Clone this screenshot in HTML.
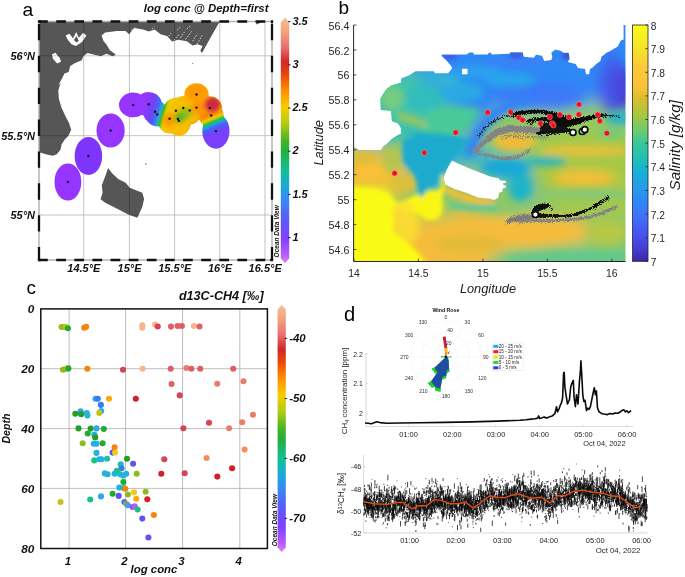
<!DOCTYPE html>
<html lang="en">
<head>
<meta charset="utf-8">
<title>Figure: methane survey panels a-d</title>
<style>
html,body{margin:0;padding:0;background:#fff;}
body{width:685px;height:577px;overflow:hidden;font-family:'Liberation Sans', sans-serif;}
svg{display:block;}
svg text{font-family:'Liberation Sans', sans-serif;}
.bi{font-weight:bold;font-style:italic;}
.it{font-style:italic;}
.pl{fill:#000;}
</style>
</head>
<body>
<svg width="685" height="577" viewBox="0 0 685 577">
<g id="panel-a">
<defs>
<linearGradient id="odv" x1="0" y1="0" x2="0" y2="1">
<stop offset="0" stop-color="#f9be90"/>
<stop offset="0.06" stop-color="#f3a07c"/>
<stop offset="0.12" stop-color="#e87070"/>
<stop offset="0.18" stop-color="#d02828"/>
<stop offset="0.235" stop-color="#ec4a08"/>
<stop offset="0.3" stop-color="#ff9200"/>
<stop offset="0.365" stop-color="#f6cc00"/>
<stop offset="0.43" stop-color="#b4cc14"/>
<stop offset="0.5" stop-color="#48b424"/>
<stop offset="0.545" stop-color="#22b040"/>
<stop offset="0.62" stop-color="#12c090"/>
<stop offset="0.69" stop-color="#1ca8dc"/>
<stop offset="0.75" stop-color="#3c84f4"/>
<stop offset="0.82" stop-color="#5a5cf6"/>
<stop offset="0.9" stop-color="#8040ff"/>
<stop offset="0.96" stop-color="#b458fa"/>
<stop offset="1" stop-color="#dc80f2"/>
</linearGradient>
<linearGradient id="gA1" gradientUnits="userSpaceOnUse" x1="142.5" y1="110" x2="180.9" y2="121.1">
<stop offset="0" stop-color="#9636ff"/>
<stop offset="0.1" stop-color="#8a38fd"/>
<stop offset="0.22" stop-color="#6e44f8"/>
<stop offset="0.34" stop-color="#4e62f4"/>
<stop offset="0.405" stop-color="#3a84ee"/>
<stop offset="0.45" stop-color="#20b4d0"/>
<stop offset="0.485" stop-color="#22b860"/>
<stop offset="0.52" stop-color="#4cb820"/>
<stop offset="0.56" stop-color="#b4cc10"/>
<stop offset="0.61" stop-color="#f0cc00"/>
<stop offset="0.72" stop-color="#f6c200"/>
<stop offset="1" stop-color="#f8bc00"/>
</linearGradient>
<linearGradient id="gA2" gradientUnits="userSpaceOnUse" x1="205.5" y1="106" x2="217" y2="133.7">
<stop offset="0" stop-color="#f88a00" stop-opacity="0"/>
<stop offset="0.3" stop-color="#f88a00" stop-opacity="0"/>
<stop offset="0.4" stop-color="#f6a000" stop-opacity="1"/>
<stop offset="0.47" stop-color="#f0cc00" stop-opacity="1"/>
<stop offset="0.53" stop-color="#9cc814" stop-opacity="1"/>
<stop offset="0.585" stop-color="#2cb83c" stop-opacity="1"/>
<stop offset="0.64" stop-color="#16b8b0" stop-opacity="1"/>
<stop offset="0.7" stop-color="#2c8cec" stop-opacity="1"/>
<stop offset="0.78" stop-color="#4a60f4" stop-opacity="1"/>
<stop offset="0.92" stop-color="#6a46f8" stop-opacity="1"/>
<stop offset="1" stop-color="#7a40fb" stop-opacity="1"/>
</linearGradient>
<filter id="blA" x="-50%" y="-50%" width="200%" height="200%"><feGaussianBlur stdDeviation="2.6"/></filter>
<filter id="blA2" x="-50%" y="-50%" width="200%" height="200%"><feGaussianBlur stdDeviation="1.6"/></filter>
<filter id="blE" x="-5%" y="-5%" width="110%" height="110%"><feGaussianBlur stdDeviation="0.45"/></filter>
<clipPath id="clipA">
<ellipse cx="67.9" cy="182" rx="13.4" ry="18.6"/>
<ellipse cx="88.4" cy="156" rx="13.8" ry="19"/>
<ellipse cx="110.6" cy="130.6" rx="14.1" ry="17"/>
<ellipse cx="133.2" cy="104.9" rx="14.2" ry="12.4"/>
<ellipse cx="148.7" cy="104.2" rx="13.2" ry="12.2"/>
<ellipse cx="155" cy="111.8" rx="12" ry="12"/>
<ellipse cx="157.3" cy="114.4" rx="12" ry="12"/>
<ellipse cx="169.6" cy="118.8" rx="12.5" ry="14.6"/>
<ellipse cx="175.9" cy="110.8" rx="12.5" ry="13"/>
<ellipse cx="177.9" cy="119" rx="12.5" ry="15.5"/>
<ellipse cx="178.9" cy="120.9" rx="12.5" ry="15.2"/>
<ellipse cx="183.3" cy="108" rx="12" ry="12"/>
<ellipse cx="189.7" cy="110.4" rx="12" ry="14"/>
<ellipse cx="196.5" cy="107.6" rx="12" ry="12.5"/>
<ellipse cx="196.5" cy="94.5" rx="12.2" ry="11.2"/>
<ellipse cx="209.8" cy="108" rx="12.4" ry="11.8"/>
<ellipse cx="211.2" cy="115.5" rx="12.6" ry="12"/>
<ellipse cx="215.9" cy="131.1" rx="13.6" ry="17.6"/>
</clipPath>
<clipPath id="frameA"><rect x="39.0" y="21.5" width="233.0" height="238.5"/></clipPath>
</defs>
<g clip-path="url(#frameA)">
<polygon points="37,19 220.7,19.1 219.5,22 213.1,33.1 207.3,43.6 202,53 200.3,50.6 202.6,45.9 197.3,44.2 192.7,45.4 186.8,41.3 178.1,39.8 172.2,41.6 167,36 160.5,34.3 154.7,29.6 148.9,31.4 143,29.6 134.3,28.1 129,34.3 125.5,31.1 116.8,31.1 105.1,32.5 101.6,35.4 103.6,41.3 106.5,44.5 109.7,50 115.9,54.7 112.4,56.2 106.5,53.8 100.7,56.2 93.4,54.4 87.6,53 83.5,55.9 81.7,60.3 74.7,63.2 70.3,66.1 68.6,71.9 64.5,73.4 61.6,79.2 58.4,85.1 60.6,83 58.3,90.5 58.8,98.6 61.6,108.1 65.9,116.9 69.1,123.2 71.2,129.7 68.4,135.8 64.6,139.8 61.1,145.1 61.6,145 60.3,150 56.8,154.3 52.8,155.8 46.8,154.6 41.7,153 37.7,152" fill="#575757" filter="url(#blE)"/>
<polygon points="255,20.1 265.5,20.1 260,23.1 256.5,24.6" fill="#575757"/>
<polygon points="65.7,35.4 69.5,33.7 73,38.4 76.2,31.9 78.8,37.8 83.2,32.8 86.4,35.4 82,41.9 75.9,45.9 71.5,44.2 67.7,39.8" fill="#fff" filter="url(#blE)"/>
<polygon points="73.8,40.1 76.5,36 78.8,40.7 76.5,42.4" fill="#575757"/>
<polygon points="51.9,54.4 55.4,52.7 59.8,57.9 61,61.7 57.2,63.5 53.1,59.1" fill="#fff" filter="url(#blE)"/>
<line x1="167" y1="38.4" x2="171.1" y2="33.1" stroke="#fff" stroke-width="0.9" stroke-dasharray="1.6 1.3" opacity="0.8"/>
<line x1="174" y1="40.1" x2="179.2" y2="34.3" stroke="#fff" stroke-width="0.9" stroke-dasharray="1.6 1.3" opacity="0.8"/>
<line x1="180.4" y1="37.8" x2="184.5" y2="31.9" stroke="#fff" stroke-width="0.9" stroke-dasharray="1.6 1.3" opacity="0.8"/>
<line x1="185.7" y1="39.5" x2="191.5" y2="31.4" stroke="#fff" stroke-width="0.9" stroke-dasharray="1.6 1.3" opacity="0.8"/>
<line x1="192.7" y1="41.3" x2="197.3" y2="33.7" stroke="#fff" stroke-width="0.9" stroke-dasharray="1.6 1.3" opacity="0.8"/>
<line x1="197.3" y1="44.2" x2="202" y2="35.4" stroke="#fff" stroke-width="0.9" stroke-dasharray="1.6 1.3" opacity="0.8"/>
<line x1="176.9" y1="30.2" x2="181" y2="26.7" stroke="#fff" stroke-width="0.9" stroke-dasharray="1.6 1.3" opacity="0.8"/>
<line x1="186.8" y1="29" x2="190.9" y2="25.5" stroke="#fff" stroke-width="0.9" stroke-dasharray="1.6 1.3" opacity="0.8"/>
<line x1="131.4" y1="30.2" x2="135.4" y2="27.8" stroke="#fff" stroke-width="0.9" stroke-dasharray="1.6 1.3" opacity="0.8"/>
<line x1="151.8" y1="29" x2="154.7" y2="26.7" stroke="#fff" stroke-width="0.9" stroke-dasharray="1.6 1.3" opacity="0.8"/>
<polygon points="108.1,168.1 112.1,173.2 118.2,178.9 125.7,182.7 129.7,187.7 142.3,192.8 144.1,199.1 142.3,206.9 137.3,217.7 128.2,214.4 115.7,208.1 105.6,203.1 100.6,199.3 102.6,192.8 101.8,185.2 105.6,175.2" fill="#575757" filter="url(#blE)"/>
<circle cx="192.6" cy="63.4" r="0.7" fill="#999"/><circle cx="145.8" cy="164" r="0.8" fill="#666"/>
</g>
<g style="mix-blend-mode:multiply">
<line x1="83.7" y1="21.5" x2="83.7" y2="260.0" stroke="#b4b4b4" stroke-width="0.8"/>
<line x1="129.4" y1="21.5" x2="129.4" y2="260.0" stroke="#b4b4b4" stroke-width="0.8"/>
<line x1="174.6" y1="21.5" x2="174.6" y2="260.0" stroke="#b4b4b4" stroke-width="0.8"/>
<line x1="219.8" y1="21.5" x2="219.8" y2="260.0" stroke="#b4b4b4" stroke-width="0.8"/>
<line x1="265.0" y1="21.5" x2="265.0" y2="260.0" stroke="#b4b4b4" stroke-width="0.8"/>
<line x1="39.0" y1="55.8" x2="272.0" y2="55.8" stroke="#b4b4b4" stroke-width="0.8"/>
<line x1="39.0" y1="135.7" x2="272.0" y2="135.7" stroke="#b4b4b4" stroke-width="0.8"/>
<line x1="39.0" y1="215.0" x2="272.0" y2="215.0" stroke="#b4b4b4" stroke-width="0.8"/>
</g>
<g clip-path="url(#clipA)" filter="url(#blE)">
<rect x="50" y="80" width="190" height="125" fill="#9636ff"/>
<ellipse cx="88.4" cy="156" rx="16" ry="21" fill="#7e34fb" filter="url(#blA)"/>
<rect x="140" y="78" width="95" height="75" fill="url(#gA1)"/>
<g filter="url(#blA)">
<ellipse cx="169" cy="120" rx="6" ry="7" fill="#ff9800"/>
<ellipse cx="196.5" cy="92" rx="12" ry="10" fill="#ff9a00"/>
<ellipse cx="198" cy="108" rx="7" ry="6" fill="#ff9000"/>
<ellipse cx="211" cy="118" rx="12" ry="6" fill="#fa7c00"/>
<ellipse cx="183" cy="115" rx="10.5" ry="5.2" transform="rotate(-30 183 115)" fill="#84c018"/>
<ellipse cx="179.8" cy="117.6" rx="4.4" ry="3.6" fill="#3cac20"/>
<ellipse cx="212.4" cy="104.6" rx="8.5" ry="8" fill="#d8283a"/>
</g>
<ellipse cx="212.8" cy="104.2" rx="5" ry="4.5" fill="#cb2c44" filter="url(#blA2)"/>
<rect x="190" y="100" width="50" height="60" fill="url(#gA2)"/>
</g>
<circle cx="67.9" cy="182" r="1.2" fill="#111"/>
<circle cx="88.4" cy="156" r="1.2" fill="#111"/>
<circle cx="110.6" cy="130.6" r="1.2" fill="#111"/>
<circle cx="133.2" cy="104.9" r="1.2" fill="#111"/>
<circle cx="148.7" cy="104.2" r="1.2" fill="#111"/>
<circle cx="155" cy="111.8" r="1.2" fill="#111"/>
<circle cx="157.3" cy="114.4" r="1.2" fill="#111"/>
<circle cx="169.6" cy="118.8" r="1.2" fill="#111"/>
<circle cx="175.9" cy="110.8" r="1.2" fill="#111"/>
<circle cx="177.9" cy="119" r="1.2" fill="#111"/>
<circle cx="178.9" cy="120.9" r="1.2" fill="#111"/>
<circle cx="183.3" cy="108" r="1.2" fill="#111"/>
<circle cx="189.7" cy="110.4" r="1.2" fill="#111"/>
<circle cx="196.5" cy="107.6" r="1.2" fill="#111"/>
<circle cx="196.5" cy="94.5" r="1.2" fill="#111"/>
<circle cx="209.8" cy="108" r="1.2" fill="#111"/>
<circle cx="211.2" cy="115.5" r="1.2" fill="#111"/>
<circle cx="215.9" cy="131.1" r="1.2" fill="#111"/>
<rect x="39.0" y="21.5" width="233.0" height="238.5" fill="none" stroke="#b0b0b0" stroke-width="1.4"/>
<line x1="39.0" y1="21.5" x2="272.0" y2="21.5" stroke="#111" stroke-width="2.3" stroke-dasharray="9.7 8.42" stroke-dashoffset="0.9"/>
<line x1="39.0" y1="260.0" x2="272.0" y2="260.0" stroke="#111" stroke-width="2.3" stroke-dasharray="9.7 8.42" stroke-dashoffset="0.9"/>
<line x1="39.0" y1="21.5" x2="39.0" y2="260.0" stroke="#111" stroke-width="2.3" stroke-dasharray="16.4 15.48" stroke-dashoffset="-2.4"/>
<line x1="272.0" y1="21.5" x2="272.0" y2="260.0" stroke="#111" stroke-width="2.3" stroke-dasharray="16.4 15.48" stroke-dashoffset="-2.4"/>
<path d="M37.85 21.5 h3 M39.0 261.15 v-3 M272.0 20.35 v3 M273.15 260.0 h-3" stroke="#111" stroke-width="2.3" fill="none"/>
<text class="pl" x="22.6" y="16.1" font-size="19.2">a</text>
<text class="bi" x="268.5" y="11.6" font-size="11.4" text-anchor="end" fill="#111">log conc @ Depth=first</text>
<text class="bi" x="35" y="59.7" font-size="11" text-anchor="end" fill="#111">56°N</text>
<text class="bi" x="35" y="139.6" font-size="11" text-anchor="end" fill="#111">55.5°N</text>
<text class="bi" x="35" y="218.9" font-size="11" text-anchor="end" fill="#111">55°N</text>
<text class="bi" x="83.9" y="271.9" font-size="11" text-anchor="middle" fill="#111">14.5°E</text>
<text class="bi" x="129.6" y="271.9" font-size="11" text-anchor="middle" fill="#111">15°E</text>
<text class="bi" x="174.8" y="271.9" font-size="11" text-anchor="middle" fill="#111">15.5°E</text>
<text class="bi" x="220" y="271.9" font-size="11" text-anchor="middle" fill="#111">16°E</text>
<text class="bi" x="265.2" y="271.9" font-size="11" text-anchor="middle" fill="#111">16.5°E</text>
<polygon points="280.8,22.5 285,17.6 289.2,22.5 289.2,258.2 285,263.2 280.8,258.2" fill="url(#odv)"/>
<line x1="288.0" y1="21.6" x2="290.59999999999997" y2="21.6" stroke="#111" stroke-width="0.9"/>
<text class="bi" x="292.4" y="24.8" font-size="11" fill="#111">3.5</text>
<line x1="288.0" y1="64.8" x2="290.59999999999997" y2="64.8" stroke="#111" stroke-width="0.9"/>
<text class="bi" x="292.4" y="68" font-size="11" fill="#111">3</text>
<line x1="288.0" y1="108" x2="290.59999999999997" y2="108" stroke="#111" stroke-width="0.9"/>
<text class="bi" x="292.4" y="111.2" font-size="11" fill="#111">2.5</text>
<line x1="288.0" y1="151.2" x2="290.59999999999997" y2="151.2" stroke="#111" stroke-width="0.9"/>
<text class="bi" x="292.4" y="154.4" font-size="11" fill="#111">2</text>
<line x1="288.0" y1="194.4" x2="290.59999999999997" y2="194.4" stroke="#111" stroke-width="0.9"/>
<text class="bi" x="292.4" y="197.6" font-size="11" fill="#111">1.5</text>
<line x1="288.0" y1="237.6" x2="290.59999999999997" y2="237.6" stroke="#111" stroke-width="0.9"/>
<text class="bi" x="292.4" y="240.8" font-size="11" fill="#111">1</text>
<text class="bi" transform="translate(279.4 257.4) rotate(-90)" font-size="6.5" fill="#111">Ocean Data View</text>
</g>
<g id="panel-b">
<defs>
<clipPath id="clipB"><rect x="354.0" y="25.0" width="271.4" height="236.5"/></clipPath>
<filter id="b9" filterUnits="userSpaceOnUse" x="300" y="-20" width="380" height="330"><feGaussianBlur stdDeviation="8"/></filter>
<filter id="b6" filterUnits="userSpaceOnUse" x="300" y="-20" width="380" height="330"><feGaussianBlur stdDeviation="5.5"/></filter>
<filter id="b4" filterUnits="userSpaceOnUse" x="300" y="-20" width="380" height="330"><feGaussianBlur stdDeviation="3.6"/></filter>
<filter id="b2" filterUnits="userSpaceOnUse" x="300" y="-20" width="380" height="330"><feGaussianBlur stdDeviation="2.2"/></filter>
<filter id="b1" filterUnits="userSpaceOnUse" x="300" y="-20" width="380" height="330"><feGaussianBlur stdDeviation="1.2"/></filter>
<filter id="b05" filterUnits="userSpaceOnUse" x="300" y="-20" width="380" height="330"><feGaussianBlur stdDeviation="0.6"/></filter>
<filter id="spkK" filterUnits="userSpaceOnUse" x="300" y="-20" width="380" height="330" color-interpolation-filters="sRGB"><feGaussianBlur in="SourceAlpha" stdDeviation="1.4" result="B"/><feTurbulence type="fractalNoise" baseFrequency="0.9" numOctaves="2" seed="3" result="N"/><feColorMatrix in="N" type="matrix" values="0 0 0 0 0  0 0 0 0 0  0 0 0 0 0  2.2 0 0 0 -0.6" result="N2"/><feComposite in="B" in2="N2" operator="arithmetic" k1="0" k2="2.1" k3="1" k4="-1.05" result="C"/><feComponentTransfer in="C" result="D"><feFuncA type="linear" slope="5" intercept="-0.6"/></feComponentTransfer><feFlood flood-color="#0c0c0c" result="F"/><feComposite in="F" in2="D" operator="in"/></filter>
<filter id="spkK2" filterUnits="userSpaceOnUse" x="300" y="-20" width="380" height="330" color-interpolation-filters="sRGB"><feGaussianBlur in="SourceAlpha" stdDeviation="0.8" result="B"/><feTurbulence type="fractalNoise" baseFrequency="0.9" numOctaves="2" seed="11" result="N"/><feColorMatrix in="N" type="matrix" values="0 0 0 0 0  0 0 0 0 0  0 0 0 0 0  2.2 0 0 0 -0.6" result="N2"/><feComposite in="B" in2="N2" operator="arithmetic" k1="0" k2="2.3" k3="1" k4="-1.05" result="C"/><feComponentTransfer in="C" result="D"><feFuncA type="linear" slope="5" intercept="-0.6"/></feComponentTransfer><feFlood flood-color="#101010" result="F"/><feComposite in="F" in2="D" operator="in"/></filter>
<filter id="spkG" filterUnits="userSpaceOnUse" x="300" y="-20" width="380" height="330" color-interpolation-filters="sRGB"><feGaussianBlur in="SourceAlpha" stdDeviation="1.5" result="B"/><feTurbulence type="fractalNoise" baseFrequency="0.9" numOctaves="2" seed="5" result="N"/><feColorMatrix in="N" type="matrix" values="0 0 0 0 0  0 0 0 0 0  0 0 0 0 0  2.2 0 0 0 -0.6" result="N2"/><feComposite in="B" in2="N2" operator="arithmetic" k1="0" k2="2.1" k3="1" k4="-1.05" result="C"/><feComponentTransfer in="C" result="D"><feFuncA type="linear" slope="5" intercept="-0.6"/></feComponentTransfer><feFlood flood-color="#848484" result="F"/><feComposite in="F" in2="D" operator="in"/></filter>
<filter id="spkG2" filterUnits="userSpaceOnUse" x="300" y="-20" width="380" height="330" color-interpolation-filters="sRGB"><feGaussianBlur in="SourceAlpha" stdDeviation="2.4" result="B"/><feTurbulence type="fractalNoise" baseFrequency="0.9" numOctaves="2" seed="8" result="N"/><feColorMatrix in="N" type="matrix" values="0 0 0 0 0  0 0 0 0 0  0 0 0 0 0  2.2 0 0 0 -0.6" result="N2"/><feComposite in="B" in2="N2" operator="arithmetic" k1="0" k2="1.9" k3="1" k4="-1.05" result="C"/><feComponentTransfer in="C" result="D"><feFuncA type="linear" slope="5" intercept="-0.6"/></feComponentTransfer><feFlood flood-color="#808080" result="F"/><feComposite in="F" in2="D" operator="in"/></filter>
<filter id="spkK3" filterUnits="userSpaceOnUse" x="300" y="-20" width="380" height="330" color-interpolation-filters="sRGB"><feGaussianBlur in="SourceAlpha" stdDeviation="1.6" result="B"/><feTurbulence type="fractalNoise" baseFrequency="0.9" numOctaves="2" seed="21" result="N"/><feColorMatrix in="N" type="matrix" values="0 0 0 0 0  0 0 0 0 0  0 0 0 0 0  2.2 0 0 0 -0.6" result="N2"/><feComposite in="B" in2="N2" operator="arithmetic" k1="0" k2="1.25" k3="1" k4="-1.05" result="C"/><feComponentTransfer in="C" result="D"><feFuncA type="linear" slope="5" intercept="-0.6"/></feComponentTransfer><feFlood flood-color="#141414" result="F"/><feComposite in="F" in2="D" operator="in"/></filter>
<filter id="spkG3" filterUnits="userSpaceOnUse" x="300" y="-20" width="380" height="330" color-interpolation-filters="sRGB"><feGaussianBlur in="SourceAlpha" stdDeviation="1.8" result="B"/><feTurbulence type="fractalNoise" baseFrequency="0.9" numOctaves="2" seed="17" result="N"/><feColorMatrix in="N" type="matrix" values="0 0 0 0 0  0 0 0 0 0  0 0 0 0 0  2.2 0 0 0 -0.6" result="N2"/><feComposite in="B" in2="N2" operator="arithmetic" k1="0" k2="1.25" k3="1" k4="-1.05" result="C"/><feComponentTransfer in="C" result="D"><feFuncA type="linear" slope="5" intercept="-0.6"/></feComponentTransfer><feFlood flood-color="#7c7c7c" result="F"/><feComposite in="F" in2="D" operator="in"/></filter>
<linearGradient id="parula" x1="0" y1="1" x2="0" y2="0">
<stop offset="0" stop-color="#3e26a8"/>
<stop offset="0.06" stop-color="#4540d6"/>
<stop offset="0.125" stop-color="#4756f3"/>
<stop offset="0.19" stop-color="#4070fb"/>
<stop offset="0.25" stop-color="#2e87f7"/>
<stop offset="0.32" stop-color="#249ee8"/>
<stop offset="0.375" stop-color="#12b1d6"/>
<stop offset="0.44" stop-color="#24c0b4"/>
<stop offset="0.5" stop-color="#37c897"/>
<stop offset="0.56" stop-color="#74cc68"/>
<stop offset="0.625" stop-color="#abc739"/>
<stop offset="0.69" stop-color="#dcbd2c"/>
<stop offset="0.75" stop-color="#fec338"/>
<stop offset="0.82" stop-color="#fcc838"/>
<stop offset="0.875" stop-color="#f5dc2c"/>
<stop offset="0.94" stop-color="#f5ee22"/>
<stop offset="1" stop-color="#f9fb15"/>
</linearGradient>
</defs>
<g clip-path="url(#clipB)">
<g filter="url(#b9)">
<rect x="300" y="-20" width="380" height="330" fill="#90c864"/>
<polygon points="380,-10 660,-10 660,104 605,100 560,108 524,104 500,108 486,118 474,134 464,128 454,106 440,86 420,70 380,70" fill="#2e88f6" />
<polygon points="330,70 425,72 448,96 458,118 452,140 420,146 395,150 330,150" fill="#3cc2ac" />
<polygon points="404,140 425,130 452,130 470,140 494,156 528,160 534,204 510,182 474,164 452,166 444,186 428,200 416,178 404,158" fill="#18aed4" />
<polygon points="330,148 388,150 404,162 410,182 400,196 330,196" fill="#ecbe38" />
<polygon points="380,205 420,220 446,216 470,208 520,216 586,222 592,240 548,246 520,290 380,290" fill="#f4bc3a" />
<polygon points="540,134 660,128 660,216 560,210 535,176" fill="#a6c846" />
<polygon points="492,251 545,247 660,238 660,290 484,290" fill="#74c880" />
</g>
<g filter="url(#b6)">
<ellipse cx="621" cy="88" rx="13" ry="22" fill="#4634c4" />
<ellipse cx="612" cy="84" rx="14" ry="30" fill="#4754ea" opacity="0.75"/>
<polygon points="320,187 386,189 393,200 394,232 410,248 434,290 320,290" fill="#f9fb15" />
<ellipse cx="584" cy="178.5" rx="32" ry="10.5" fill="#f0c038" />
<ellipse cx="608" cy="233" rx="20" ry="13" fill="#b8c844" />
<ellipse cx="530" cy="231" rx="52" ry="9.5" fill="#f6bc3a" />
<ellipse cx="500" cy="208" rx="30" ry="5" fill="#78c878" />
<ellipse cx="540" cy="95" rx="44" ry="12" fill="#3c78f8" />
</g>
<g filter="url(#b4)">
<ellipse cx="431" cy="205" rx="10" ry="12" fill="#f9fb15" />
<ellipse cx="414" cy="208" rx="14" ry="7" fill="#fae02a" />
<ellipse cx="371" cy="172" rx="18" ry="8" fill="#fbc038" />
<ellipse cx="364" cy="158" rx="12" ry="5" fill="#dcbc36" />
<ellipse cx="392" cy="98" rx="12" ry="13" fill="#74cc80" />
<ellipse cx="425" cy="98" rx="20" ry="13" fill="#30bcbc" />
<ellipse cx="440" cy="145" rx="16" ry="10" fill="#16a8d8" />
<ellipse cx="430" cy="165" rx="14" ry="14" fill="#16a8d8" />
<ellipse cx="510" cy="80" rx="26" ry="7" fill="#28a6ea" />
<ellipse cx="462" cy="92" rx="22" ry="10" fill="#2ca8e4" />
<ellipse cx="440" cy="80" rx="20" ry="9" fill="#30b0d8" />
<ellipse cx="478" cy="72" rx="26" ry="7" fill="#2ca0ee" />
<path d="M400 116.5 L416 121 L433 130" fill="none" stroke="#b0c848" stroke-width="6.5" stroke-linecap="round" stroke-linejoin="round" />
<path d="M392 152 L405 142 L420 150" fill="none" stroke="#9cc858" stroke-width="7" stroke-linecap="round" stroke-linejoin="round" />
<polygon points="426,110 455,106 477,107.5 481,113 470,127 456,137 440,141 426,140" fill="#48c89a" />
<path d="M526 100 C505 104 488 116 477 135 C474 141 472 146 470 151" fill="none" stroke="#3084f2" stroke-width="11" stroke-linecap="round" stroke-linejoin="round" />
<ellipse cx="515" cy="141" rx="22" ry="10" fill="#e6c03a" />
<ellipse cx="512" cy="143.5" rx="13" ry="5" fill="#f6b83a" />
<ellipse cx="585" cy="150.5" rx="46" ry="5" fill="#e8c03a" />
<ellipse cx="546" cy="161.5" rx="22" ry="4.2" fill="#28b4c4" />
<ellipse cx="588" cy="194" rx="50" ry="5.5" fill="#84c874" />
<ellipse cx="595" cy="161" rx="30" ry="4" fill="#a6c846" />
<ellipse cx="505" cy="168" rx="24" ry="8" fill="#16a8d8" />
<ellipse cx="520" cy="188" rx="11" ry="13" fill="#1eb4c4" />
<ellipse cx="620" cy="118" rx="14" ry="7" fill="#28b4c8" />
<ellipse cx="612" cy="133" rx="14" ry="6" fill="#74c878" />
<ellipse cx="470" cy="244" rx="34" ry="8" fill="#e2ba38" />
<ellipse cx="575" cy="258" rx="70" ry="6.5" fill="#62c88c" />
</g>
<g filter="url(#b4)">
<ellipse cx="404" cy="183" rx="14" ry="9" fill="#dcc03a" />
<ellipse cx="407" cy="226" rx="13" ry="18" fill="#f9da32" />
<ellipse cx="392" cy="160" rx="10" ry="12" fill="#b4c450" />
</g>
<g filter="url(#b2)">
<polygon points="402,140 403.1,161.7 415,174.7 419.4,194.2 422.6,197.4 425.9,188.8 436.7,183.3 443.2,172.5 451.9,160.6 454,153 462.7,146.5 471.4,140 440,134 420,134" fill="#1eaacd" />
<polygon points="340,186.6 371.7,188.8 387.9,193.1 396.6,202.9 394.4,222.4 391.2,231 406.4,241.9 421.5,257 432,275 340,275" fill="#f9fb15" />
<polygon points="406.8,200.1 415.6,194.8 422.6,197.4 427.8,191.3 436.6,190.4 441,187.8 441.5,174.7 445,174.7 445,187.8 442.2,196.6 441.5,214.1 436.6,219.3 426.1,220.2 419.1,214.1 410.3,212.3 403.3,207.1" fill="#f9f618" />
<ellipse cx="404" cy="207.5" rx="11" ry="6.5" fill="#f9e62a" />
<ellipse cx="400" cy="214" rx="8" ry="8" fill="#f9dc30" />
<path d="M446 190 L468 198.5 L492 203" fill="none" stroke="#f8bc3a" stroke-width="6" stroke-linecap="round" stroke-linejoin="round" />
<path d="M452 206 L470 207.5 L494 207" fill="none" stroke="#62c890" stroke-width="6" stroke-linecap="round" stroke-linejoin="round" />
</g>
<g filter="url(#b2)">
<ellipse cx="516.5" cy="55.5" rx="8" ry="2.4" fill="#4448d4" />
<ellipse cx="566.5" cy="55.5" rx="4" ry="4.5" fill="#4448d4" />
<ellipse cx="449" cy="57" rx="8" ry="2.4" fill="#4450de" />
<ellipse cx="520" cy="62" rx="40" ry="4" fill="#3a82f6" />
</g>
<polygon points="340,10 340,146.9 354,146.9 359.2,149.9 380.7,149.9 383.7,145.8 386.8,143.8 391.9,138.7 397,135.6 401.1,133.6 401.1,128.5 398,123.4 391.9,121.3 390.9,111.1 380.7,110.1 380.2,98.8 383.7,92.7 386.8,88.6 390.9,85.5 401.1,82.5 401.1,78.4 409.3,75.3 415.4,71.2 433.8,71.2 434.8,73.3 448.1,73.3 452.2,68.2 451.2,66.1 446,60 441.7,56 441.7,54.5 466.6,54.5 469.3,52.5 473.2,52.5 474,54.5 487.6,54.5 489,52.7 491,52.7 491.6,54.5 509.4,53.7 510.4,52.3 522.7,52.3 523.7,56.8 533.9,57.8 536,54.7 542.1,55.8 544.2,60.9 551.3,59.9 552.3,56.8 551.3,52.7 555.4,49.6 560.5,50.7 563.6,52.7 568.7,52.7 569.7,58.8 567.7,61.9 571.7,62.9 575.8,63.9 577.9,68 585,69 586.1,74.2 589.1,74.2 590.1,69 593.2,67 596.3,63.9 600.4,60.9 601.4,56.8 606.5,52.7 610.6,50.7 617.7,46.6 620.8,40.4 623.6,39.4 623.6,10" fill="#fff" />
<polygon points="462,68.8 467.5,68.8 467.5,74.3 462,74.3" fill="#fff" />
<polygon points="451.9,160.6 458.4,163.8 471.4,169.3 490,176.6 499.2,178.4 499.8,180.4 505.9,180.8 505.9,183 503.2,183 503.2,185 505.9,185.6 505.9,187.6 502.7,188.6 502.3,191.7 499.2,192.7 498.2,197.8 494.1,199.9 490,198.8 477.9,197.4 467,193.1 454,188.8 445.4,184.4 443.6,177.9 446.4,170.3" fill="#fff" />
<g filter="url(#spkG)">
<path d="M474 151 C480 146 484 142 488 139.4 C491 136 493 134 495 132.4" fill="none" stroke="#848484" stroke-width="3.0" stroke-linecap="round" stroke-linejoin="round" />
<path d="M489 138.6 C494 132 502 129.6 510 129 C520 128.8 532 129.4 546 131.4" fill="none" stroke="#848484" stroke-width="5.4" stroke-linecap="round" stroke-linejoin="round" />
<path d="M474 151 C480 153.4 492 157.4 505.3 158.6 C512 158.4 518 157 521 155.3 C525 153 528 151 530 149.2" fill="none" stroke="#848484" stroke-width="2.2" stroke-linecap="round" stroke-linejoin="round" />
<path d="M520 220 C545 221.4 572 220.6 592 216.4 C602 213.2 610 210 617 206.8" fill="none" stroke="#848484" stroke-width="2.4" stroke-linecap="round" stroke-linejoin="round" />
</g>
<g filter="url(#spkG2)" opacity="0.85">
<ellipse cx="521" cy="219" rx="10" ry="3.2" fill="#848484" />
<path d="M500 136 C512 136 530 137 548 138" fill="none" stroke="#848484" stroke-width="3.0" stroke-linecap="round" stroke-linejoin="round" />
</g>
<g filter="url(#spkK)">
<polygon points="548.8,114 553,112.6 557.6,112.4 561,114.2 564.6,116.4 570,118.2 575.1,119.1 582.1,117.4 592.6,115.6 603.1,114.2 612.7,115.8 612.7,116.6 603.1,116.8 592.6,118.6 583.8,121.2 578.6,123.9 571.6,125.6 562.8,126.5 555.8,126.5 551.4,123.9 547.9,120.1" fill="#0c0c0c" />
<path d="M512 115.2 C516 113.8 519 113.2 522.5 112.7 C527 111.8 531 111.5 534.8 111.4 C539 111.5 542 111.8 545.3 112.3 C548 112.8 551 113.4 554 114.2" fill="none" stroke="#0c0c0c" stroke-width="2.8" stroke-linecap="round" stroke-linejoin="round" />
<path d="M527.8 120.9 C532 119.6 536 119.2 540 119 C543 119 546 119.4 549.5 120" fill="none" stroke="#0c0c0c" stroke-width="2.6" stroke-linecap="round" stroke-linejoin="round" />
<path d="M538.3 133.4 C542 132.2 546 131.4 550.5 130.8 C555 130.2 559 130 562.8 129.9 C565 130 568 130.4 570 130.8" fill="none" stroke="#0c0c0c" stroke-width="3.2" stroke-linecap="round" stroke-linejoin="round" />
</g>
<g filter="url(#spkK3)">
<polygon points="538,124 548,121 556,126 568,126.5 570,131 560,134 546,135.5 540,131" fill="#0c0c0c" />
<path d="M479 138 C480 133 482.6 129 491.3 122.2 C496 119.2 503.6 117 513 114.8" fill="none" stroke="#0c0c0c" stroke-width="2.6" stroke-linecap="round" stroke-linejoin="round" />
<path d="M604 115.6 C609 115.4 614 116 620 117.6" fill="none" stroke="#0c0c0c" stroke-width="2.6" stroke-linecap="round" stroke-linejoin="round" />
<path d="M516 117.5 C522 118.6 528 121 533 125" fill="none" stroke="#0c0c0c" stroke-width="2.6" stroke-linecap="round" stroke-linejoin="round" />
<path d="M594 207.4 C599 203.6 604 200.4 609 197.6" fill="none" stroke="#0c0c0c" stroke-width="4" stroke-linecap="round" stroke-linejoin="round" />
<path d="M548 205 C551 206 552 208 552 210" fill="none" stroke="#0c0c0c" stroke-width="2.4" stroke-linecap="round" stroke-linejoin="round" />
</g>
<g filter="url(#spkK2)">
<path d="M533 215 L546 215.8" fill="none" stroke="#0c0c0c" stroke-width="3.0" stroke-linecap="round" stroke-linejoin="round" />
<path d="M541 215.6 C552 216.2 562 216.2 571.8 215.4 C576 214.6 580 213.2 584 211.4" fill="none" stroke="#0c0c0c" stroke-width="1.9" stroke-linecap="round" stroke-linejoin="round" />
<path d="M584 211.4 C590 208.6 596 205.2 601 202" fill="none" stroke="#161616" stroke-width="1.5" stroke-linecap="round" stroke-linejoin="round" />
<path d="M533.4 213 C534 207 540 204.4 549 205.4" fill="none" stroke="#0c0c0c" stroke-width="2.9" stroke-linecap="round" stroke-linejoin="round" />
<path d="M535.5 212 C538 209.4 541 208 545 208" fill="none" stroke="#0c0c0c" stroke-width="1.8" stroke-linecap="round" stroke-linejoin="round" />
</g>
<g filter="url(#spkG3)">
<path d="M508 221.5 C516 218 524 216.6 532 216.8" fill="none" stroke="#848484" stroke-width="6" stroke-linecap="round" stroke-linejoin="round" />
</g>
</g>
<circle cx="394.6" cy="173.3" r="2.75" fill="#f20c1c" stroke="#f6d8d0" stroke-width="0.5" stroke-opacity="0.7"/>
<circle cx="424.3" cy="152.8" r="2.75" fill="#f20c1c" stroke="#f6d8d0" stroke-width="0.5" stroke-opacity="0.7"/>
<circle cx="455.7" cy="132.6" r="2.75" fill="#f20c1c" stroke="#f6d8d0" stroke-width="0.5" stroke-opacity="0.7"/>
<circle cx="487.6" cy="112.4" r="2.75" fill="#f20c1c" stroke="#f6d8d0" stroke-width="0.5" stroke-opacity="0.7"/>
<circle cx="510.6" cy="112.1" r="2.75" fill="#f20c1c" stroke="#f6d8d0" stroke-width="0.5" stroke-opacity="0.7"/>
<circle cx="519" cy="117.7" r="2.75" fill="#f20c1c" stroke="#f6d8d0" stroke-width="0.5" stroke-opacity="0.7"/>
<circle cx="522.5" cy="120" r="2.75" fill="#f20c1c" stroke="#f6d8d0" stroke-width="0.5" stroke-opacity="0.7"/>
<circle cx="540.5" cy="123.5" r="2.75" fill="#f20c1c" stroke="#f6d8d0" stroke-width="0.5" stroke-opacity="0.7"/>
<circle cx="549.7" cy="117" r="2.75" fill="#f20c1c" stroke="#f6d8d0" stroke-width="0.5" stroke-opacity="0.7"/>
<circle cx="552.1" cy="123.4" r="2.75" fill="#f20c1c" stroke="#f6d8d0" stroke-width="0.5" stroke-opacity="0.7"/>
<circle cx="553.5" cy="125.3" r="2.75" fill="#f20c1c" stroke="#f6d8d0" stroke-width="0.5" stroke-opacity="0.7"/>
<circle cx="559.9" cy="114.7" r="2.75" fill="#f20c1c" stroke="#f6d8d0" stroke-width="0.5" stroke-opacity="0.7"/>
<circle cx="569" cy="117" r="2.75" fill="#f20c1c" stroke="#f6d8d0" stroke-width="0.5" stroke-opacity="0.7"/>
<circle cx="578.8" cy="114.6" r="2.75" fill="#f20c1c" stroke="#f6d8d0" stroke-width="0.5" stroke-opacity="0.7"/>
<circle cx="579" cy="104.4" r="2.75" fill="#f20c1c" stroke="#f6d8d0" stroke-width="0.5" stroke-opacity="0.7"/>
<circle cx="597.7" cy="114.7" r="2.75" fill="#f20c1c" stroke="#f6d8d0" stroke-width="0.5" stroke-opacity="0.7"/>
<circle cx="599.8" cy="121" r="2.75" fill="#f20c1c" stroke="#f6d8d0" stroke-width="0.5" stroke-opacity="0.7"/>
<circle cx="606.9" cy="133.2" r="2.75" fill="#f20c1c" stroke="#f6d8d0" stroke-width="0.5" stroke-opacity="0.7"/>
<circle cx="573" cy="132.5" r="3.0" fill="#fff" stroke="#0a0a0a" stroke-width="1.7"/>
<circle cx="582.3" cy="131.5" r="3.0" fill="#fff" stroke="#0a0a0a" stroke-width="1.7"/>
<circle cx="584.8" cy="129.7" r="3.0" fill="#fff" stroke="#0a0a0a" stroke-width="1.7"/>
<circle cx="535.4" cy="214.6" r="3.0" fill="#fff" stroke="#0a0a0a" stroke-width="1.7"/>
<path d="M353.6 25.0 V261.5 H625.4" fill="none" stroke="#262626" stroke-width="1"/>
<line x1="353.6" y1="25" x2="356.4" y2="25" stroke="#262626" stroke-width="0.8"/>
<text x="349.4" y="29.5" font-size="10.7" text-anchor="end" fill="#262626">56.4</text>
<line x1="353.6" y1="50" x2="356.4" y2="50" stroke="#262626" stroke-width="0.8"/>
<text x="349.4" y="54.5" font-size="10.7" text-anchor="end" fill="#262626">56.2</text>
<line x1="353.6" y1="74.9" x2="356.4" y2="74.9" stroke="#262626" stroke-width="0.8"/>
<text x="349.4" y="79.4" font-size="10.7" text-anchor="end" fill="#262626">56</text>
<line x1="353.6" y1="99.8" x2="356.4" y2="99.8" stroke="#262626" stroke-width="0.8"/>
<text x="349.4" y="104.3" font-size="10.7" text-anchor="end" fill="#262626">55.8</text>
<line x1="353.6" y1="124.8" x2="356.4" y2="124.8" stroke="#262626" stroke-width="0.8"/>
<text x="349.4" y="129.3" font-size="10.7" text-anchor="end" fill="#262626">55.6</text>
<line x1="353.6" y1="149.8" x2="356.4" y2="149.8" stroke="#262626" stroke-width="0.8"/>
<text x="349.4" y="154.2" font-size="10.7" text-anchor="end" fill="#262626">55.4</text>
<line x1="353.6" y1="174.7" x2="356.4" y2="174.7" stroke="#262626" stroke-width="0.8"/>
<text x="349.4" y="179.2" font-size="10.7" text-anchor="end" fill="#262626">55.2</text>
<line x1="353.6" y1="199.7" x2="356.4" y2="199.7" stroke="#262626" stroke-width="0.8"/>
<text x="349.4" y="204.2" font-size="10.7" text-anchor="end" fill="#262626">55</text>
<line x1="353.6" y1="224.6" x2="356.4" y2="224.6" stroke="#262626" stroke-width="0.8"/>
<text x="349.4" y="229.1" font-size="10.7" text-anchor="end" fill="#262626">54.8</text>
<line x1="353.6" y1="249.5" x2="356.4" y2="249.5" stroke="#262626" stroke-width="0.8"/>
<text x="349.4" y="254" font-size="10.7" text-anchor="end" fill="#262626">54.6</text>
<line x1="354" y1="261.5" x2="354" y2="258.7" stroke="#262626" stroke-width="0.8"/>
<text x="354" y="277" font-size="10.4" text-anchor="middle" fill="#262626">14</text>
<line x1="418.4" y1="261.5" x2="418.4" y2="258.7" stroke="#262626" stroke-width="0.8"/>
<text x="418.4" y="277" font-size="10.4" text-anchor="middle" fill="#262626">14.5</text>
<line x1="482.9" y1="261.5" x2="482.9" y2="258.7" stroke="#262626" stroke-width="0.8"/>
<text x="482.9" y="277" font-size="10.4" text-anchor="middle" fill="#262626">15</text>
<line x1="547.4" y1="261.5" x2="547.4" y2="258.7" stroke="#262626" stroke-width="0.8"/>
<text x="547.4" y="277" font-size="10.4" text-anchor="middle" fill="#262626">15.5</text>
<line x1="611.8" y1="261.5" x2="611.8" y2="258.7" stroke="#262626" stroke-width="0.8"/>
<text x="611.8" y="277" font-size="10.4" text-anchor="middle" fill="#262626">16</text>
<text class="it" x="488" y="293.3" font-size="12.8" text-anchor="middle" fill="#222">Longitude</text>
<text class="it" transform="translate(322.8 142.8) rotate(-90)" font-size="12.8" text-anchor="middle" fill="#222">Latitude</text>
<text class="pl" x="338.6" y="14.4" font-size="19">b</text>
<rect x="632.6" y="25" width="15.4" height="236.3" fill="url(#parula)" stroke="#262626" stroke-width="0.8"/>
<line x1="645.4" y1="25" x2="648" y2="25" stroke="#262626" stroke-width="0.8"/>
<text x="650.8" y="29.5" font-size="10.2" fill="#262626">8</text>
<line x1="645.4" y1="48.6" x2="648" y2="48.6" stroke="#262626" stroke-width="0.8"/>
<text x="650.8" y="53.1" font-size="10.2" fill="#262626">7.9</text>
<line x1="645.4" y1="72.3" x2="648" y2="72.3" stroke="#262626" stroke-width="0.8"/>
<text x="650.8" y="76.8" font-size="10.2" fill="#262626">7.8</text>
<line x1="645.4" y1="95.9" x2="648" y2="95.9" stroke="#262626" stroke-width="0.8"/>
<text x="650.8" y="100.4" font-size="10.2" fill="#262626">7.7</text>
<line x1="645.4" y1="119.5" x2="648" y2="119.5" stroke="#262626" stroke-width="0.8"/>
<text x="650.8" y="124" font-size="10.2" fill="#262626">7.6</text>
<line x1="645.4" y1="143.1" x2="648" y2="143.1" stroke="#262626" stroke-width="0.8"/>
<text x="650.8" y="147.6" font-size="10.2" fill="#262626">7.5</text>
<line x1="645.4" y1="166.8" x2="648" y2="166.8" stroke="#262626" stroke-width="0.8"/>
<text x="650.8" y="171.3" font-size="10.2" fill="#262626">7.4</text>
<line x1="645.4" y1="190.4" x2="648" y2="190.4" stroke="#262626" stroke-width="0.8"/>
<text x="650.8" y="194.9" font-size="10.2" fill="#262626">7.3</text>
<line x1="645.4" y1="214" x2="648" y2="214" stroke="#262626" stroke-width="0.8"/>
<text x="650.8" y="218.5" font-size="10.2" fill="#262626">7.2</text>
<line x1="645.4" y1="237.7" x2="648" y2="237.7" stroke="#262626" stroke-width="0.8"/>
<text x="650.8" y="242.2" font-size="10.2" fill="#262626">7.1</text>
<line x1="645.4" y1="261.3" x2="648" y2="261.3" stroke="#262626" stroke-width="0.8"/>
<text x="650.8" y="265.8" font-size="10.2" fill="#262626">7</text>
<text class="it" transform="translate(680.4 145.3) rotate(-90)" font-size="15.2" text-anchor="middle" fill="#1a1a1a">Salinity [g/kg]</text>
</g>
<g id="panel-c">
<line x1="69.1" y1="308.9" x2="69.1" y2="548.5" stroke="#aeaeae" stroke-width="0.8"/>
<line x1="125.6" y1="308.9" x2="125.6" y2="548.5" stroke="#aeaeae" stroke-width="0.8"/>
<line x1="182.6" y1="308.9" x2="182.6" y2="548.5" stroke="#aeaeae" stroke-width="0.8"/>
<line x1="239.8" y1="308.9" x2="239.8" y2="548.5" stroke="#aeaeae" stroke-width="0.8"/>
<line x1="40.3" y1="368.7" x2="267.6" y2="368.7" stroke="#aeaeae" stroke-width="0.8"/>
<line x1="40.3" y1="428.6" x2="267.6" y2="428.6" stroke="#aeaeae" stroke-width="0.8"/>
<line x1="40.3" y1="488.4" x2="267.6" y2="488.4" stroke="#aeaeae" stroke-width="0.8"/>
<g opacity="0.96">
<circle cx="61.6" cy="327" r="3.05" fill="#8cb818"/>
<circle cx="64.1" cy="327" r="3.05" fill="#8cb818"/>
<circle cx="65.9" cy="327" r="3.05" fill="#c4c010"/>
<circle cx="67.9" cy="328.2" r="3.05" fill="#18a828"/>
<circle cx="84.2" cy="327.7" r="3.05" fill="#f58006"/>
<circle cx="86.2" cy="326.7" r="3.05" fill="#f58006"/>
<circle cx="142.3" cy="325.2" r="3.05" fill="#f8b488"/>
<circle cx="142.3" cy="327.7" r="3.05" fill="#f8b488"/>
<circle cx="155.1" cy="324.5" r="3.05" fill="#f8b488"/>
<circle cx="157.7" cy="326.5" r="3.05" fill="#d43c50"/>
<circle cx="171" cy="326.6" r="3.05" fill="#de5a5e"/>
<circle cx="177.6" cy="326" r="3.05" fill="#de5a5e"/>
<circle cx="181.9" cy="326" r="3.05" fill="#de5a5e"/>
<circle cx="193.9" cy="326" r="3.05" fill="#f8b488"/>
<circle cx="199.5" cy="326.5" r="3.05" fill="#de5a5e"/>
<circle cx="62.9" cy="369.7" r="3.05" fill="#8cb818"/>
<circle cx="64.9" cy="369.2" r="3.05" fill="#8cb818"/>
<circle cx="67.9" cy="368" r="3.05" fill="#c4c010"/>
<circle cx="68.4" cy="368.6" r="3.05" fill="#18a828"/>
<circle cx="87.3" cy="368.7" r="3.05" fill="#f58006"/>
<circle cx="123" cy="369.7" r="3.05" fill="#d43c50"/>
<circle cx="142.6" cy="368.7" r="3.05" fill="#f8b488"/>
<circle cx="170.7" cy="368.7" r="3.05" fill="#de5a5e"/>
<circle cx="186.4" cy="368" r="3.05" fill="#e87868"/>
<circle cx="191.4" cy="368.7" r="3.05" fill="#de5a5e"/>
<circle cx="200.2" cy="368.7" r="3.05" fill="#de5a5e"/>
<circle cx="233.2" cy="368.7" r="3.05" fill="#de5a5e"/>
<circle cx="171.6" cy="384" r="3.05" fill="#de5a5e"/>
<circle cx="217.3" cy="383.8" r="3.05" fill="#e87868"/>
<circle cx="243.5" cy="381.3" r="3.05" fill="#e87868"/>
<circle cx="179.7" cy="395.4" r="3.05" fill="#d43c50"/>
<circle cx="253" cy="414.7" r="3.05" fill="#e87868"/>
<circle cx="209" cy="422.8" r="3.05" fill="#d43c50"/>
<circle cx="242.2" cy="422.3" r="3.05" fill="#e87868"/>
<circle cx="183.4" cy="428.3" r="3.05" fill="#d43c50"/>
<circle cx="229.1" cy="428.3" r="3.05" fill="#e87868"/>
<circle cx="135.8" cy="398.7" r="3.05" fill="#d01820"/>
<circle cx="109" cy="398.7" r="3.05" fill="#f8a806"/>
<circle cx="164.3" cy="459.3" r="3.05" fill="#d43c50"/>
<circle cx="161.3" cy="473.8" r="3.05" fill="#d01820"/>
<circle cx="184.7" cy="473.3" r="3.05" fill="#d43c50"/>
<circle cx="206.6" cy="458" r="3.05" fill="#f08c58"/>
<circle cx="244.6" cy="449.6" r="3.05" fill="#f08c58"/>
<circle cx="232.1" cy="468.2" r="3.05" fill="#d01820"/>
<circle cx="217.3" cy="476.6" r="3.05" fill="#d01820"/>
<circle cx="95.5" cy="398.8" r="3.05" fill="#2aa2f2"/>
<circle cx="97.8" cy="398.8" r="3.05" fill="#2c78f4"/>
<circle cx="100.9" cy="404.9" r="3.05" fill="#2c78f4"/>
<circle cx="101.2" cy="411" r="3.05" fill="#2aa2f2"/>
<circle cx="99.3" cy="412.9" r="3.05" fill="#c4c010"/>
<circle cx="80.6" cy="411.2" r="3.05" fill="#2aa2f2"/>
<circle cx="75.3" cy="413.8" r="3.05" fill="#1c9a1c"/>
<circle cx="81.2" cy="414.3" r="3.05" fill="#1c9a1c"/>
<circle cx="86.8" cy="413" r="3.05" fill="#18b0dc"/>
<circle cx="87.5" cy="415.6" r="3.05" fill="#18b0dc"/>
<circle cx="78.5" cy="428.4" r="3.05" fill="#1c9a1c"/>
<circle cx="90.7" cy="428.6" r="3.05" fill="#1c9a1c"/>
<circle cx="96.6" cy="428.4" r="3.05" fill="#2aa2f2"/>
<circle cx="103.8" cy="429" r="3.05" fill="#18a828"/>
<circle cx="87.7" cy="433.5" r="3.05" fill="#18a828"/>
<circle cx="94.3" cy="434.6" r="3.05" fill="#18b0dc"/>
<circle cx="95.2" cy="437.4" r="3.05" fill="#1c9a1c"/>
<circle cx="82.7" cy="443.2" r="3.05" fill="#8cb818"/>
<circle cx="93.8" cy="443.8" r="3.05" fill="#18b0dc"/>
<circle cx="96.5" cy="443.8" r="3.05" fill="#18b0dc"/>
<circle cx="102.6" cy="443.2" r="3.05" fill="#18a828"/>
<circle cx="114.6" cy="447.4" r="3.05" fill="#f58006"/>
<circle cx="112.6" cy="452.6" r="3.05" fill="#5a4cf4"/>
<circle cx="115.1" cy="452.6" r="3.05" fill="#f2c80c"/>
<circle cx="96.5" cy="452.9" r="3.05" fill="#18b0dc"/>
<circle cx="127" cy="458.7" r="3.05" fill="#1c9a1c"/>
<circle cx="94.3" cy="460.4" r="3.05" fill="#12c078"/>
<circle cx="99.3" cy="459.3" r="3.05" fill="#18b0dc"/>
<circle cx="101.5" cy="459.3" r="3.05" fill="#18b0dc"/>
<circle cx="107.1" cy="458.7" r="3.05" fill="#14bca8"/>
<circle cx="133.1" cy="463.7" r="3.05" fill="#5a4cf4"/>
<circle cx="120.7" cy="464.3" r="3.05" fill="#14bca8"/>
<circle cx="121.5" cy="468.2" r="3.05" fill="#2c78f4"/>
<circle cx="116.8" cy="470.9" r="3.05" fill="#12c078"/>
<circle cx="104.9" cy="473.4" r="3.05" fill="#18b0dc"/>
<circle cx="107.6" cy="474.3" r="3.05" fill="#18b0dc"/>
<circle cx="114.6" cy="473.7" r="3.05" fill="#18b0dc"/>
<circle cx="120.1" cy="474.3" r="3.05" fill="#14bca8"/>
<circle cx="122.9" cy="475.6" r="3.05" fill="#18b0dc"/>
<circle cx="126.2" cy="473.7" r="3.05" fill="#18b0dc"/>
<circle cx="136.7" cy="473.7" r="3.05" fill="#8cb818"/>
<circle cx="123.4" cy="482" r="3.05" fill="#18a828"/>
<circle cx="119.3" cy="487.6" r="3.05" fill="#18b0dc"/>
<circle cx="123.6" cy="488" r="3.05" fill="#14bca8"/>
<circle cx="125.3" cy="488.7" r="3.05" fill="#f58006"/>
<circle cx="127.9" cy="494.5" r="3.05" fill="#8cb818"/>
<circle cx="134" cy="492.3" r="3.05" fill="#f2c80c"/>
<circle cx="145.6" cy="491.7" r="3.05" fill="#8cb818"/>
<circle cx="112.6" cy="493.7" r="3.05" fill="#18a828"/>
<circle cx="101" cy="496.4" r="3.05" fill="#2aa2f2"/>
<circle cx="118.7" cy="495.9" r="3.05" fill="#5a4cf4"/>
<circle cx="136.2" cy="498.7" r="3.05" fill="#f8a806"/>
<circle cx="147.3" cy="499.2" r="3.05" fill="#d01820"/>
<circle cx="90.2" cy="499.5" r="3.05" fill="#12c078"/>
<circle cx="60.5" cy="502" r="3.05" fill="#c4c010"/>
<circle cx="124.3" cy="502" r="3.05" fill="#2c78f4"/>
<circle cx="126.4" cy="504" r="3.05" fill="#f58006"/>
<circle cx="127.8" cy="505.3" r="3.05" fill="#2aa2f2"/>
<circle cx="132.6" cy="507" r="3.05" fill="#9444f6"/>
<circle cx="134.8" cy="506.2" r="3.05" fill="#b456f4"/>
<circle cx="137.6" cy="509.5" r="3.05" fill="#12c078"/>
<circle cx="153.9" cy="515" r="3.05" fill="#f58006"/>
<circle cx="142.3" cy="518.6" r="3.05" fill="#5a4cf4"/>
<circle cx="148.4" cy="537.5" r="3.05" fill="#5a4cf4"/>
</g>
<rect x="40.8" y="308.9" width="226.60000000000002" height="239.60000000000002" fill="none" stroke="#111" stroke-width="1.5"/>
<text class="pl" x="26.4" y="294.2" font-size="19">c</text>
<text class="bi" x="263.6" y="300.4" font-size="12.6" text-anchor="end" fill="#111">d13C-CH4 [‰]</text>
<text class="bi" x="34.4" y="313" font-size="11.8" text-anchor="end" fill="#111">0</text>
<text class="bi" x="34.4" y="372.8" font-size="11.8" text-anchor="end" fill="#111">20</text>
<text class="bi" x="34.4" y="432.7" font-size="11.8" text-anchor="end" fill="#111">40</text>
<text class="bi" x="34.4" y="492.5" font-size="11.8" text-anchor="end" fill="#111">60</text>
<text class="bi" x="34.4" y="552.6" font-size="11.8" text-anchor="end" fill="#111">80</text>
<text class="bi" x="67.9" y="565.2" font-size="11.4" text-anchor="middle" fill="#111">1</text>
<text class="bi" x="124.4" y="565.2" font-size="11.4" text-anchor="middle" fill="#111">2</text>
<text class="bi" x="181.4" y="565.2" font-size="11.4" text-anchor="middle" fill="#111">3</text>
<text class="bi" x="238.6" y="565.2" font-size="11.4" text-anchor="middle" fill="#111">4</text>
<text class="bi" x="154" y="573.2" font-size="11.4" text-anchor="middle" fill="#111">log conc</text>
<text class="bi" transform="translate(9.6 428.6) rotate(-90)" font-size="10.6" text-anchor="middle" fill="#111">Depth</text>
<polygon points="277.6,309.6 281.7,305 285.8,309.6 285.8,547.4 281.7,552 277.6,547.4" fill="url(#odv)"/>
<line x1="284.6" y1="338.4" x2="287.2" y2="338.4" stroke="#111" stroke-width="0.9"/>
<text class="bi" x="289.2" y="341.9" font-size="11.4" fill="#111">-40</text>
<line x1="284.6" y1="398.6" x2="287.2" y2="398.6" stroke="#111" stroke-width="0.9"/>
<text class="bi" x="289.2" y="402.1" font-size="11.4" fill="#111">-50</text>
<line x1="284.6" y1="458.4" x2="287.2" y2="458.4" stroke="#111" stroke-width="0.9"/>
<text class="bi" x="289.2" y="461.9" font-size="11.4" fill="#111">-60</text>
<line x1="284.6" y1="518.4" x2="287.2" y2="518.4" stroke="#111" stroke-width="0.9"/>
<text class="bi" x="289.2" y="521.9" font-size="11.4" fill="#111">-70</text>
<text class="bi" transform="translate(276.6 546.2) rotate(-90)" font-size="6.5" fill="#111">Ocean Data View</text>
</g>
<g id="panel-d">
<text class="pl" x="343.9" y="320.9" font-size="20.2">d</text>
<path d="M366.0 353.4 V426.6 H633" fill="none" stroke="#cfcfcf" stroke-width="0.8"/>
<line x1="366.0" y1="354.1" x2="368.0" y2="354.1" stroke="#cfcfcf" stroke-width="0.7"/>
<text x="362.8" y="356.6" font-size="6.9" text-anchor="end" fill="#262626">2.2</text>
<line x1="366.0" y1="383.6" x2="368.0" y2="383.6" stroke="#cfcfcf" stroke-width="0.7"/>
<text x="362.8" y="386.1" font-size="6.9" text-anchor="end" fill="#262626">2.1</text>
<line x1="366.0" y1="413.2" x2="368.0" y2="413.2" stroke="#cfcfcf" stroke-width="0.7"/>
<text x="362.8" y="415.7" font-size="6.9" text-anchor="end" fill="#262626">2</text>
<line x1="408.3" y1="426.6" x2="408.3" y2="424.6" stroke="#cfcfcf" stroke-width="0.7"/>
<text x="408.6" y="436.8" font-size="7.4" text-anchor="middle" fill="#262626">01:00</text>
<line x1="452" y1="426.6" x2="452" y2="424.6" stroke="#cfcfcf" stroke-width="0.7"/>
<text x="452.3" y="436.8" font-size="7.4" text-anchor="middle" fill="#262626">02:00</text>
<line x1="495.7" y1="426.6" x2="495.7" y2="424.6" stroke="#cfcfcf" stroke-width="0.7"/>
<text x="496" y="436.8" font-size="7.4" text-anchor="middle" fill="#262626">03:00</text>
<line x1="539.4" y1="426.6" x2="539.4" y2="424.6" stroke="#cfcfcf" stroke-width="0.7"/>
<text x="539.7" y="436.8" font-size="7.4" text-anchor="middle" fill="#262626">04:00</text>
<line x1="583.1" y1="426.6" x2="583.1" y2="424.6" stroke="#cfcfcf" stroke-width="0.7"/>
<text x="583.4" y="436.8" font-size="7.4" text-anchor="middle" fill="#262626">05:00</text>
<line x1="626.8" y1="426.6" x2="626.8" y2="424.6" stroke="#cfcfcf" stroke-width="0.7"/>
<text x="627.1" y="436.8" font-size="7.4" text-anchor="middle" fill="#262626">06:00</text>
<text x="625.6" y="445.6" font-size="7.4" text-anchor="end" fill="#262626">Oct 04, 2022</text>
<text transform="translate(347.3 391) rotate(-90)" font-size="7.95" text-anchor="middle" fill="#262626">CH<tspan dy="1.8" font-size="5.6">4</tspan><tspan dy="-1.8"> concentration [ppm]</tspan></text>
<polyline points="365,423 368,423.2 371.5,423.8 374,422.8 376.8,421.7 380,422.6 387.3,423.2 400,423 418.8,422.7 445,422.4 471.4,421.9 497.6,421.1 520,420.3 526,419.8 531.3,419.1 535,418.7 537.8,418.1 538.6,415.9 539.7,418.5 542,417.8 544.4,417 546,418 548.4,417.4 550.4,416.4 552.3,415.9 554.9,413.6 556.5,406.7 557.5,411.9 559,409 560.2,405.4 561.5,402.7 562.6,398 563.6,373 564.2,372.4 564.9,387 566,394.8 567.5,404 568.4,401.6 569.4,400.1 570.7,387 572,383 573.3,380.4 574.1,397.5 575.4,406.7 576.5,394.8 578,404 579.4,381.7 580.4,371.2 580.9,360.7 581.7,373.8 582.8,394.8 583.8,401.4 585,400.2 586.5,410.6 587.8,408.2 589.1,409.3 590.4,406.6 591.7,400.1 593,393.5 594.3,387.7 595.4,394.8 596.4,390.9 597.5,408 599.1,411.9 602.2,413.8 605,414.2 607.5,414.6 610,413.6 612.7,414 615,413 618,413.2 620,412 621.9,410.6 623.8,409.8 625.3,411.9 626.8,410.8 628.5,412.7 629.8,411.6 631.1,410.6" fill="none" stroke="#0a0a0a" stroke-width="1.6" stroke-linejoin="round"/>
<g fill="none" stroke="#f2f2f2" stroke-width="0.5">
<circle cx="445.9" cy="356.7" r="11.8"/>
<circle cx="445.9" cy="356.7" r="23.6"/>
<circle cx="445.9" cy="356.7" r="35.4"/>
<line x1="445.9" y1="392.1" x2="445.9" y2="321.3"/>
<line x1="428.2" y1="387.4" x2="463.6" y2="326"/>
<line x1="415.2" y1="374.4" x2="476.6" y2="339"/>
<line x1="410.5" y1="356.7" x2="481.3" y2="356.7"/>
<line x1="415.2" y1="339" x2="476.6" y2="374.4"/>
<line x1="428.2" y1="326" x2="463.6" y2="387.4"/>
</g>
<polygon points="445.9,356.7 432.5,369.6 436.7,373.3 429.3,383.8 432,386.9 435.1,386.7 435.7,389.8 440.1,391.1 442.2,379.3 444.3,378.5 446.4,375.4 447,372.7 449.1,371.2 448.8,360.6 447.7,357" fill="#1f4e9e"/>
<polygon points="427.5,383.2 430.9,380.9 435.1,386.7 432,388" fill="#1ed02a"/>
<polygon points="434.9,387.2 440.9,388.8 440.4,391.9 435.1,390.6" fill="#1ed02a"/>
<polygon points="431.4,368.8 434.1,367.2 437.8,372.7 435.7,374" fill="#1ed02a"/>
<polygon points="442.2,376.9 446.4,375.4 446.2,378 442.7,379.6" fill="#1ed02a"/>
<polygon points="446.4,370.6 449.6,369.6 449.6,371.7 446.7,373.3" fill="#1ed02a"/>
<polygon points="445.9,356.7 442.7,337 445.6,336.2 447.2,347.5" fill="#c41e3e"/>
<polygon points="445.9,356.7 444.3,348.6 447.5,347.5 447.7,353.3" fill="#f0c020"/>
<polygon points="445.9,356.7 444.8,352.8 447.2,352.2" fill="#f08020"/>
<polygon points="447.7,353.3 449.8,350.7 448.8,354.3" fill="#d03030"/>
<polygon points="440.9,355.9 445.9,356.7 451.4,356.2 451.4,357.5 445.9,357.5 440.9,357.5" fill="#1ed02a"/>
<circle cx="445.9" cy="356.7" r="1.3" fill="#111"/>
<text x="445.9" y="311.8" font-size="5.2" font-weight="bold" text-anchor="middle" fill="#111">Wind Rose</text>
<text x="445.9" y="318.9" font-size="5" text-anchor="middle" fill="#333">0</text>
<text x="467.4" y="323.6" font-size="5" text-anchor="middle" fill="#333">30</text>
<text x="481.1" y="336.8" font-size="5" text-anchor="middle" fill="#333">60</text>
<text x="485.8" y="358.8" font-size="5" text-anchor="middle" fill="#333">90</text>
<text x="482.4" y="379.8" font-size="5" text-anchor="middle" fill="#333">120</text>
<text x="468.8" y="393.2" font-size="5" text-anchor="middle" fill="#333">150</text>
<text x="445.9" y="398.2" font-size="5" text-anchor="middle" fill="#333">180</text>
<text x="423.3" y="393.2" font-size="5" text-anchor="middle" fill="#333">210</text>
<text x="409.1" y="379.8" font-size="5" text-anchor="middle" fill="#333">240</text>
<text x="404.4" y="358.8" font-size="5" text-anchor="middle" fill="#333">270</text>
<text x="409.1" y="337.3" font-size="5" text-anchor="middle" fill="#333">300</text>
<text x="422.8" y="323.6" font-size="5" text-anchor="middle" fill="#333">330</text>
<text x="450.1" y="331.5" font-size="5" text-anchor="middle" fill="#333">40</text>
<text x="448.8" y="345.2" font-size="5" text-anchor="middle" fill="#333">20</text>
<rect x="492.7" y="343" width="30.4" height="27.4" fill="#fff" stroke="#e0e0e0" stroke-width="0.5"/>
<rect x="493.3" y="344.8" width="5.1" height="3.0" fill="#38a0e4"/>
<text x="498.8" y="347.9" font-size="4.6" fill="#222">20 - 25 m/s</text>
<rect x="493.3" y="350.2" width="5.1" height="3.0" fill="#e8202c"/>
<text x="498.8" y="353.3" font-size="4.6" fill="#222">15 - 20 m/s</text>
<rect x="493.3" y="355.5" width="5.1" height="3.0" fill="#f0e020"/>
<text x="498.8" y="358.6" font-size="4.6" fill="#222">10 - 15 m/s</text>
<rect x="493.3" y="360.9" width="5.1" height="3.0" fill="#20d830"/>
<text x="498.8" y="364" font-size="4.6" fill="#222">5 - 10 m/s</text>
<rect x="493.3" y="366.3" width="5.1" height="3.0" fill="#3838f0"/>
<text x="498.8" y="369.4" font-size="4.6" fill="#222">0 - 5 m/s</text>
<path d="M363.7 455 V533.0 H648" fill="none" stroke="#cfcfcf" stroke-width="0.8"/>
<line x1="363.7" y1="466.6" x2="365.7" y2="466.6" stroke="#cfcfcf" stroke-width="0.7"/>
<text x="361.3" y="469.2" font-size="7.3" text-anchor="end" fill="#262626">-46</text>
<line x1="363.7" y1="489.4" x2="365.7" y2="489.4" stroke="#cfcfcf" stroke-width="0.7"/>
<text x="361.3" y="492" font-size="7.3" text-anchor="end" fill="#262626">-48</text>
<line x1="363.7" y1="511.3" x2="365.7" y2="511.3" stroke="#cfcfcf" stroke-width="0.7"/>
<text x="361.3" y="513.9" font-size="7.3" text-anchor="end" fill="#262626">-50</text>
<line x1="363.7" y1="533.2" x2="365.7" y2="533.2" stroke="#cfcfcf" stroke-width="0.7"/>
<text x="361.3" y="535.8" font-size="7.3" text-anchor="end" fill="#262626">-52</text>
<line x1="409.6" y1="533.0" x2="409.6" y2="531.0" stroke="#cfcfcf" stroke-width="0.7"/>
<text x="409.6" y="543.1" font-size="7.5" text-anchor="middle" fill="#262626">01:00</text>
<line x1="456" y1="533.0" x2="456" y2="531.0" stroke="#cfcfcf" stroke-width="0.7"/>
<text x="456" y="543.1" font-size="7.5" text-anchor="middle" fill="#262626">02:00</text>
<line x1="502.4" y1="533.0" x2="502.4" y2="531.0" stroke="#cfcfcf" stroke-width="0.7"/>
<text x="502.4" y="543.1" font-size="7.5" text-anchor="middle" fill="#262626">03:00</text>
<line x1="548.8" y1="533.0" x2="548.8" y2="531.0" stroke="#cfcfcf" stroke-width="0.7"/>
<text x="548.8" y="543.1" font-size="7.5" text-anchor="middle" fill="#262626">04:00</text>
<line x1="595.2" y1="533.0" x2="595.2" y2="531.0" stroke="#cfcfcf" stroke-width="0.7"/>
<text x="595.2" y="543.1" font-size="7.5" text-anchor="middle" fill="#262626">05:00</text>
<line x1="641.6" y1="533.0" x2="641.6" y2="531.0" stroke="#cfcfcf" stroke-width="0.7"/>
<text x="641.6" y="543.1" font-size="7.5" text-anchor="middle" fill="#262626">06:00</text>
<text x="640.4" y="552.6" font-size="7.8" text-anchor="end" fill="#262626">Oct 04, 2022</text>
<text transform="translate(344.2 493.5) rotate(-90)" font-size="8.3" text-anchor="middle" fill="#262626">δ<tspan dy="-2.6" font-size="5.6">13</tspan><tspan dy="2.6">CH</tspan><tspan dy="1.8" font-size="5.6">4</tspan><tspan dy="-1.8"> [‰]</tspan></text>
<path d="M364 500.4v5.5M363.9 497.6v3M364 503.4v0.8M363.8 504.1v2M363.8 501.6v3M364 503.2v0.8M363.8 513.8v2M364.4 506.1v0.8M364.4 488.2v0.8M364.2 494.3v4.2M364.2 512v3M364.3 509.4v1M364.4 484.9v2M364.3 497.4v2M364.2 498.9v5.5M364.9 497v3M364.7 509v0.8M364.7 505.2v2M364.6 506.4v4.2M364.7 488.2v5.5M364.7 496.2v4.2M364.9 489.6v0.8M364.7 502.4v1.4M365.3 509.5v4.2M365.1 497.3v4.2M365.1 508.4v2M365.2 493v1M365.2 494.3v1M365.6 501.5v1M365.7 501.7v2M365.7 495v4.2M365.4 502.3v1M365.4 497.2v4.2M365.4 492.8v1.4M365.5 500.2v1M365.9 511.6v3M366 501.1v5.5M365.9 494.7v5.5M365.7 497.4v2M365.8 499.9v4.2M365.7 509.9v2M365.9 520.4v1.4M365.7 509.3v3M366.1 502.5v4.2M366.3 507.3v1.4M366.4 500v2M366.2 502.8v2M366.2 500.3v4.2M366.5 514.6v3M366.6 502.9v4.2M366.7 507.5v4.2M366.7 502.1v4.2M366.7 490.7v1.4M366.6 500.2v3M366.7 493.9v3M366.7 500.2v5.5M366.7 504.4v4.2M366.9 500.3v1.4M367 499.3v1M367.1 504.2v4.2M366.7 496.9v1.4M366.8 504.6v1.4M367.1 502.4v3M366.8 497.1v4.2M367.3 495.6v1M367.3 507.1v1M367.3 498.8v4.2M367.4 499.7v2M367.1 504.4v1M367.5 502.4v3M367.3 500.6v5.5M367.4 498.6v2M367.1 498v1M367.9 484.6v2M367.9 500.5v1M367.7 504.9v1.4M367.8 507.3v5.5M367.5 503.1v1M367.7 510.4v4.2M367.7 492.3v3M367.6 505.4v3M367.7 506.9v5.5M368.1 505.4v3M367.9 506.5v3M368.2 498.6v2M368.2 493.9v0.8M368.2 509v0.8M368.5 503.6v1.4M368.5 500.4v3M368.4 502.6v3M368.4 505.5v2M368.6 502.4v1.4M368.6 508.1v1M368.4 503.5v2M368.3 502.7v4.2M368.8 510v4.2M368.9 501v1M368.8 507.7v1M368.9 514.8v1M368.6 509.1v5.5M368.7 498.3v2M368.7 485.2v1M368.8 508.9v1.4M368.8 506.9v2M369 499.2v5.5M368.9 503.8v1.4M369 497.1v5.5M369.3 500v5.5M369.3 484.7v5.5M369.1 492.5v3M369 505.6v4.2M369.1 499.1v1M369.3 504v5.5M369.6 501.8v1.4M369.4 497.2v3M369.5 507v1.4M369.6 517.3v0.8M369.6 499v5.5M369.8 507v2M370 505.4v0.8M369.6 507.8v0.8M369.8 502.3v1M369.9 496v1M370.3 499.3v2M370 497.7v1M370.2 501.6v5.5M370.3 498.7v1.4M369.9 493.4v5.5M370 509.4v1.4M369.9 504.4v0.8M370.3 505.4v4.2M370 486.7v3M370.6 502.8v1.4M370.2 509.3v1M370.3 501.1v1.4M370.4 504.6v0.8M370.5 506.1v3M370.3 502.7v0.8M370.3 512.2v0.8M371 504.4v3M370.9 502.2v4.2M370.8 499.1v3M370.7 496.1v1M370.9 513.1v3M370.9 509.7v3M370.9 503v4.2M371.3 493.5v0.8M371.4 482.6v4.2M371.1 489.2v4.2M371.4 504.3v1.4M371.3 500.4v2M371.2 487.1v4.2M371.2 495.7v1M371.4 513.9v4.2M371.8 514.8v1.4M371.5 505.9v5.5M371.7 500.5v4.2M371.6 496.9v2M371.6 494.4v4.2M372 507.9v1.4M371.9 504.6v4.2M371.9 503v0.8M371.8 501.9v4.2M372 504.3v4.2M371.9 512.7v2M371.8 505.8v3M372.1 478.9v0.8M371.9 510.7v5.5M372.4 516.5v0.8M372.5 495.5v1M372.5 501.7v3M372.3 508.4v3M372.6 507.4v2M372.4 506.7v2M372.4 510.3v4.2M372.6 503.6v1.4M372.7 506.5v5.5M372.8 493.4v1M372.7 514.3v4.2M372.8 499.3v5.5M372.9 511v1.4M373.3 506.6v4.2M373.1 504.3v3M373.1 507.8v5.5M373.3 515.2v5.5M373.3 501.4v2M373.6 512.3v2M373.6 506.4v1.4M373.5 497.4v3M373.5 501.2v1.4M373.8 505.7v4.2M373.6 505.7v1.4M373.6 513v4.2M373.6 508.1v1M374 519.6v2M373.9 492.4v3M374 508.6v0.8M374 506.7v1.4M374.2 491.7v4.2M374 498.5v2M374.2 498.4v1.4M374 502.8v2M374.4 495.6v5.5M374.6 499.2v2M374.7 506.2v2M374.4 510.4v0.8M374.6 486.4v2M374.5 507v3M374.7 509.2v0.8M374.8 501v1M374.9 491.5v4.2M374.9 480v5.5M374.6 491.1v0.8M374.7 505.3v1M375 513.6v1.4M374.7 494.2v4.2M375.1 507.7v3M375 503.5v0.8M375.4 519.6v1.4M375.4 500.8v5.5M375.2 511.4v2M375.3 501.9v2M375 503.6v1.4M375.2 509.1v4.2M375.1 521.2v1.4M375.5 505.4v2M375.7 504.1v1.4M375.4 504.2v3M375.7 498.7v5.5M375.6 504.9v1M375.8 503.7v0.8M375.6 516.3v2M376.2 487.1v1M375.9 501.8v3M376.1 502v0.8M376.2 502.8v4.2M375.9 506.6v4.2M375.9 505v1M376.1 502.4v3M376.2 484.5v2M376.3 512.5v1.4M376.4 506.1v0.8M376.5 504.1v5.5M376.5 495.3v5.5M376.3 517.2v1M376.2 512.3v2M376.4 494.1v0.8M376.5 519.5v1M376.7 503.4v0.8M376.7 500.2v1.4M376.9 486.4v1.4M376.8 495.2v4.2M376.7 497v1.4M377.3 483.9v0.8M377.4 512.2v2M377.3 509.8v2M377.3 515.9v1M377 491.8v1M377.3 506.6v4.2M377.1 496.5v3M377.3 505.5v5.5M377.3 504.1v4.2M377.5 506.8v3M377.7 505.9v0.8M377.5 507.8v1.4M377.7 502.3v4.2M377.4 508.8v1M377.9 513v5.5M377.8 516.5v1.4M377.8 515.9v1.4M377.7 503.2v1M377.7 497.4v1M377.7 512.7v1.4M378.1 495.2v1.4M377.7 494.6v5.5M378.2 491.9v5.5M378 504.7v1.4M378.3 502.7v1M378.3 503.6v5.5M378.1 505.6v5.5M378.6 512.1v3M378.6 511v0.8M378.4 506.8v1.4M378.7 506.3v4.2M378.6 503.1v1.4M378.5 504.1v1.4M378.6 498.1v5.5M378.5 508.4v2M378.5 509.7v3M379.1 502.4v1.4M379.2 498.8v2M379 501.6v1.4M379.2 511v0.8M379 509.6v1M378.9 503.9v2M378.9 515.6v2M379 505v0.8M378.9 508.9v1M379.5 504.3v3M379.3 498.9v4.2M379.2 505.3v3M379.2 507.6v0.8M379.2 485.6v5.5M379.5 503.2v1M379.8 496.3v0.8M379.7 493.3v1M379.5 491.5v5.5M379.6 489.6v5.5M379.5 507.6v3M379.6 495.2v2M379.5 506.2v1M380.1 498.1v0.8M380.1 498.5v2M380.2 503.7v4.2M380 498.7v1M380 496.2v4.2M380.1 498.2v0.8M380.3 491.9v5.5M380.4 494.3v2M380.3 509.3v1.4M380.4 505.7v2M380.3 502.5v1M380.3 500.3v4.2M380.7 499.7v5.5M380.9 510.4v4.2M380.7 489.6v0.8M381 505.3v5.5M380.9 501.4v1M381.2 508.6v1M381.1 493.6v2M381.4 494.1v3M381.3 494.6v3M381.2 502.6v1.4M381.4 502v4.2M381.5 504.8v3M381.6 500.3v5.5M381.7 509v3M381.6 500.3v0.8M381.8 493.2v4.2M381.6 502.6v1.4M381.8 502.9v1.4M381.9 509.7v3M382.2 501v4.2M382.1 516.5v1.4M381.8 489.5v4.2M382 510.3v2M382.2 512.9v1.4M382.3 503.9v3M382.3 510v1M382.4 508.6v1.4M382.2 506.8v2M382.5 514.8v0.8M382.2 504.5v0.8M382.5 499.1v0.8M382.7 506.3v5.5M382.7 496.6v2M382.8 513.8v3M382.5 504.9v0.8M382.6 523.7v0.8M382.5 502.6v5.5M382.7 506.6v3M382.7 509.1v1M382.9 505.1v1.4M382.9 497.2v4.2M383.1 512.6v4.2M383.2 493.9v2M383.1 501.5v4.2M383 494.4v1M382.9 508.1v0.8M383.3 505.4v4.2M383 509.4v0.8M383.5 522.3v1.4M383.3 492.3v1M383.6 498.2v1M383.6 503v1M383.4 502.6v2M383.4 495.9v1M383.6 512.8v4.2M384 494.5v2M383.9 483.8v1M383.9 497.6v3M384 505.7v3M383.9 502.3v0.8M383.8 502.5v1M383.7 502.3v0.8M384.4 502.8v3M384.4 501v1M384.4 511.6v0.8M384.4 485.9v5.5M384.1 507.8v1M384.4 503.1v2M384.7 496.6v0.8M384.5 500.8v1.4M384.5 500.3v0.8M384.5 502.7v5.5M384.7 502.6v1.4M384.6 498.8v1.4M384.7 500.2v0.8M384.5 509.5v0.8M385.1 500v3M385 490.2v1M385.2 495.7v5.5M384.9 503.3v0.8M384.8 511.6v5.5M385 510.3v2M385.2 512v3M385.1 501.5v1.4M385.4 512.2v0.8M385.5 514.9v0.8M385.3 504.9v1.4M385.3 517.7v4.2M385.2 497.3v4.2M385.4 506.1v3M385.9 495.9v5.5M385.8 505.8v3M385.9 502v1M385.9 508.7v2M385.9 504.4v2M385.8 501.3v1.4M385.7 508v4.2M385.7 509.6v1M385.6 504.4v3M386 494.6v1M386 496.1v1M386.3 527.3v1M386 493.3v0.8M386.2 503.5v1.4M386 504.3v2M386.4 500.8v0.8M386.6 506.6v3M386.4 496v1.4M386.2 509.9v2M386.6 511.6v1M386.9 488.5v4.2M386.8 510.1v4.2M386.9 492.9v1M386.7 496.5v1.4M386.6 493.8v4.2M386.9 488.6v4.2M386.7 508.5v1M386.9 493.5v3M387 508.2v5.5M387.2 515.3v5.5M387.1 506.4v3M387.3 502.7v4.2M387.3 515.6v0.8M387.2 500v2M387.3 500.8v4.2M387.2 493.2v1.4M387.4 484.9v1M387.6 523.8v1.4M387.4 523.2v1.4M387.7 504.3v2M387.6 505.2v4.2M387.4 501.8v1M387.7 510.9v2M387.7 497.7v5.5M387.4 504.4v2M387.9 494.1v3M387.9 503v4.2M387.9 495.7v5.5M387.9 474.8v5.5M387.9 518.1v1M388.3 505.5v2M388.1 489.9v5.5M388.3 504.1v1M388.3 498.9v3M388.4 507.5v4.2M388 505.3v2M388.7 513.7v4.2M388.4 516v4.2M388.7 516.8v1.4M388.5 499.9v3M388.8 506.1v1.4M388.8 519.9v1M388.7 504.5v4.2M388.9 489.6v1.4M388.9 497v4.2M389.2 516.9v4.2M388.9 510.2v3M389.1 486.6v2M389.1 511.3v0.8M389.1 514.8v1M389.1 493.4v3M389.1 501.9v1.4M389.3 494.6v4.2M389.4 502.3v4.2M389.5 501.9v0.8M389.6 501.3v1.4M389.6 506.1v5.5M389.3 506.5v0.8M389.6 499.9v0.8M389.4 503.9v1.4M389.4 503.9v1M389.8 502v5.5M389.8 495.6v1.4M389.9 500.2v1M389.7 508v5.5M389.8 505.6v1M389.6 510.9v4.2M390 508v3M390.4 502.6v5.5M390.3 503.6v3M390.2 509.6v3M390.1 505.2v3M390 496.9v4.2M390.6 501.3v1M390.6 497.3v2M390.7 509.7v1.4M390.6 495.8v1M390.4 495.9v1.4M390.4 499.1v0.8M390.5 492.1v0.8M390.3 504.3v3M390.6 509.5v3M391.1 498.9v4.2M391 508.6v2M390.8 502.8v2M390.9 504.6v1M390.7 503v4.2M391.4 507.6v1.4M391.3 507.6v1M391.4 502.5v1.4M391.4 488.7v4.2M391.4 508.9v1.4M391.8 519.2v0.8M391.6 493.7v0.8M391.6 513.4v3M391.7 496.6v1.4M391.7 486.2v5.5M391.7 493.1v0.8M391.8 517.1v2M392 496v2M392.2 492.6v5.5M392 511.8v3M391.9 498v1.4M392.1 509.8v5.5M392.5 508.8v1.4M392.4 490.7v1M392.6 497.1v1M392.6 489.9v1.4M392.5 499v1M392.6 507.2v5.5M392.6 504.1v1M392.7 492.2v5.5M392.6 516.4v5.5M392.9 511v5.5M393 508.1v5.5M392.7 509.5v3M392.9 503.8v2M392.7 505.3v5.5M392.9 510.4v2M392.7 513.9v5.5M393.3 512.3v2M393.1 496.6v1M393.2 504.7v4.2M393.3 508.8v3M393.2 494.9v1M393.2 510.2v2M393.1 512.4v5.5M393.3 512.2v1.4M393.8 504.2v5.5M393.8 493.2v1.4M393.6 504.2v1.4M393.7 513.9v5.5M393.5 499.1v1M393.6 508.6v1M393.4 504.8v0.8M393.6 488.2v2M394.2 486.4v4.2M394 485.1v1.4M394.1 500.2v4.2M394 505.4v1M393.9 512.7v4.2M394.5 517.5v0.8M394.3 510.5v0.8M394.6 487.9v5.5M394.2 504.7v0.8M394.4 505.5v1M394.4 506.7v1.4M394.3 492.3v2M394.6 495.8v5.5M394.9 506.5v4.2M394.5 486.8v5.5M394.6 503.9v5.5M394.6 513.7v4.2M395.1 499.6v0.8M395 502.1v1.4M394.9 501.3v1.4M395.2 505.7v1M395.1 505.5v1M395.3 504.6v5.5M395.3 506v5.5M395.2 497.4v2M395.2 503.1v3M395.4 511.8v1M395.3 495.4v5.5M395.4 503.4v1.4M395.6 509.7v1M395.9 506.2v4.2M395.9 511.2v2M395.7 513.8v1.4M395.7 486.4v3M395.7 509v1.4M396.3 512.9v3M396.3 502.5v0.8M396.3 498.5v3M396.2 503.6v1M396.2 498v4.2M396 505.3v0.8M396.5 512.6v1.4M396.7 495.5v5.5M396.8 506.5v2M396.5 501.5v2M396.7 498.8v3M396.4 497.1v1.4M396.4 497.5v5.5M397.1 508.3v1M397.2 501.8v5.5M397.1 502.6v3M396.9 480.6v0.8M397 511.9v2M397.1 509v3M396.9 505v0.8M397.2 488.4v0.8M397.4 496v4.2M397.4 500.4v4.2M397.2 513.7v3M397.4 497.6v0.8M397.5 492.4v0.8M397.8 495.9v2M397.5 497.6v1M397.6 500.2v3M397.8 488.9v0.8M398.1 502.8v0.8M398 502.9v1.4M398.2 508.6v5.5M398.2 491.6v5.5M397.8 500v3M397.8 510.5v3M398 499v5.5M398.4 502.4v1M398.3 504.9v0.8M398.4 495.6v2M398.6 500.8v5.5M398.4 499.8v5.5M398.6 500.2v1.4M398.6 493.3v5.5M398.7 504.3v0.8M398.7 500.5v1.4M399 500.3v3M398.8 502.1v0.8M398.8 497.7v0.8M399 499.6v1.4M398.6 495.2v4.2M399.2 491.1v1M399.2 496.3v1.4M399.3 490.6v2M399.1 498.3v0.8M399.4 502.6v2M399 510.2v2M399.1 492v1M399.3 507.4v5.5M399.4 503.1v3M399.5 509.2v0.8M399.5 497.6v5.5M399.7 504.3v1M399.6 500v4.2M399.4 507.4v1.4M400 506.4v4.2M400.1 491v5.5M400 500.1v4.2M399.8 516.1v1M399.9 509.7v3M399.8 508.4v2M400 506.2v5.5M399.9 500.7v5.5M400.1 509v1.4M400 493.8v1.4M400.3 497.3v4.2M400.2 492.6v1M400 499.4v5.5M400.3 492v0.8M400.1 496.4v1.4M400.4 512.5v0.8M400.8 501.4v1.4M400.5 521v5.5M400.6 492.6v5.5M400.6 493.7v4.2M400.6 498.1v4.2M401 501.8v3M401.2 506.1v3M401.1 503.4v2M401.2 504.2v2M401.1 505.7v4.2M400.9 496v5.5M401.2 499.2v0.8M400.9 504.6v3M401.2 499.6v1.4M401.5 486.4v1M401.5 498.7v1M401.5 510.5v0.8M401.6 503.1v4.2M401.3 506.6v5.5M401.6 501.4v4.2M401.4 505.4v5.5M402 494.7v1.4M401.8 501.1v3M401.7 503.3v3M401.8 504.9v1M401.7 500.8v0.8M402.3 503.1v0.8M402.1 498.3v3M402 500.4v1M402.1 493.2v4.2M402.1 510.3v1.4M402.2 495.1v3M402.3 516.6v3M402.7 502.1v3M402.3 505.3v1.4M402.6 508.5v2M402.7 496.2v2M402.6 512.4v4.2M402.8 500.4v5.5M402.7 501.6v1M402.8 502.2v1.4M402.7 503.4v1.4M402.9 496v2M402.8 501.7v0.8M402.7 509.8v2M403.1 498.5v5.5M403.1 500.9v4.2M403.1 501.6v5.5M403.2 508.7v2M403.1 502.2v1.4M403.2 494.5v4.2M403.7 502.1v1M403.6 497.9v1.4M403.6 491.6v2M403.6 500.3v3M403.7 507.3v1M403.7 508v3M403.7 507.3v4.2M403.5 497v3M403.8 508.2v1.4M403.7 512.9v0.8M403.8 509.6v5.5M404 499.6v0.8M404 505.3v5.5M403.8 506.1v1.4M404.1 505.6v4.2M404 497.2v5.5M404 506.8v1.4M404.2 516.5v2M404.3 502.5v5.5M404.2 505.8v1.4M404.4 499.1v3M404.4 501.9v0.8M404.2 499.3v2M404.3 499.5v0.8M404.6 504.8v3M404.8 512.9v2M404.8 488.8v0.8M404.8 494.2v5.5M404.8 516.2v3M404.9 495.6v0.8M405.3 521.7v4.2M405.2 490v4.2M405 511.5v1M405.1 521.8v2M405.2 515.5v1.4M405.5 500.6v1M405.5 483.1v1M405.4 499.9v1M405.4 496.9v1.4M405.7 487.5v1M405.7 494.8v1M405.5 493.7v1M405.4 496.5v1.4M405.6 502.5v4.2M406.1 506.9v1M405.8 500.6v4.2M405.8 511.1v3M406 503v2M406 503.3v1M406.1 517.3v5.5M406.2 517.6v0.8M406.3 508.5v1.4M406.2 513.5v0.8M406.4 512v2M406.2 504.7v0.8M406.7 501.4v3M406.7 490v4.2M406.7 501.3v3M406.9 506.3v1.4M406.8 499.3v4.2M406.8 499.5v1.4M406.9 512.6v0.8M407.1 512.2v4.2M407.3 501.9v5.5M407.1 502.2v2M407.1 512.2v5.5M407.3 506.3v1.4M407.1 509.4v1.4M407.4 512.6v4.2M407.7 515.6v2M407.7 501.7v1.4M407.5 502v1M407.7 501.4v2M407.6 481.9v5.5M407.5 520.9v1M407.8 503v3M408 505.7v4.2M407.9 506.3v1.4M408.2 518.9v1M408 506.4v1M408 513.6v4.2M408.1 505.9v1M408.3 499v2M408.6 516.3v5.5M408.6 500.3v4.2M408.5 497.8v3M408.5 499.8v1.4M408.5 500v1.4M408.3 497v4.2M408.8 500.1v3M408.7 496.8v3M408.8 500.8v2M408.9 509.7v1M408.7 509.3v0.8M408.9 512.1v1M408.9 494.8v1.4M408.9 506v3M408.9 515.1v0.8M409.1 506.3v2M409.4 497.6v5.5M409.3 505.7v0.8M409.4 511v2M409.3 503.8v2M409.4 508.4v2M409.2 505.1v1M409.2 502.1v0.8M409.6 500.6v1M409.6 506.7v0.8M409.7 512.5v4.2M409.5 496.3v1M409.7 513.3v4.2M409.5 488.3v5.5M409.8 505.1v3M409.6 515.4v4.2M409.8 501.3v0.8M409.9 507v1.4M409.8 501.5v2M409.8 507.2v5.5M409.9 503.7v0.8M410.2 503.6v1.4M410 505.3v4.2M410.2 492.8v2M410.3 502.5v3M410.5 509.6v0.8M410.4 508.3v5.5M410.3 505.9v3M410.3 499.3v5.5M410.5 506.6v1M410.8 504.9v1M410.8 509.5v1.4M410.8 506.7v1.4M410.7 501.4v0.8M410.7 509.3v2M411.1 495.8v4.2M411.2 503.6v3M411.1 512.9v1.4M410.9 481.1v4.2M411.2 500.6v3M411.1 510.3v2M410.9 507.6v4.2M411.7 504.5v1.4M411.5 502.9v5.5M411.6 517.2v1.4M411.4 506.6v4.2M411.6 501.6v1.4M411.6 512.2v1M411.9 516.3v2M412 506.2v2M411.8 505.3v0.8M411.9 507.6v4.2M411.8 505v1.4M412 499.6v1M412.3 510.4v5.5M412.2 502.4v5.5M412.2 493.5v1M412.3 507.1v1M412.3 508.5v1M412.4 508.4v1M412.6 514.1v1M412.4 522.2v0.8M412.4 512.4v4.2M412.5 500.1v1M412.8 508.7v1.4M412.5 508.6v1M412.6 510.5v2M412.7 506.7v4.2M412.9 514v5.5M413.1 503.8v2M413.1 506v0.8M412.9 485.8v0.8M413 498v4.2M412.8 508v1M413 512.3v3M413.1 502.6v3M413.3 514.7v1M413.4 504.5v1.4M413.2 502.5v4.2M413.3 503.8v5.5M413.2 503.2v1.4M413.1 497.2v1.4M413.7 496.4v1M413.7 510.6v0.8M413.4 516.7v3M413.6 513.8v3M413.7 511.3v1.4M413.7 507.4v1M413.7 509.2v5.5M413.9 498.2v5.5M413.8 501v5.5M413.8 502.7v1M413.7 508v4.2M413.9 503.1v5.5M414.4 503.4v2M414 503.3v1.4M414.2 501.8v4.2M414.2 504v5.5M414.1 508.9v1.4M414.3 508.2v3M414.4 505.2v2M414.6 514.4v0.8M414.6 487.6v1M414.7 508.9v3M414.6 493.5v5.5M414.6 510.2v4.2M414.6 511.7v1M414.9 488.9v1M415.2 525.1v1M415.1 517.7v0.8M415.1 520.4v2M415.1 514.3v4.2M415.2 513.2v1.4M415.3 506v1M415.4 507.4v0.8M415.5 512.7v0.8M415.5 502.1v0.8M415.3 517.2v1M415.2 509.7v3M415.7 488.1v0.8M415.9 503.1v1M415.6 513.8v0.8M415.5 505.4v1M415.7 503.6v1M415.9 530v2M415.8 514v1.4M415.7 502.7v4.2M416 506.3v4.2M416.3 500.1v2M416.2 514.1v2M415.9 519.2v4.2M416.1 498.6v3M416 520.9v4.2M416.2 508.8v1M416.5 487.6v0.8M416.5 493.6v2M416.5 501.9v1.4M416.6 496.3v4.2M416.4 501.2v3M416.8 496.9v2M416.9 518.6v1.4M417 508.9v4.2M416.8 512v4.2M417 507.8v3M417 501.2v5.5M416.9 514.4v3M417.3 501.4v1M417.1 507.4v1M417.3 501.1v4.2M417.4 498.6v4.2M417.2 499.1v0.8M417.1 499.2v2M417.6 500.8v3M417.7 515v2M417.7 506.9v2M417.6 513.1v2M417.5 506.7v3M417.4 502.6v4.2M417.5 497.6v3M417.8 505.3v1.4M417.9 505.7v1M417.8 492.9v1.4M417.9 499.9v5.5M417.8 499.1v0.8M418.1 504.2v2M418 503.3v0.8M418.4 504.1v4.2M418.2 516.2v1.4M418.2 498.8v3M418.4 513.2v5.5M418.5 499.3v1.4M418.7 497.8v4.2M418.5 505.8v0.8M418.8 491.2v4.2M418.8 500.5v2M418.6 507.6v2M418.7 508.1v3M418.6 511.8v1M418.8 501.8v2M419.1 510.6v1M418.8 503.8v2M418.8 502.6v5.5M419 494.3v1M419.1 508v2M419 493.4v5.5M419.1 501.6v2M418.8 507.4v1.4M419.3 503.2v1.4M419.5 510.6v4.2M419.5 492.9v2M419.3 500.3v1.4M419.4 514.3v5.5M419.3 491.1v1.4M419.7 500.9v4.2M419.7 497.7v1M419.7 516.6v4.2M419.5 513v3M419.8 508.6v3M419.6 512.4v2M419.6 507v4.2M419.9 517.8v2M419.9 498.6v0.8M420.2 507.7v0.8M420.1 502.4v4.2M419.9 502.6v5.5M420 504.6v4.2M420.1 512.4v1M420.2 505v5.5M420.3 507.3v5.5M420.5 506.5v2M420.2 505.3v4.2M420.5 507.4v1M420.5 503.7v3M420.4 508.1v4.2M420.4 512.6v1.4M420.3 516v1M420.7 506.5v4.2M420.8 501v1M420.7 496.7v4.2M420.9 503.5v0.8M420.9 512.7v0.8M420.8 508.1v3M421 509.5v0.8M421.3 497.8v1.4M421 502.9v0.8M421.1 503.7v2M421.2 514.4v1M421 501.7v1.4M421 497.5v1.4M421.4 500.2v1M421.4 507.1v1.4M421.6 503.8v0.8M421.3 498.4v2M421.4 493.8v3M421.3 500.2v0.8M421.6 499v4.2M421.7 503.8v1.4M421.8 497.3v0.8M421.8 510.1v2M421.7 496.6v1.4M421.8 506.4v2M421.7 502.4v3M421.7 501.3v3M422.3 488.4v1M422.2 498.3v3M422.2 506.3v0.8M422.3 502.5v5.5M422.3 507.9v0.8M422.3 515.1v1M422.5 503.4v0.8M422.8 498.6v3M422.7 500.6v3M422.6 507.5v3M422.5 505.9v0.8M422.6 494.1v5.5M422.8 497.1v0.8M422.8 504.5v2M423.1 506.4v3M423.1 504.2v1M423.1 507.1v1M423.2 502.1v4.2M422.8 514.3v2M423.6 505.3v1M423.6 491.7v0.8M423.6 504.5v4.2M423.3 500.1v3M423.4 517.4v4.2M423.5 501.9v1.4M423.4 522.6v4.2M424 488.3v5.5M423.8 508.6v3M423.7 511.5v4.2M424 499.3v5.5M423.7 503.7v1M423.8 517.7v3M424 503v4.2M423.8 513v0.8M423.9 505.2v4.2M424.3 508.5v5.5M424.2 505.9v4.2M424.1 508.7v0.8M424 491.2v3M424.2 511.4v2M424.2 510.1v1.4M424.2 499.8v1.4M424.7 508.7v4.2M424.6 508.2v2M424.6 505.6v4.2M424.7 502.8v2M424.5 508.1v1M425.1 514v1.4M425 503.4v3M424.9 491.9v1M424.7 495v0.8M424.9 516v2M424.8 524.9v4.2M425 502.8v3M424.9 507.6v5.5M425.2 511.9v2M425.3 503.6v4.2M425.4 513.4v2M425.3 506.6v4.2M425.3 504.3v1.4M425.1 522.1v4.2M425.2 508.6v2M425.7 502.7v1.4M425.5 525v1.4M425.9 505.1v3M425.8 478.2v1M425.9 502.1v4.2M425.7 498.5v5.5M426 507.9v2M426 491.3v4.2M426.1 507.9v5.5M425.9 498v5.5M426.1 487.6v1M425.9 501v0.8M426.2 503.8v1.4M426.4 495.4v1.4M426.3 514.1v2M426.5 500.3v0.8M426.4 512.5v1.4M426.3 487v1.4M426.4 518.1v3M426.6 508.5v5.5M426.7 490.7v4.2M426.7 505.4v0.8M426.9 489.6v3M426.8 515.7v5.5M426.8 502.4v0.8M426.8 516.5v4.2M426.9 490.6v1.4M427.3 498v5.5M427.4 502.2v0.8M427.2 507.8v4.2M427 508.9v4.2M427.3 497.6v5.5M427.2 513.1v1.4M427.1 501v5.5M427.1 505.6v5.5M427.7 502.4v1.4M427.8 508v0.8M427.5 502.2v4.2M427.5 498.4v4.2M427.7 505.2v5.5M427.7 507.8v1M427.5 499.4v5.5M427.9 485v4.2M427.9 499.3v4.2M428 517.1v1.4M427.8 504.8v3M428.1 491.3v1M428.1 499.8v3M427.8 510.1v5.5M428.2 501.1v0.8M428.1 504.2v3M428.3 498.9v2M428.4 502.6v3M428.2 504.1v0.8M428.2 501.3v1.4M428.1 515.7v1M428.4 503.3v5.5M428.5 501.8v3M428.5 501.3v1.4M428.5 496.4v3M428.6 496.6v2M428.8 497.5v5.5M428.8 500.9v0.8M428.5 506.4v1.4M428.7 501.1v2M428.7 489.8v4.2M428.8 501.4v1M428.8 506.7v3M428.8 505.2v4.2M428.8 495.2v1.4M429.1 505.3v1.4M429.1 494.6v0.8M428.9 503.7v0.8M428.8 495.9v2M429.3 496.8v4.2M429.2 482.9v1.4M429.3 479.8v4.2M429.5 487.4v5.5M429.2 513.3v5.5M429.6 502.6v5.5M429.6 503.6v2M429.6 513.5v2M429.5 492.9v1M430 508.4v0.8M430 502.8v5.5M429.9 508v2M429.8 500.1v5.5M429.6 498.7v1M429.6 504.6v2M429.9 510.1v5.5M430.4 514v0.8M430.2 496.5v2M430.4 510.9v4.2M430.2 508.6v1.4M430 503.3v0.8M430.2 517.6v2M430.4 487.2v3M430.6 491.5v5.5M430.8 487.5v4.2M430.7 505.7v4.2M430.5 496.2v1M430.7 490v2M430.4 505.6v1M430.7 501.1v3M431.2 495.8v1M431.2 503.5v1M431.2 501.5v1M431.2 510.4v3M430.9 503.7v1.4M431.2 491.4v0.8M430.9 501.3v4.2M431.1 506.4v3M431.1 509.2v0.8M431.6 503.6v3M431.5 513.9v3M431.5 508.4v5.5M431.4 499.5v3M431.6 490.4v2M431.6 498.3v1M431.6 499.7v5.5M431.9 509.8v0.8M431.7 508.2v4.2M431.7 504.9v4.2M431.8 518.5v0.8M431.8 485.5v1.4M432 497.7v3M431.7 508.2v5.5M431.9 501.9v4.2M431.7 501.6v3M432.3 494.5v5.5M432 503.5v5.5M432 477.8v4.2M432.3 491.3v2M432.1 482.9v0.8M432.1 507.8v4.2M432.1 493.8v5.5M432.6 502.6v4.2M432.8 489.5v5.5M432.5 500.2v5.5M432.4 500.2v3M432.6 499.9v1M432.7 493.4v0.8M432.4 508.1v5.5M432.9 510.7v1.4M433.1 501.1v0.8M432.8 504.8v1M433.1 512.8v1M433.1 505.6v2M433.4 504.2v0.8M433.3 497.8v1M433.4 500.1v3M433.2 494.8v5.5M433.2 492.2v1.4M433.3 507.6v1M433.5 500.4v3M433.1 494.3v4.2M433.4 494.9v0.8M433.5 498.2v0.8M433.7 505.4v3M433.8 505.1v1.4M433.6 481.3v1.4M433.7 504v2M434.1 492.2v1.4M433.8 517.6v1M434.1 503.7v1M434.1 496.9v0.8M434.1 493.8v0.8M433.9 506.8v3M433.8 511.6v1.4M433.9 503.1v0.8M433.8 502.1v4.2M434.5 503.1v1M434.2 498.5v1M434.5 504.8v5.5M434.2 498.6v4.2M434.5 504.4v1M434.8 504.1v1M434.6 505.3v2M434.5 495.8v0.8M434.6 492v1M434.7 485.3v2M434.7 507.8v4.2M434.5 508v2M434.9 500.2v1M435.1 491.6v1.4M435.1 507v0.8M435.2 491.1v3M435 497.1v5.5M435 508.2v0.8M435.5 503.2v2M435.2 502.1v1M435.3 495.1v1M435.3 499.1v5.5M435.3 511.3v2M435.2 510v3M435.4 496.1v0.8M435.7 497.6v3M435.7 506.2v1.4M435.6 502.1v4.2M435.7 478.5v5.5M435.6 501.6v1M436.4 498.5v2M436.1 497.8v5.5M436.1 498.8v0.8M436 490.6v4.2M436.2 495.2v0.8M436.3 502.1v3M436.2 498.4v1M436.1 491.4v1M436.2 492.3v5.5M436.3 500.1v4.2M436.6 503.8v1.4M436.6 500.3v1M436.6 508.3v1.4M436.4 493.3v2M436.5 500.5v1M436.7 498.9v1M436.7 507.5v1M436.8 501.2v5.5M436.7 482.9v4.2M437 511.7v1M436.7 497.9v2M437 522.8v2M436.7 502.2v1.4M437.2 487.4v5.5M437.3 503.5v4.2M437.3 495v1M437.3 498.3v3M437.1 504.9v3M437.3 480.9v0.8M437.6 495.1v1M437.4 500.9v5.5M437.4 496.3v4.2M437.7 497.3v1.4M437.6 495.7v0.8M437.7 492.5v4.2M437.8 506.4v2M438 516.1v3M438 523.7v1M438 496.5v4.2M438.2 494.4v1M437.9 487.1v4.2M438.2 502.9v1M438.4 488.8v3M438.5 494v1.4M438.5 496.7v2M438.5 499.6v4.2M438.5 500.9v4.2M438.4 501.8v5.5M438.6 500.1v3M438.4 503.6v1M438.5 504.2v1M438.9 492.6v0.8M438.9 494v2M438.9 497.4v0.8M438.9 501.4v0.8M439 504.3v1.4M439 495.7v5.5M439 502.4v0.8M438.8 498.3v1M438.8 505.3v1.4M439 504.6v1.4M439 497.1v3M439.3 501.4v5.5M439.2 499.6v1.4M439.3 504.8v3M439.1 504.8v5.5M439 496.5v4.2M439.7 508.1v1M439.7 504.3v2M439.7 500v0.8M439.6 491.5v2M439.4 501v3M439.9 499.2v3M439.8 506.8v0.8M439.9 499.7v1.4M440.1 494.9v4.2M440.2 491.1v1M440.1 490.7v4.2M440.1 501.5v2M440.3 495.3v2M440.3 484.4v4.2M440.2 501.1v1.4M440.3 492.1v3M440.4 505.5v1M440.3 510.6v1M440.4 500.8v5.5M440.4 485.8v4.2M440.2 497.4v4.2M440.7 501.9v2M440.9 494.4v2M440.7 492.8v3M440.9 502.6v4.2M440.6 498.3v2M440.6 498.7v1.4M440.6 506.8v3M441.3 490.3v4.2M441.2 488.7v2M441.3 499.8v4.2M441 502.7v0.8M441 501.8v3M441.1 493.3v0.8M441 499.1v2M441.1 491.1v1M441.4 503.2v3M441.7 498.7v4.2M441.5 510.8v2M441.6 503.3v5.5M441.5 509.9v4.2M441.4 502.9v2M441.6 488.4v5.5M441.6 500.4v3M441.4 497.9v4.2M441.9 486.2v4.2M441.9 487.5v5.5M441.8 505.3v1.4M442.2 500.6v0.8M441.9 491.1v1.4M441.9 494.3v1.4M442 510.5v3M442.4 501.6v5.5M442.5 515.1v1M442.5 490.6v4.2M442.2 516.1v5.5M442.3 501.6v1.4M442.7 503.3v4.2M442.6 500.5v5.5M442.9 494.1v1.4M442.9 508.9v4.2M442.8 511.6v3M443 512.4v3M442.8 504v1.4M443 509.2v1M443 513v5.5M443 513.9v1.4M443.3 514.9v1M443.1 505.6v4.2M443.2 508.2v1.4M443.1 478.1v3M443.2 512.9v1.4M443.2 491.8v1.4M443.4 498.4v2M443.3 512v1M443.4 490.1v3M443.5 516.2v0.8M443.3 496.3v3M443.3 490.7v4.2M443.3 495.6v0.8M443.4 496.6v4.2M443.8 508.1v4.2M443.9 504.9v2M443.7 509.7v1.4M443.8 506.3v1.4M443.8 509.4v5.5M443.9 499.6v4.2M443.8 494.4v5.5M443.7 495.8v5.5M443.6 511.7v5.5M444.3 500.8v3M444.4 501.7v4.2M444.2 512.3v1M444.1 498.1v1M444.2 499.1v1M444.4 503.1v0.8M444.7 509.3v0.8M444.4 501.9v5.5M444.4 499.1v1.4M444.7 503.1v1M444.7 497.5v1M444.6 500.3v2M445.1 490.3v2M445.1 505v2M445 512.7v3M444.9 486.2v1M444.9 502.5v3M445 503.9v5.5M444.9 504.8v5.5M445.2 497v1M445.2 496.2v1.4M445.3 497.3v5.5M445.3 506.6v3M445.3 508v1M445.2 498v3M445.3 501v4.2M445.8 495.1v4.2M445.5 503.2v4.2M445.5 507.7v0.8M445.7 493.5v5.5M445.6 494.9v4.2M446.2 498.5v0.8M446.1 496.2v1M446.1 500.9v1.4M445.9 497v4.2M446 503.5v3M445.9 500.5v1M446.1 511.2v0.8M446.5 494.2v1.4M446.6 513.8v5.5M446.4 499v1.4M446.5 497.1v3M446.6 505.5v1.4M446.4 499.1v0.8M446.6 511.9v1.4M446.7 500.5v1M446.9 498.3v4.2M446.8 503.4v0.8M446.9 504.1v0.8M446.8 498.7v1M446.9 489.4v0.8M446.9 507.1v0.8M447.3 497.2v1M447.1 496.6v1.4M447.2 508v0.8M447.3 504.2v4.2M447.1 507.7v1M447.3 507v1.4M447.2 508.7v5.5M447.7 498.8v4.2M447.5 502.1v1M447.7 510v4.2M447.6 494.4v0.8M447.6 488.9v5.5M447.8 489.2v5.5M447.6 509.5v0.8M448 501.7v5.5M448 504.4v1M447.8 499.3v4.2M448.1 496.3v5.5M448.1 495.1v5.5M448 485.6v2M447.9 503.6v4.2M448.3 497.2v2M448.5 498.5v1M448.5 507.2v3M448.5 486.5v1.4M448.3 487.8v1.4M448.4 495.4v5.5M448.4 522.3v0.8M448.5 496.1v5.5M448.8 498.4v2M448.6 514.7v1M448.9 504.5v1.4M448.9 496.4v4.2M448.8 499.5v0.8M449.2 500.2v0.8M449.3 501.7v3M449.1 507v3M449 493.6v5.5M449.3 498.2v4.2M449.6 512.9v1M449.5 500v5.5M449.7 512.6v4.2M449.4 494.4v5.5M449.5 513.8v5.5M449.6 503.5v0.8M449.4 505.6v0.8M449.6 493.3v0.8M449.6 496.1v1.4M449.9 489.4v5.5M449.9 500.7v1M449.8 505.1v5.5M450.1 503.1v1M449.8 505.1v3M449.9 505.6v2M450.4 497.5v1.4M450.3 504.9v4.2M450.5 498.5v3M450.2 497.7v1.4M450.5 499.8v2M450.5 496.7v1M450.3 489.3v3M450.9 502v2M450.7 506.4v1M450.7 501.9v3M450.8 509.3v1.4M450.7 500.9v1.4M450.7 510.2v1.4M450.7 512.9v1.4M450.6 499.3v4.2M451.1 510.3v1.4M451 497.7v3M451.1 489.6v0.8M451 509.2v4.2M451.1 503.9v5.5M451.4 507.2v0.8M451.2 504.6v4.2M451 498.2v2M451.1 496.1v1.4M451.7 510.2v3M451.7 506.7v1M451.4 502.2v1M451.6 505.5v4.2M451.6 499.2v1.4M451.8 496.7v2M451.9 501.2v1M452 495.3v5.5M452 515v2M451.9 495.4v4.2M451.9 498.2v1M451.8 504.3v1.4M451.8 503v1M452.1 501.1v5.5M452.3 509.4v2M452.1 507v2M452.1 502.8v5.5M452.1 508.3v5.5M452.3 500v2M452.1 497.1v0.8M452.5 507v4.2M452.4 526.4v1M452.5 501.9v5.5M452.5 512.8v4.2M452.8 502.5v5.5M452.7 502.5v1M452.7 507.6v0.8M452.8 509.5v2M453.2 498.5v1M453 505.8v0.8M453.1 500.6v0.8M452.9 504.1v2M452.9 499.7v4.2M453.2 504.3v1M453.1 510.4v0.8M453.4 509.6v1.4M453.3 504.5v1M453.5 513.2v2M453.3 502.5v0.8M453.6 506.8v1M454 498.3v0.8M453.7 490.6v1.4M454 502.1v3M453.9 498.7v2M454 501.8v4.2M454.4 483.3v5.5M454.2 509.5v0.8M454.2 506.9v4.2M454.4 511.2v2M454.2 519v1.4M454.1 497v1M454.3 503.5v4.2M454.5 503.2v4.2M454.5 512.1v1M454.6 510v1.4M454.9 500.4v5.5M454.7 515.7v5.5M454.8 514v4.2M455 496v1.4M455.2 501.7v1.4M455.2 499v1.4M455.2 500.5v1M455 495.4v1M455.1 506.4v1.4M455.1 501.5v5.5M455.1 493.5v2M455.7 498.1v5.5M455.7 504v4.2M455.6 492.6v4.2M455.4 497.8v1.4M455.7 506.8v1.4M455.6 501.2v5.5M455.7 505.7v4.2M455.6 494.2v1.4M456.1 505.4v4.2M456.1 499.9v1.4M456.1 502.1v0.8M456.1 504.1v4.2M456.1 496.8v1.4M456 501.9v0.8M456.1 506.4v5.5M456.2 505.3v1M456.5 500.9v0.8M456.2 502.5v5.5M456.3 497v0.8M456.3 505v1.4M456.5 511.5v0.8M456.6 505.4v2M456.5 506.7v1.4M456.6 508.8v1.4M456.6 502v1M456.7 494.4v3M456.8 501.6v1M456.8 500.4v5.5M456.9 499.9v3M457 495.6v3M456.9 494.5v1M456.8 500.3v1.4M456.9 512.3v1M457 508.1v5.5M457.1 503.1v1.4M457 499.9v5.5M457.4 478.1v0.8M457.3 506.5v2M457.4 490.6v5.5M457.2 492.4v2M457.5 524.8v5.5M457.5 496.5v2M457.2 506.8v5.5M457.7 502.2v2M457.8 503v1.4M457.5 495.5v4.2M457.7 508.8v3M457.5 507.3v3M458 494.6v1.4M458.2 497.3v0.8M458.2 500.3v1.4M458.2 485.9v3M458 513.2v0.8M457.9 514.1v2M458 509.5v0.8M458.6 498.9v1M458.4 506.5v2M458.3 514.5v0.8M458.7 495.8v1M458.5 499.4v0.8M458.6 508.9v2M458.6 499.9v1M458.6 501.6v1.4M458.4 488.8v5.5M458.9 492.1v4.2M458.8 501.1v1M459 500.8v3M459 506v3M458.9 498.2v1.4M459 492v5.5M459 495.4v1M459.5 496.9v4.2M459.2 496.9v4.2M459.5 501.6v5.5M459.1 501.5v0.8M459.4 505v5.5M459.7 507.5v1.4M459.6 520.8v1M459.8 504.2v3M459.5 503.4v0.8M459.8 498.3v4.2M459.6 506.9v5.5M459.9 519.9v5.5M460.1 498.9v4.2M460.2 508.6v3M460.1 507.7v3M460.2 494.1v5.5M460 512.3v1M460.3 482.2v4.2M460.1 497.3v1.4M460.5 504.5v1.4M460.5 495.4v0.8M460.4 502.4v4.2M460.3 490.5v1M460.3 487v2M460.3 500.9v5.5M461 525.2v4.2M460.8 492.9v0.8M461 517.9v1.4M461 493.2v3M460.9 504.6v1.4M461 521.1v1.4M460.9 503.9v1M461.4 495.3v4.2M461.3 503.3v5.5M461.4 486.3v5.5M461.2 508.3v0.8M461.3 500.6v1M461.3 504.1v5.5M461.2 507.5v1.4M461.2 507.4v1M461.3 512.7v3M461.6 515.7v5.5M461.5 517.1v3M461.6 508.7v2M461.7 505.8v4.2M461.5 499.2v3M461.5 502.1v5.5M461.5 507.4v4.2M461.8 502.1v5.5M461.9 510.4v0.8M461.8 503.6v5.5M462.2 496.4v1.4M461.9 504.1v1M462.1 507.3v0.8M461.8 487v5.5M462 500v4.2M462.2 507.7v0.8M462.3 505.5v3M462.3 497.5v5.5M462.4 502.4v2M462.3 491.8v5.5M462.5 496.8v1M462.9 503.6v3M462.6 510.3v0.8M462.9 503v1.4M462.8 502.6v1.4M462.6 502.2v4.2M462.7 504.9v5.5M462.8 511.6v4.2M463.2 491.3v0.8M463.2 499.2v1M463 491.4v1M463.1 502.9v1.4M463.3 501.1v3M463 501.2v4.2M463.6 513.7v3M463.8 494.9v3M463.6 505.8v2M463.6 499.6v2M463.6 497v1M464.1 502.8v0.8M464.1 495.6v4.2M464 505.2v2M464 498.4v3M463.9 506.7v2M464.2 509v1.4M463.9 502.7v2M464.6 498.4v4.2M464.6 516.2v0.8M464.6 508.7v4.2M464.4 506.9v5.5M464.3 511.7v0.8M464.4 510.8v3M464.5 507.7v1M464.3 506.2v0.8M464.5 508.2v1.4M464.8 508.3v4.2M464.6 498.1v3M464.9 505.6v3M465 504.7v3M464.7 507.7v1.4M465.2 494.4v4.2M465 508v0.8M465 493.5v1.4M465.3 498.4v3M465.2 498.5v1M465.1 504.9v3M465.4 514.3v2M465.7 508.8v1M465.3 508.8v3M465.4 500.6v1.4M465.7 514.3v3M465.4 495.4v4.2M465.7 503.1v4.2M465.6 505.5v3M465.7 513.2v0.8M466 502v4.2M466 504.5v4.2M465.9 498.9v3M466.1 496.9v3M466 502v3M465.8 501.7v4.2M466.2 495.5v3M466.4 502.2v3M466.4 504.3v5.5M466.3 483.8v1M466.4 507.8v1M466.3 508.9v5.5M466.6 509.5v1M466.3 511.1v5.5M466.7 513.9v2M466.8 496.9v4.2M466.7 505v0.8M466.7 508.5v1M466.8 502.2v0.8M466.8 497.4v0.8M466.7 507.1v1.4M467.2 498v5.5M467.2 492.9v4.2M467.3 494.1v1M467.1 510.4v1.4M467 513.9v1M467.2 498v5.5M467.2 490.9v1.4M467.2 518.7v3M467.6 505v4.2M467.4 503.8v4.2M467.4 499.8v3M467.5 508.2v2M467.5 486.8v4.2M467.3 493.6v5.5M467.3 499.8v4.2M467.4 492v1M467.7 502.8v5.5M467.7 514.7v0.8M467.7 490.2v0.8M467.8 523.5v4.2M467.8 509.3v0.8M467.8 514.2v3M468 492.4v3M468.3 508v0.8M468.4 506.2v1.4M468.1 501.6v0.8M468.2 506.4v5.5M468.4 503.7v2M468.2 505.6v3M468.3 492.9v2M468.2 485.8v2M468.7 502.6v2M468.4 500.3v3M468.8 503.4v5.5M468.5 498.4v5.5M468.5 501.1v3M468.7 503.1v0.8M468.6 508.3v3M468.8 496.8v3M468.9 496.2v5.5M468.7 511.6v4.2M469.1 497.3v2M469 496v1M468.8 494.6v2M469.1 505.6v1.4M468.8 502.2v0.8M469 498v5.5M469.1 499.2v5.5M469.3 509.3v4.2M469.2 510.4v3M469.3 498.7v5.5M469.4 505.1v3M469.1 500.8v1.4M469.1 490.1v5.5M469 505.3v1.4M469.1 501.5v0.8M469.6 500.3v1.4M469.6 493.1v1M469.7 517.2v0.8M469.8 502.1v0.8M469.8 491.6v2M469.5 508.3v5.5M469.5 510.6v1.4M470 503.9v4.2M470.1 493.7v5.5M469.9 500.1v1M469.9 511.4v4.2M469.9 508.7v2M470 510.4v1.4M470.1 507.2v1.4M470.4 509.4v1.4M470.2 505v1.4M470.3 505.2v4.2M470.3 494.9v5.5M470.4 505v2M470.2 508.2v1M470.2 506.3v4.2M470.2 507.2v1M470.3 502.1v2M470.5 501.9v4.2M470.6 513.6v2M470.4 501.4v2M470.5 499.2v2M470.6 502.4v1.4M470.7 498.5v1M470.7 497.7v2M470.9 491.6v1.4M470.8 498.4v2M470.9 492.6v1M471.1 504.4v1M471.1 495.5v5.5M471.3 500.3v2M471.2 499.7v1.4M471.3 507.3v5.5M471.4 507.4v5.5M471.1 510.7v3M471.3 503.5v1.4M471.1 507.9v5.5M471.3 500.3v5.5M471.2 493.5v5.5M471.8 502.9v4.2M471.7 491.4v0.8M471.7 515.2v1M471.8 505.2v3M471.6 501.8v2M471.6 496.6v0.8M471.7 503.2v4.2M472.3 497.2v1M472.2 501.7v3M472.1 514.4v2M472.2 506.7v2M472 515.9v3M472.3 509.9v0.8M472.3 514.1v0.8M472.6 499.4v0.8M472.6 505.6v1M472.6 504.1v3M472.4 501.1v1.4M472.4 511v2M472.3 512.5v0.8M472.5 500.9v2M473 508.9v1M473 520.6v2M472.9 523.6v1M473 498.7v4.2M473 510.1v1.4M472.7 504.8v4.2M472.8 510.6v3M473.2 499v5.5M473.1 512.9v1.4M473.1 510.5v1.4M473.1 515.4v4.2M473.2 508.1v5.5M473 503.5v2M473 511.6v5.5M473.7 499.1v2M473.6 496.7v3M473.7 510.4v2M473.5 527.2v1M473.6 507.1v1.4M473.4 490.9v5.5M473.6 504.9v3M473.8 509.9v1.4M473.7 518.2v0.8M473.7 495.9v3M474 512.7v2M474.1 512.6v1M473.8 511.6v1.4M474.1 497.5v2M474 503v1.4M474.1 488.1v4.2M474.4 501.3v1M474.5 508.7v1.4M474.2 515.8v1.4M474.5 504.8v3M474.4 503.5v0.8M474.1 508.2v1.4M474.5 505.1v3M474.6 508.8v1.4M474.8 494.5v3M474.8 499.2v1.4M474.8 504v1M474.8 504.6v1M474.6 505.2v0.8M474.8 501.7v4.2M475 514.8v1M474.9 508.7v2M475 505.1v1.4M474.9 503.4v2M475.1 499.5v5.5M475.1 504v3M475.1 508v1M475.3 497.7v5.5M475.5 512.8v2M475.5 508.8v0.8M475.5 516v2M475.3 505.1v0.8M475.5 500.4v4.2M475.8 495.8v0.8M475.8 522.6v2M475.7 508.3v2M475.8 505.2v3M475.7 496.4v1M476.2 511.6v0.8M475.8 511v4.2M475.8 507.8v1M476.1 508.3v3M475.9 497.2v1.4M476 519.6v1.4M475.9 504.6v1.4M476.6 505.6v4.2M476.4 500.3v2M476.5 502.7v0.8M476.5 501.6v0.8M476.6 493.6v3M476.3 503.1v4.2M476.5 500.1v5.5M476.6 509.6v5.5M476.6 512.8v3M476.9 514.9v1.4M476.7 511.1v3M476.7 502.7v3M476.7 511.7v1.4M476.8 508.1v0.8M477 518v2M476.9 508.3v4.2M477.3 499.2v3M477.2 497.7v0.8M477.2 503.7v5.5M477.2 496.1v4.2M477.1 516v0.8M477.4 503.3v3M477.3 497.8v3M477.6 493.7v2M477.6 500.6v1.4M477.4 503.9v2M477.5 502.8v3M477.5 512.4v2M477.4 499.4v2M477.4 512.1v4.2M477.5 498.2v0.8M477.6 503.3v1M478.1 514.1v1.4M477.8 508.1v4.2M478 499.7v1.4M477.9 518v2M477.8 489v1M478.5 490.1v4.2M478.4 511.1v2M478.4 493.3v0.8M478.5 491.4v5.5M478.4 500.1v5.5M478.3 505.1v2M478.5 503v3M478.6 504.4v1.4M478.9 489.6v4.2M478.9 492.7v1.4M478.8 499.9v5.5M478.7 499.9v0.8M479.1 505v0.8M479.3 506.6v3M479.1 517.5v3M479.3 513v2M479.1 496.7v1M479.1 500.5v3M479.6 498.9v5.5M479.7 495.9v2M479.7 507.2v1.4M479.7 500.9v2M479.5 497.5v3M479.5 497.5v1M479.9 495.8v5.5M479.9 504.3v1M480 505.6v4.2M479.9 505.5v4.2M480.1 515.7v0.8M479.9 509.7v1.4M480.4 509.3v4.2M480.1 485.2v5.5M480.1 501v4.2M480 490.3v0.8M480.4 484.9v0.8M480.4 493.9v3M480.7 493.4v0.8M480.4 489.7v5.5M480.7 527.7v4.2M480.4 503.3v4.2M480.8 490v1M480.6 508.8v4.2M480.5 491.3v1.4M481 507.6v1.4M480.9 498.8v1.4M481.1 496.7v1M480.8 515.5v1.4M481.1 499v5.5M481 501.6v1.4M481.2 490.4v1M481.2 505.6v5.5M481.4 490.8v0.8M481.2 484.3v5.5M481.4 493.3v5.5M481.3 518.7v0.8M481.2 511.2v4.2M481.3 517.2v4.2M481.5 501.9v2M481.8 498.8v1.4M481.7 504.5v0.8M481.8 494.5v4.2M481.8 494.8v5.5M481.5 491.4v5.5M481.7 498.1v1.4M481.9 503.9v0.8M481.9 505.4v1.4M482.1 497v1M481.9 498.9v1.4M482.2 502.8v1M481.9 490.9v0.8M482.1 501.8v1.4M482.4 510.5v2M482.3 491.1v3M482.2 508.6v1.4M482.1 514.9v4.2M482.4 507.5v1M482.2 496.1v3M482.2 499.6v3M482.9 500.2v1M482.8 492.5v5.5M482.6 503.8v1M482.9 502.7v5.5M482.8 501v2M482.9 500.7v3M482.9 496.1v5.5M482.6 496.5v1.4M483.4 496.4v2M483.1 514.1v0.8M483 510.1v2M483.3 491.9v3M483.3 480.9v0.8M483.3 496v4.2M483.5 503.6v5.5M483.4 497v2M483.6 498.3v0.8M483.5 503.2v1M483.6 501v2M483.6 490.2v5.5M483.6 500.4v2M483.8 491.7v2M484 492.9v3M484.1 501.7v1M484.2 506.7v1M483.9 495.2v1M483.9 495.9v1.4M484 503.1v3M484.1 507.5v2M484.1 494.2v1.4M484 492.1v1M484.3 511.5v1.4M484.4 505.5v5.5M484.6 508.4v2M484.3 500.2v1M484.3 496.9v0.8M484.3 478v3M484.6 493.2v0.8M485 496.9v1M484.9 508v0.8M485 501.3v3M485 497.5v1.4M484.7 504.7v1.4M484.9 498.5v2M484.7 507.9v0.8M485.4 490.4v4.2M485.1 505v3M485 498.5v2M485.1 496.9v1.4M485.3 491.7v1M485.3 504.8v3M485.2 512.6v0.8M485.2 507.8v1.4M485.4 498v5.5M485.8 509.6v1.4M485.8 493.3v1.4M485.5 494.9v5.5M485.6 483.4v3M485.8 500.5v5.5M485.6 492.6v3M486 491.1v2M486.1 491v0.8M486.1 491.5v5.5M486 501.2v5.5M486.2 502.2v4.2M485.8 497v5.5M486.3 493.9v3M486.3 498.9v2M486.3 504.4v0.8M486.4 501.3v0.8M486.6 501.8v1.4M486.6 497.6v1M486.6 494.8v2M486.6 505.9v2M486.7 502.1v4.2M486.8 502.4v0.8M486.7 480v5.5M486.8 505.6v1M487.3 495v3M487 500.2v3M487.2 485.8v5.5M487.1 506.3v1M487.3 503.8v3M487.1 479.2v2M487.4 507.8v0.8M487.6 496.4v2M487.5 495.1v4.2M487.5 487.3v3M487.8 498.7v0.8M487.7 494.8v5.5M487.8 490.2v1.4M488.1 490.9v0.8M487.9 504.4v5.5M488 493.5v0.8M487.7 506.5v0.8M488.1 496.7v2M488.5 497.4v4.2M488.2 498.8v0.8M488.4 494v5.5M488.5 495.6v1.4M488.4 493.3v5.5M488.2 506v1.4M488.5 498.4v5.5M488.4 510.4v0.8M488.2 490.4v5.5M488.9 497.3v0.8M488.7 484v1M488.6 493.7v1M488.7 494.9v3M489 494.4v5.5M489 473.9v0.8M489.4 496.1v1.4M489.4 488.6v2M489.2 506.1v1M489.2 497.9v5.5M489 490.4v5.5M489.4 488v1.4M489.7 476.1v1.4M489.6 484.6v3M489.5 489.7v0.8M489.8 491.9v0.8M489.7 497.7v0.8M489.9 503.5v3M490 493.1v1.4M490.2 494.1v4.2M490 490.2v1M490 488.5v3M490 499.6v1M490.4 480.8v3M490.6 487.6v0.8M490.3 481.8v0.8M490.6 491v1M490.5 484.4v1M490.5 482.4v0.8M490.3 483.9v2M490.5 505.5v1.4M490.9 499.3v0.8M490.7 489.6v4.2M490.7 503v1M491 482.5v5.5M490.8 496.3v1M490.7 485.9v0.8M491.2 487.1v2M491 485.6v4.2M491.1 503.9v1.4M491.1 479.2v5.5M491.4 490.7v3M491.4 494.6v5.5M491.1 502v1M491.1 493.6v3M491.5 504.8v1M491.7 498.7v4.2M491.7 494v3M491.6 490.5v2M491.5 478.5v1M491.5 500v2M491.7 503.7v1.4M491.8 493.9v4.2M491.8 490v0.8M491.8 493.1v1.4M491.9 490.7v1.4M491.9 491.1v4.2M492 488.3v5.5M492.4 494.5v0.8M492.1 484v5.5M492.2 500.5v1M492.1 502.6v2M492.2 494v2M492.3 488.1v1.4M492.3 520.5v5.5M492.3 493.2v4.2M492.2 478.4v2M492.6 490v0.8M492.4 494.8v0.8M492.6 499.3v1.4M492.6 502.5v1.4M492.7 493.1v0.8M492.8 498.4v0.8M492.5 494.4v1.4M492.6 501.9v2M492.8 496.1v1M493.1 482.1v2M493.2 506.2v3M493 487.8v5.5M492.9 487.1v4.2M493.1 502.7v3M493 491.9v4.2M493.4 494.2v1.4M493.4 498v1M493.3 503.2v3M493.6 500v0.8M493.5 506.8v3M493.5 494.9v0.8M493.4 486.9v0.8M493.7 491.6v5.5M493.9 495.6v1M493.9 497.2v1M493.8 498.5v2M493.7 495.1v0.8M493.8 494.6v4.2M493.9 506v5.5M494.5 504.1v1M494.5 491.6v3M494.3 490.7v1M494.2 506v3M494.4 508.6v1.4M494.1 515v2M494.2 492.1v2M494.8 501.7v1M494.6 492.4v2M494.7 497.9v2M494.4 499.5v2M494.6 503v3M494.5 500.7v1M494.5 498.7v0.8M494.7 501v0.8M494.6 497.3v3M495.1 504.7v2M495 487.8v5.5M494.9 500.4v0.8M495.1 499.7v1.4M495.2 498.5v3M495.7 488.1v2M495.4 497.3v1M495.3 503.1v1M495.3 501.4v4.2M495.3 503.8v0.8M495.6 500.1v1M495.3 503.2v0.8M495.7 494.8v3M495.7 488.5v0.8M495.7 500.6v1M495.7 508v1.4M495.8 497.9v5.5M495.9 489.5v0.8M496.2 506.9v2M496.2 500.3v3M496.2 501.3v1.4M496.3 506.1v0.8M496.2 505.6v1.4M496.3 498.1v2M496 487.8v1.4M496.2 499.6v1M496.5 492.3v1.4M496.5 504.3v1.4M496.6 485v0.8M496.5 494.4v4.2M496.5 495v3M496.5 495.2v1.4M497 499.9v1.4M496.9 498.9v1.4M497 479.1v3M496.9 487.5v2M496.7 489.1v2M496.8 494.6v2M496.9 487.4v0.8M497.1 499.9v2M497.2 502.6v4.2M497.1 507.7v0.8M497.3 505.3v2M497.1 503.8v1.4M497.3 500.9v0.8M497.4 503.3v5.5M497.6 503.3v4.2M497.8 495.2v5.5M497.9 496.1v3M497.8 499v5.5M497.7 500v3M498.2 489.1v5.5M498.2 476.8v1M498.1 512.2v3M498.1 504.8v1.4M498.3 509.2v1M498.2 501.2v5.5M498.6 503.1v1M498.6 493.9v4.2M498.4 504.5v1M498.7 486v0.8M498.8 497.4v2M498.4 495.2v1.4M498.6 509.7v0.8M499.1 489.4v2M499.1 498v0.8M499.1 502.3v1M499 493.3v5.5M499 496.9v4.2M498.8 502.6v4.2M499 504.4v1.4M499.3 489.5v5.5M499.4 492v1M499.4 496.5v4.2M499.5 489.3v5.5M499.3 510.8v5.5M499.2 504.4v3M499.4 496v3M499.2 483.9v2M499.6 502.1v5.5M499.5 498.4v4.2M499.9 502.8v4.2M499.8 497.9v1.4M499.6 497.5v1.4M499.6 498.3v3M499.9 493v1.4M499.5 495.7v5.5M499.8 503v0.8M500.2 485.2v3M500.3 498.2v1.4M500.2 491.6v5.5M500.2 493.5v4.2M500.1 495.1v4.2M500.3 495v2M500.4 501.1v4.2M500.6 509.6v1.4M500.3 508.3v5.5M500.6 495.2v2M500.6 500.7v5.5M500.4 499.1v5.5M500.4 488.7v1.4M500.6 498.1v2M500.7 494.6v1M500.7 486.2v2M500.8 499.8v2M500.9 495.7v5.5M500.9 493.9v2M501 501.3v0.8M501.2 491.5v1M500.9 492.2v3M501.1 479.4v1.4M501 503.6v4.2M501.2 503.5v2M501 499.4v3M501.2 496.8v1M501.4 502.2v1.4M501.5 516.8v1M501.4 491.1v3M501.6 505.5v4.2M501.4 493.1v1.4M501.6 491.5v3M501.8 489.6v3M502 495.3v4.2M501.8 495.2v5.5M501.9 507.9v1M501.8 490.9v5.5M502.3 501.7v3M502.5 485.4v0.8M502.4 478v0.8M502.3 497.1v0.8M502.3 508.7v1.4M502.5 499.5v3M502.4 508.8v0.8M502.2 495.4v3M502.5 480.6v2M502.8 503v1.4M502.7 507.3v3M502.8 506.3v4.2M502.6 509v1.4M502.9 497.1v3M503.2 499.5v5.5M503.2 498.5v3M503.2 502.1v3M503 498.7v4.2M502.9 499.2v5.5M503.2 505v1M503.1 500.4v4.2M503 499.2v1.4M503.3 501.4v3M503.3 507.4v1.4M503.6 492v1M503.3 490.7v3M503.4 486v4.2M503.7 512.8v1M503.3 501.3v3M503.8 496.2v3M503.8 494.7v5.5M504 495.5v5.5M503.7 501v0.8M503.9 510.8v2M503.9 492.5v0.8M504 501.7v3M503.9 498.3v4.2M504.2 489.4v3M504 501.3v3M504.3 493.7v0.8M504.1 496.1v1.4M504.2 503.4v3M504.3 496.5v2M504.1 491.9v5.5M504.7 498.5v3M504.4 512.3v0.8M504.7 494.9v1.4M504.7 494.8v4.2M504.7 499.1v1.4M504.8 496.7v4.2M504.9 499v4.2M504.9 494v2M505 494.6v0.8M505.1 483.8v4.2M504.9 494.7v1M505.1 492.2v1M504.8 497.6v1M505.3 499.4v2M505.3 490.1v2M505.3 495.8v2M505.2 490.8v0.8M505.2 488.3v1.4M505.5 480.2v1M505.2 490.2v0.8M505.2 499.8v3M505.2 502v4.2M505.6 522.7v3M505.5 494.7v3M505.5 495.6v3M505.9 490.6v4.2M505.9 496.8v1M505.5 494.9v1M506.2 492.1v2M506.2 496.9v3M506 495.5v1.4M506.1 485.5v5.5M506 488.5v4.2M506.3 496.4v2M506.3 483.2v3M506.5 501.7v0.8M506.3 494.6v0.8M506.3 496.2v0.8M506.3 494.9v1.4M506.3 486.8v4.2M506.6 495.3v5.5M506.9 497.9v4.2M507 500.5v1M506.9 502.8v1.4M507.1 490.9v3M506.7 508.3v1.4M507.1 500.8v4.2M507.3 500.5v1M507.5 490.8v5.5M507.4 502.9v1.4M507.1 506v1.4M507.2 482.5v5.5M507.2 492.8v3M507.2 504.3v2M507.6 502.3v1.4M507.5 485.3v5.5M507.8 503.3v0.8M507.7 490.5v2M507.7 494.4v3M507.5 487.2v0.8M507.8 491.2v1.4M507.6 492.6v5.5M507.9 487.8v2M508 508.9v1.4M508 490.8v4.2M508 503.8v3M508.2 495.2v1M508.1 493.2v1.4M507.8 495.3v4.2M508.3 497.5v2M508.4 494.2v1.4M508.2 498.3v1M508.2 499.8v5.5M508.6 482.7v3M508.3 490.4v3M508.8 494.6v5.5M508.9 498.2v3M508.8 494.2v4.2M508.7 492.1v5.5M508.5 502.4v5.5M509 503.4v2M508.9 489.2v1M508.8 498.1v3M509.1 495.4v2M509.1 495.9v1.4M509.2 504.4v5.5M509.1 497.3v0.8M509.5 497.9v2M509.5 490.5v4.2M509.6 492v4.2M509.4 488.9v4.2M509.4 504.6v1.4M509.5 488.4v5.5M509.4 487.3v0.8M509.4 501.2v1.4M509.8 490.6v2M509.9 492.8v0.8M510 497.9v0.8M510 495.8v5.5M510 497.9v1.4M509.7 492.5v1M509.9 495.9v0.8M510.4 499v1.4M510.4 501.8v5.5M510.1 504.5v3M510.3 499.5v4.2M510.4 480.9v0.8M510.2 497.8v1.4M510.4 494.7v5.5M510.4 497.7v4.2M510.6 496.4v1M510.8 503v4.2M510.8 497.3v1.4M510.9 488.5v5.5M510.8 496.6v4.2M510.6 505v3M510.5 497.9v2M511.1 488.1v4.2M511.2 495.9v2M511.1 503.6v0.8M510.9 494v5.5M511 489.4v2M511 501.5v1.4M511.2 503.6v1M511.1 496.2v1.4M511.1 491v5.5M511.4 504.3v4.2M511.6 501.7v5.5M511.6 486.1v5.5M511.7 497v2M511.4 495.1v1.4M511.4 490.4v0.8M511.5 491.9v2M511.9 495.6v1.4M512.1 503.6v5.5M512.1 495.7v1.4M512 481.7v1M511.8 504.7v4.2M511.8 509.6v1M511.8 492.5v4.2M512 501.5v3M512.1 494v5.5M512.2 502.1v4.2M512.5 498.6v1M512.3 511.2v0.8M512.2 497.9v0.8M512.3 494.9v5.5M512.5 495.7v5.5M512.8 499.1v1M512.8 496.8v1.4M512.9 488.6v5.5M512.9 493.5v4.2M512.7 490.8v3M512.9 494.3v4.2M512.6 511.3v0.8M513.2 492.5v5.5M513 486.9v4.2M513.2 498v4.2M512.9 474.1v0.8M513 498.4v2M513.2 490.3v1M513.2 496.9v5.5M513.1 496.7v5.5M513.1 489v0.8M513.5 490.7v2M513.4 493.7v3M513.6 497.2v5.5M513.5 489.5v3M513.3 485.6v3M513.3 504.8v3M513.4 496.5v0.8M514 487.4v1.4M513.7 500.6v5.5M513.8 496.6v4.2M514 503.6v4.2M514 494.2v5.5M514 508.5v0.8M514.1 491.6v5.5M513.8 497.1v1M513.9 502.2v5.5M514.1 496.2v5.5M514.5 491.3v1M514.2 492.9v1M514.2 489.3v3M514.2 497.7v3M514.3 489.9v0.8M514.3 485.7v4.2M514.1 494.1v1M514.7 494v3M514.8 489.3v1.4M514.6 487.7v2M514.7 488.6v3M514.6 489.8v2M514.7 492.6v0.8M514.7 475.6v5.5M514.7 493.7v0.8M515 501.8v1M515 497.1v0.8M515.3 492.9v1.4M515.1 484.9v3M514.9 484.7v5.5M515.2 497.3v1.4M515.3 491.3v2M515.4 498.6v3M515.6 496.6v1.4M515.6 497.4v4.2M515.3 505.7v3M515.9 500.7v3M515.8 487.2v3M515.7 499.7v5.5M515.6 475.7v1M515.6 495.1v5.5M515.9 487.4v4.2M516 491.6v1M516.2 490.5v5.5M516.4 495.8v1M516.4 495.5v5.5M516.2 489.5v3M516.2 500.1v3M516.1 497.6v0.8M516.1 509v4.2M516.6 491.6v1M516.4 502v5.5M516.7 489.1v2M516.4 480.4v1.4M516.5 485.4v1.4M517 500.8v2M517.2 477.9v5.5M517 478.9v4.2M517.1 503.1v2M517 481.9v3M517.1 486.6v0.8M517.2 486.5v3M517 505.2v0.8M516.9 494v1M517.2 496.3v1M517.5 493v4.2M517.6 500.5v5.5M517.5 498.6v5.5M517.2 495.6v1M517.3 488.5v1M517.3 500.1v0.8M517.6 493.2v4.2M517.6 496v1M517.8 478.7v5.5M517.5 493.2v3M517.5 502.3v0.8M517.5 487v2M517.8 489.8v0.8M518.3 473.4v5.5M517.9 480.9v1.4M518.3 493.7v4.2M518.2 489.9v4.2M518.1 487.3v0.8M517.9 492.4v1M518.5 501v1.4M518.6 489.7v4.2M518.5 498.2v5.5M518.4 494.6v1M518.3 503.6v5.5M518.4 484.2v4.2M518.3 502.7v0.8M518.9 495.5v1.4M519 492.8v2M519 480.1v2M518.8 490.6v1M518.7 488.3v1.4M518.7 494.9v4.2M519.2 491.2v3M519.2 492.2v1M519.3 491.3v0.8M519.4 490.5v3M519.2 496.7v3M519.4 494.4v1M519.4 483.1v4.2M519.8 480v5.5M519.7 507.6v4.2M519.7 480.1v5.5M519.6 497.6v1.4M519.7 477.5v1.4M519.7 483.2v4.2M520 493.7v4.2M520 498.1v1.4M520.1 488.3v3M519.8 506.8v3M520 513.8v1M520.1 501.9v3M520.2 496v1.4M519.8 487.1v0.8M519.9 488.5v4.2M520.5 505.9v1.4M520.5 485.9v3M520.5 494.8v2M520.3 486.2v2M520.2 495.1v5.5M520.5 487.9v2M520.8 497.9v2M520.7 492.5v4.2M520.7 491v3M520.6 502.2v1.4M521 505.1v1M520.7 497.5v1M520.7 484.8v5.5M521 503.8v2M521.1 496.2v2M521.4 481.4v4.2M521.3 498.1v2M521.3 504.2v1M521.7 513.4v0.8M521.7 521.4v0.8M521.7 492.3v1.4M521.5 497.9v1.4M521.7 491v4.2M521.7 497.6v1.4M522 516.5v2M522.1 483.9v1M521.8 497.2v2M522.1 498.1v4.2M522.1 498.2v1.4M522 490.5v4.2M521.8 483.3v2M522.3 499.6v1.4M522.4 495v5.5M522.4 507.9v4.2M522.4 493.6v1M522.4 507.3v5.5M522.3 499.3v2M522.3 495.4v2M522.8 489.8v4.2M522.8 481.3v4.2M522.9 504v2M522.5 502.4v3M522.6 481.2v3M522.7 475.5v5.5M522.8 491.8v1.4M522.8 491.1v2M522.9 482.2v1M523.3 487v1.4M523.2 496.4v2M523.3 482.8v4.2M523.2 500.1v2M523.2 505.6v5.5M523 491.5v4.2M523.3 483.5v5.5M523.1 480.4v0.8M523.1 494.2v0.8M523.5 481.4v2M523.4 487.7v5.5M523.4 500v5.5M523.3 491.3v2M523.3 500.6v4.2M524.1 485.7v1M524 485.3v1M524.1 497.6v0.8M524 485.1v4.2M524 485.6v0.8M523.9 490.1v0.8M524 485.8v1.4M523.8 472.8v4.2M524.3 494.8v3M524.3 485.4v5.5M524.4 492.6v2M524.3 491.7v2M524.1 493v1M524.2 496.3v3M524.6 500.5v0.8M524.9 499.2v3M524.7 497.7v4.2M524.7 492.5v4.2M524.9 500.2v5.5M524.8 496v3M525.2 493.5v1M525.1 500.3v1M525 490.4v5.5M525.3 482v0.8M525 495.2v3M525.5 508.9v2M525.7 484.9v3M525.6 487.1v2M525.4 502.4v0.8M525.4 494.6v2M525.5 487.4v0.8M525.5 493.7v2M526 496v1.4M526 498.7v5.5M525.9 496.7v2M525.8 485.6v4.2M525.8 498v2M526 491.8v5.5M525.7 492.2v0.8M525.8 502.5v4.2M526 497.7v4.2M526.1 509.4v4.2M526.1 496.9v5.5M526 500.1v5.5M526 497.2v3M526.2 487.9v5.5M526.3 485.6v0.8M526 488.4v3M526.7 495v0.8M526.8 492.4v3M526.5 496.1v5.5M526.5 499v5.5M526.7 496v1M526.5 495.5v3M526.6 494.9v4.2M526.4 498.3v5.5M526.6 499v3M527.1 493.7v0.8M526.9 496.5v0.8M527.1 494.3v2M527.1 498.8v0.8M527.2 500v0.8M526.8 494.3v0.8M527 500.6v1M527.2 490.2v3M527.3 495.9v0.8M527.6 498.7v1M527.4 496.2v1M527.3 486.4v4.2M527.3 504.8v3M527.4 493v1M527.3 497.5v3M527.7 490.5v1.4M527.8 497.2v1.4M527.9 494.7v0.8M527.7 490.1v4.2M527.9 502.5v0.8M527.6 492.4v5.5M527.7 499v0.8M528.3 505.9v4.2M528.2 511.3v3M528.3 494.6v1.4M528.1 489.7v4.2M528.2 494.1v0.8M528.3 496.1v4.2M528 476.2v1.4M528.6 512.1v0.8M528.7 501.8v2M528.8 492.3v2M528.6 487.8v4.2M528.8 513.2v1.4M528.8 495.7v0.8M528.7 484.5v0.8M528.5 504.9v1.4M528.8 504.3v0.8M529.2 494.5v4.2M528.9 492.4v5.5M529.2 495.1v0.8M529.1 490.4v2M528.9 502.5v1M529.3 501.7v4.2M529 492.1v5.5M529.1 493.3v2M529.1 490.7v0.8M529.4 504.3v1M529.3 492.5v0.8M529.3 494.8v4.2M529.5 491.7v1M529.4 490.2v3M529.4 494.4v2M529.9 490.7v0.8M529.9 506v3M529.9 496.3v0.8M529.9 494.6v5.5M529.8 495.1v0.8M529.8 500.6v5.5M529.7 492.1v1M529.8 505.7v1.4M530 503.7v1M530.2 485.3v2M530.1 487.8v5.5M530.2 524v2M530.4 506.5v3M530.3 503.2v1.4M530.4 502.7v1.4M530.4 495.1v2M530.2 492v1.4M530.7 487.4v3M530.8 479.3v0.8M530.6 493.4v2M530.8 497.2v2M530.8 479.8v5.5M530.7 491.8v4.2M530.6 485.6v0.8M530.8 490.6v1.4M531.2 470.7v4.2M531 481.9v1.4M531 490.9v2M531 501.7v1M531 489.6v1M530.9 494.4v0.8M531.2 482.2v2M531.1 487.7v4.2M531.3 493.2v1.4M531.5 504.8v2M531.7 506v2M531.5 508.5v1M531.6 475.8v2M531.5 494.7v3M531.4 505v1.4M531.3 506.8v3M531.5 486.9v4.2M531.7 506.8v3M531.8 516.6v1M531.9 502.2v0.8M531.8 499.9v2M531.8 501.4v0.8M532 493.6v5.5M531.9 497.5v2M532 490.5v1.4M531.9 505.1v2M532.2 493.8v1M532.2 493v2M532.2 495.7v0.8M532.1 502.5v0.8M532.1 508.5v1M532.4 489.9v2M532.4 495v1M532.7 509.6v4.2M532.7 496.4v4.2M532.7 505.8v1M532.7 503.7v4.2M532.6 505.5v4.2M532.9 487.3v0.8M533 498.6v4.2M533.2 503.6v2M532.9 492.4v5.5M533.1 497.6v4.2M533.4 496.7v2M533.4 509.2v3M533.2 485.6v3M533.2 488.8v0.8M533.2 504.6v1M533.5 491v2M533.3 492.1v5.5M533.6 495.6v2M533.8 498.6v1.4M533.6 504.7v1.4M533.7 486.1v1.4M533.7 492v0.8M533.6 509v2M533.7 487.4v1M533.8 501v2M533.5 488.9v0.8M534 510.1v1.4M534.1 489.5v3M534.1 496.4v1.4M534.1 509.2v2M534.1 491.7v2M534.2 483v4.2M534.1 496.2v1M534.1 470.4v5.5M534.1 507.2v1M534.5 494.8v1M534.5 493.7v5.5M534.5 494.5v4.2M534.6 494.2v3M534.7 505.8v1.4M534.6 496.8v5.5M534.4 490.6v0.8M534.5 506.8v4.2M534.9 502.4v3M535 490.2v2M534.8 501.1v1.4M534.8 496.1v3M534.7 488.1v2M534.7 490.2v1M534.8 498.7v2M535.4 496.8v1.4M535.3 495.1v0.8M535.2 495.4v4.2M535.2 501.8v2M535.2 495.1v1.4M535.1 495.6v5.5M535.3 495.5v4.2M535.4 492.5v1M535.3 499.5v5.5M535.7 501.2v1.4M535.8 487.9v5.5M535.8 499.4v5.5M535.6 507.2v0.8M535.9 488.1v1M535.8 503.8v2M535.9 491.8v0.8M535.6 496.4v1M536.3 490.9v0.8M536.2 497.2v4.2M536.2 493.3v1M536.1 491.8v5.5M536 489.6v2M536.1 500.1v1.4M536 487.1v1M536 501.8v1M536.4 497.8v1M536.5 486v0.8M536.5 509.5v3M536.6 505.5v0.8M536.4 488.9v3M536.3 484.6v3M536.6 493.6v4.2M536.5 486.9v0.8M536.6 506v1M537 506.6v1M536.9 495.6v1M536.9 483.7v1.4M536.8 507.3v1M537 484.7v1.4M536.9 502.7v1.4M537.1 480.5v1.4M537.1 515.9v1.4M536.9 497.2v2M537.3 493.9v2M537.4 490v2M537.4 483.6v3M537.6 514.5v4.2M537.5 491.3v1M537.4 492.2v2M537.6 497.4v2M537.3 492.4v0.8M537.9 504v1.4M537.8 484.2v3M537.7 491.1v5.5M537.9 502.9v1.4M537.9 504.3v2M537.6 486.9v4.2M537.6 495.7v3M537.8 495.4v5.5M538 495.3v2M538.2 494.4v1M538.2 490.1v4.2M538.3 474.9v1.4M538.2 486.2v2M538.2 493.7v5.5M538.3 491.7v3M538.3 494.5v1M538.7 505.5v5.5M538.4 501.9v3M538.7 497.4v1.4M538.4 500.2v2M538.7 505.8v1M538.6 494.4v1.4M538.6 499.4v1.4M538.6 500.2v1M538.7 504.8v1M538.9 485.4v4.2M538.8 492.2v5.5M539 498.7v4.2M539.1 478.4v4.2M538.9 488.5v1.4M539.3 501.4v2M539.1 495.5v4.2M539.2 498v3M539.3 503.4v2M539.2 496.9v1M539.3 499.8v5.5M539.3 500.3v2M539.5 493.6v2M539.6 502.5v0.8M539.8 492.9v2M539.6 486.9v4.2M539.8 493.3v3M539.6 490.2v5.5M539.9 497.6v4.2M539.6 496.9v2M540.3 487.7v1.4M540 502.5v2M540 495.9v1M540 484.2v5.5M540.1 494.9v3M540 500.1v1M540.1 504.5v5.5M540.5 494.8v1.4M540.7 506v0.8M540.4 497.7v2M540.5 492.2v5.5M540.7 494.8v3M540.4 496.9v0.8M540.4 495.4v1M541 505v1.4M541 505.7v0.8M541 494.1v1M541.1 496.7v2M541.1 493.8v1M540.8 505.4v3M540.8 496.3v4.2M541.2 492.4v4.2M541.3 485.5v1.4M541.3 494.6v5.5M541.3 490.7v3M541.4 501.1v2M541.2 485v3M541.3 491.5v3M541.8 483v2M541.7 489.4v1M541.8 482v4.2M541.6 497.8v3M541.9 489.8v1M541.5 503v2M541.7 499.1v4.2M542 488.8v4.2M542.2 510.5v2M542.1 490.7v3M542.2 507.2v1.4M541.9 489.3v0.8M542.2 497.7v4.2M542.2 492.4v3M542.5 495.6v1.4M542.3 491.2v5.5M542.5 493.7v2M542.5 488.7v1.4M542.2 485.2v0.8M542.4 497.2v3M542.3 489.8v1.4M542.5 497v3M542.8 504.8v5.5M542.7 481v1.4M542.6 523v1M542.8 491.4v1M542.5 491.3v5.5M542.5 489.2v3M542.7 499v5.5M542.9 496.4v3M543 494.2v1.4M543 511.4v0.8M543 507.3v3M543.2 505.7v1M542.9 502v5.5M543.2 488.9v3M543 501.5v1M543.6 491.7v1M543.4 499.5v2M543.3 490.2v5.5M543.3 496v4.2M543.4 488.8v5.5M543.6 502.3v0.8M543.5 500.3v5.5M543.6 487.9v3M543.8 495.2v3M543.9 504.4v1.4M543.7 494.3v4.2M543.7 509.6v1.4M543.6 506v0.8M543.7 508.9v1.4M543.8 503.9v1.4M543.8 502.7v3M543.9 485.8v1.4M544 493.5v4.2M544.1 502.9v0.8M544.1 500.6v0.8M544 507.5v2M544.1 506.7v0.8M544.3 500.5v0.8M544.6 492.4v0.8M544.4 500.4v2M544.7 496.4v0.8M544.5 516.2v1.4M544.4 489.6v2M544.4 483v0.8M544.8 488v0.8M544.8 490v2M544.7 505.6v0.8M544.7 493.8v3M544.9 484.8v3M544.8 492.9v0.8M544.8 492.5v3M544.8 497.3v1M545.3 494.1v2M545.5 496v2M545.5 506.1v1M545.2 485.9v1.4M545.3 488.9v1M545.2 485.2v1.4M545.2 486.3v1M545.7 515.6v5.5M545.7 509.7v1M545.7 501.1v0.8M545.4 497.8v2M545.4 513.1v1M545.6 503.6v3M545.5 489.2v4.2M545.8 495.2v1.4M545.9 495.6v4.2M545.9 507.4v1.4M545.8 501.8v0.8M545.8 493.7v1M546.1 507.9v1.4M546.1 507.5v0.8M545.9 495.7v3M546.1 502.3v4.2M546.2 499.4v1.4M546.3 496.8v4.2M546.3 499.6v5.5M546.3 503v4.2M546.2 482.6v1M546.2 504.8v0.8M546.3 514.8v1.4M546.2 490.8v3M546.7 502.6v2M546.9 486.6v0.8M546.8 501.6v5.5M546.6 481.2v1M546.6 500.1v5.5M546.8 519.7v3M546.6 516.3v3M547 498.5v1.4M547 503.7v1M547.1 492.6v5.5M547 502.3v3M547.3 500.6v2M547.2 500.7v2M547.1 501v0.8M547.6 501.5v3M547.6 498.9v2M547.5 500.7v2M547.6 505.3v1.4M547.4 505.7v0.8M547.6 505.2v3M547.6 481.4v0.8M547.4 510.2v1.4M547.5 491.1v2M548 513.1v1M547.9 496.4v1.4M548 499.2v2M548 489v3M547.8 502.9v1M548 504.8v1.4M547.9 485.4v3M548.1 503.4v1M547.8 485.4v4.2M548.1 503.2v1M548.1 480.8v1.4M548.4 501.8v1.4M548.2 494.5v1M548.3 489.6v3M548.6 498.5v1.4M548.9 498.9v5.5M548.8 504.8v2M548.6 510.6v5.5M548.7 501.4v5.5M548.6 508.9v3M548.6 496.7v1M549 504v2M549 488.1v4.2M548.9 508v2M549.1 498.2v1M549.2 495.9v0.8M549 504.7v3M549.6 501.7v1M549.6 505.4v1.4M549.4 515.1v2M549.5 516.8v3M549.4 492.5v4.2M549.4 500v3M549.4 500.1v2M549.3 501.4v3M549.8 502.9v3M549.9 509.4v0.8M549.9 502.1v4.2M549.7 499v1M549.8 508.3v5.5M549.8 511v2M549.9 506.1v1M550 499.9v1.4M549.8 499.8v1.4M550.1 497.2v4.2M550.2 499.2v1.4M550.3 501.2v2M550.3 503.4v1M550 494.5v2M550.7 511.6v1.4M550.7 491.3v5.5M550.4 504.4v3M550.6 511.8v5.5M550.7 494.2v3M550.6 498.1v2M550.8 505.6v1.4M550.7 482.3v3M551.1 501.9v2M550.7 495.6v4.2M550.7 490v1M551 487.2v3M550.8 499.1v1.4M550.8 500.6v1.4M551 496v4.2M551.3 493.8v4.2M551.5 490.7v1M551.1 492v1.4M551.2 503.3v0.8M551.3 509.3v1.4M551.4 495.7v1.4M551.1 500.5v2M551.4 506.8v3M551.3 507.6v2M551.7 500.8v0.8M551.6 496.3v0.8M551.7 493.6v1.4M551.8 496v2M551.4 504.6v1.4M551.5 499.8v2M551.5 496.5v1.4M551.8 497.9v4.2M552.2 507.8v3M552 501.5v2M552 510.3v2M551.9 502v4.2M552.5 505.9v3M552.5 507.2v0.8M552.3 509.3v1.4M552.6 505.8v4.2M552.5 490.3v3M552.6 491.7v1.4M552.4 508.4v1M552.4 503.1v3M552.8 507.5v5.5M552.8 491.4v1M552.7 510.2v1M553 501.8v1M552.7 497.8v0.8M552.8 494.1v1.4M553.1 502.9v1M553.3 512.5v5.5M553.4 498.2v1M553.2 498.2v1.4M553.1 491.8v1M553.2 499.2v1.4M553.1 502.6v5.5M553.1 508.2v4.2M553.7 493.8v0.8M553.9 500.2v0.8M553.6 489v0.8M553.8 495.5v3M553.6 493.3v1M553.7 479.8v2M553.6 489.7v2M553.7 493.2v0.8M554 486.8v4.2M553.9 502.9v4.2M554.1 496.8v1M554 490.2v1M554.3 500.4v4.2M554.1 485.8v4.2M554.1 496.3v1.4M554 496.1v1.4M554 495.1v0.8M554.4 505.5v1.4M554.3 504.1v1.4M554.2 496.4v0.8M554.6 504.9v2M554.4 496.3v4.2M554.3 498.9v0.8M554.4 507v1M554.7 493v2M554.8 489.4v0.8M554.7 501.3v0.8M554.7 488.9v4.2M554.8 494v2M554.9 496.6v4.2M555.1 496.4v3M555.4 503.8v1M555.2 504.4v4.2M555.3 496.6v4.2M555.2 494.4v3M555.7 506.3v0.8M555.7 485.1v5.5M555.5 496v4.2M555.7 502.7v0.8M555.7 505.4v1.4M555.8 488.5v4.2M555.5 487.6v0.8M555.8 505.8v5.5M555.5 499.7v0.8M556 501.6v1M556 481.2v0.8M556 502.6v1M555.8 488.2v3M555.9 500.6v2M556.2 479v3M555.9 500.7v5.5M556.5 483.2v3M556.2 514v3M556.4 497.6v1M556.3 479.1v1.4M556.3 501.3v3M556.3 500.5v5.5M556.8 489.2v0.8M556.9 482.5v5.5M556.7 499.5v5.5M556.9 486.5v1.4M556.8 500.8v1M556.7 497.1v1M557.2 494.9v3M557.1 497.1v1M557.2 502.9v1.4M556.9 501.5v5.5M557.1 492v3M557.1 505.5v0.8M557 490.5v2M556.9 498.9v4.2M556.9 509.2v1M557.6 517.7v1M557.4 491.2v1.4M557.6 519.7v4.2M557.6 486.5v1M557.6 483.5v3M557.8 505.3v0.8M557.9 494.3v0.8M558 501v4.2M558 494.5v2M557.8 494.7v5.5M557.7 493v0.8M558.1 499.4v4.2M558.2 488.9v4.2M558.4 495.5v1M558.3 494.4v1M558.1 501v2M558.5 501.6v3M558.2 494.9v5.5M558.2 500.2v0.8M558.8 502.1v3M558.9 498.2v1M558.8 493.8v3M558.5 491.4v5.5M558.8 490v2M558.8 496v1.4M558.6 490.9v1.4M558.9 487.4v5.5M558.9 496.6v5.5M559.2 495.4v5.5M559.1 487.4v5.5M559.1 484.6v5.5M559.1 495.5v0.8M559 495.4v3M559 489.8v5.5M559.2 497v5.5M559.4 497.4v1.4M559.5 497.4v0.8M559.7 497.9v1.4M559.3 499.5v0.8M559.5 494.2v1M559.3 487.7v3M559.7 494.7v0.8M559.8 485.4v3M559.8 495.6v3M559.7 501.6v4.2M559.8 489.1v1M559.9 500.8v3M559.9 492.8v1.4M560.3 482.8v1.4M560.4 492.4v3M560.1 495.9v2M560.5 505.6v1M560.3 491.1v2M560.2 477.9v5.5M560.4 498.5v4.2M560.6 504.1v0.8M560.7 492.9v2M560.6 485v1.4M560.8 493.1v1.4M560.7 497.1v1M560.5 501.5v1.4M560.7 498.1v0.8M561.1 499.1v3M561 495.4v1M560.9 501.6v1.4M561.2 504.3v2M561.2 494.4v1M561 490.3v1.4M561.3 507.1v3M561.3 500.7v1.4M561.6 501.7v5.5M561.5 497.2v1.4M561.5 493.3v1.4M561.3 497.3v2M561.6 510.1v3M561.9 485v0.8M561.7 485.4v3M562.1 479.3v0.8M561.8 481.2v1.4M561.9 488.4v3M561.7 492.1v3M561.8 487v0.8M562 497.1v1M562.2 480.9v3M562.1 480.7v1.4M562.1 492.3v3M562.4 482.9v2M562.4 493.1v1.4M562.4 471.3v2M562.5 500.5v1M562.6 491.4v2M562.8 496.7v2M562.7 503.8v1.4M562.6 487.8v0.8M563.1 492.4v2M563.2 510.2v1.4M563 497.3v1.4M563.1 486.3v1.4M563.1 501.8v1M563.2 504.4v0.8M563.1 508.3v0.8M563.3 491.1v2M563.5 491.3v0.8M563.5 496v3M563.7 495.9v1M563.4 495.3v3M563.6 494.8v1.4M563.6 494v2M563.8 498v4.2M563.7 495v3M563.9 488.9v1M563.8 468.2v1M563.7 488v4.2M563.8 496.2v1M563.7 503.3v1M563.8 494.1v1M564.1 495.7v2M564.2 493.3v5.5M564.2 494.8v2M564 500.2v3M564.1 498.3v1M564 498.5v2M564.2 493.6v3M564.5 496.2v1M564.7 485.3v1M564.5 489.8v0.8M564.8 498.7v3M564.6 475.9v5.5M564.5 497.4v1M564.7 498.3v3M564.5 489.9v2M564.7 500.5v4.2M565.1 497.3v3M564.8 501.8v5.5M565 501.3v1M565.1 495.1v1M564.9 501.3v2M565.3 489.2v3M565.3 499.9v1M565.1 498v3M565.3 490.2v1M565.3 498.8v2M565.3 477.7v2M565.3 481.8v5.5M565.7 489.9v5.5M565.6 487.9v2M565.6 493.7v4.2M565.5 507.3v1.4M565.8 499v5.5M565.5 502.6v1M565.6 487.6v2M566.1 494.3v4.2M566 488.5v1M566.2 493.9v2M566.2 493.7v1M566 493v0.8M566.2 495.2v4.2M566.2 485.7v2M566.6 489.8v1.4M566.6 492.5v5.5M566.4 489.1v1.4M566.3 490.5v1.4M566.4 482.3v4.2M567 493.1v4.2M566.8 499.4v1.4M567 482.5v2M567 472.3v3M567 500.5v1M566.8 479.2v5.5M566.9 488.4v0.8M567.1 485.7v1M567.1 489v1M567.2 501.3v1.4M567.3 492.1v1.4M567.4 504.8v5.5M567.3 490v3M567.2 494v2M567.5 494.7v5.5M567.2 497.3v2M567.7 492.6v4.2M568 494.6v3M567.7 498.6v5.5M567.6 496v1M567.8 502.2v0.8M567.9 491.5v3M568.1 496.5v2M568.3 493.4v1.4M568.1 492.2v2M568.3 495v4.2M568.2 496.7v5.5M568.2 496.7v0.8M568.1 504v0.8M568.5 487.7v0.8M568.3 492.5v4.2M568.3 498.8v2M568.6 488.6v5.5M568.4 494.2v2M568.3 496v1.4M568.6 503.3v3M568.5 481.4v1M568.3 483.9v0.8M569 498.6v1M568.9 485.2v2M568.7 493.7v5.5M568.7 495.5v4.2M568.9 491.2v4.2M569.2 481.1v3M569.1 488.1v2M569 495.9v2M569.1 468.6v2M569.1 479.7v2M569.1 476.8v2M569.2 480.7v0.8M569.5 500.9v4.2M569.7 498.9v1.4M569.6 496.1v1M569.4 494.1v4.2M569.6 499v5.5M570 483.6v1M570.1 485.5v5.5M570.1 495.4v0.8M570.1 494.6v5.5M570.1 506.1v1M570.1 505.3v0.8M569.9 497.4v1M570.2 502.4v0.8M570.5 479.5v3M570.3 483.2v4.2M570.2 493.8v1M570.5 491.2v2M570.3 495v3M570.2 485.8v3M570.5 484.1v2M570.8 490.9v4.2M570.8 488.4v5.5M570.6 481.9v0.8M570.8 502.7v4.2M570.9 490.2v0.8M570.7 498.5v0.8M570.9 500.5v5.5M570.9 489.6v1.4M571 494.4v1M570.9 490v1.4M571.3 483.7v1M571 490.4v1.4M571 487.2v1M571 498.5v2M571.2 494.1v1.4M571.6 493.4v1.4M571.6 500.6v3M571.5 494.6v5.5M571.3 485.9v5.5M571.6 499.2v4.2M571.5 492.1v2M571.4 499.1v4.2M571.8 496.3v1M571.7 494v3M571.9 501.9v1.4M571.8 500.1v2M571.6 503.9v3M571.6 486.9v1M571.8 501.9v4.2M571.9 505.4v1.4M572.4 495.3v3M572.3 494.7v3M572.4 489.4v0.8M572.2 488.7v2M572.1 486.4v1.4M572.2 487.7v4.2M572.2 484.7v4.2M572 489.8v1.4M572.4 491.2v1M572.5 490.1v2M572.7 490.4v0.8M572.5 492v2M572.6 494.1v1M572.8 481.8v2M572.8 500.8v4.2M572.6 486.9v0.8M573 491v4.2M573.1 484.5v1M573.2 491v0.8M572.9 487.6v2M572.9 496.5v1.4M573.1 490.3v4.2M573.2 483.7v3M572.9 509.1v0.8M573.3 491.1v5.5M573.2 493.9v1.4M573.4 483.7v0.8M573.4 496.7v0.8M573.5 490v5.5M573.2 487.2v2M573.4 486.9v4.2M573.7 494.8v0.8M573.7 495.5v2M573.8 489.9v0.8M573.7 488.4v4.2M573.6 491.9v1M573.6 494.3v1M573.7 489.7v4.2M574.2 492.7v0.8M574.1 500.3v2M574 488.1v5.5M574 485.2v3M574.2 474.6v5.5M574.1 502.4v3M574.2 491v1.4M574.2 498.4v4.2M574.1 483.5v4.2M574.6 486.6v0.8M574.5 495.1v5.5M574.6 487.9v1M574.6 479.6v1M574.7 495.1v3M574.6 485v5.5M574.9 501.2v3M575 497.2v3M575 498.7v2M574.9 488.4v1M574.8 488.9v2M574.8 490.5v1.4M574.8 503.6v0.8M575 478.5v2M574.9 484.1v1M575.3 477.1v2M575.5 500v2M575.4 483.1v4.2M575.4 485.6v0.8M575.4 483.2v4.2M575.7 493v3M575.7 493.7v2M575.6 498.3v1M575.8 490v1.4M575.8 482.5v2M575.7 479.9v4.2M575.7 477.4v4.2M576 502.4v2M576.3 503.1v2M576.3 463.6v0.8M576.2 481.9v2M576.2 490.6v2M576.7 481.1v2M576.7 501.1v4.2M576.7 495.3v0.8M576.5 502v0.8M576.5 490.1v1.4M576.5 485.4v2M576.7 493.2v3M576.9 479.7v4.2M576.8 482.2v1.4M576.8 484.1v0.8M577 480.8v1.4M576.9 484.7v5.5M576.8 484.1v1M576.7 484.9v0.8M577.2 497.6v3M577.3 504.9v1.4M577.4 500.2v3M577.3 488.9v0.8M577.2 497.9v2M577.5 497.5v1M577.4 477.6v2M577.8 483.7v4.2M577.6 505.6v0.8M577.7 489.7v3M577.8 493v4.2M577.9 497.7v1M577.7 489.8v0.8M578.1 484.8v4.2M578.1 488v3M578 492.7v0.8M577.9 483.9v0.8M577.9 501.3v0.8M578.5 482.7v3M578.5 501.4v0.8M578.6 484.2v2M578.5 490.2v4.2M578.6 507.2v5.5M578.5 482.3v5.5M578.7 491.7v3M578.7 483.3v2M578.9 489.7v5.5M579 480.8v5.5M579.1 486.1v1.4M579 484.1v5.5M579 491.1v5.5M579 490.5v3M579 492.2v4.2M579 496.6v2M579 504.6v1M579.4 487.9v5.5M579.2 516.1v1.4M579.2 488.7v2M579.4 492.6v1.4M579.6 477.9v4.2M579.5 493.3v0.8M579.5 495.1v1M579.7 481.8v1.4M579.7 498.1v3M579.6 492.9v5.5M579.6 487.1v4.2M579.6 491.9v5.5M579.4 485.2v0.8M580 483.8v5.5M580.1 492.2v2M579.9 494.4v2M579.7 487.1v4.2M580 487.3v0.8M579.9 481.3v5.5M580 486.7v4.2M580.4 500.4v2M580.2 501.9v0.8M580.2 502.8v5.5M580.2 478.7v1M580.3 480.5v5.5M580.5 490.8v4.2M580.8 492.2v1.4M580.5 482.1v4.2M580.7 489.6v1M580.7 486.5v0.8M580.8 491.6v1.4M580.6 488.1v5.5M581.1 495.9v2M581.1 485.5v3M581.1 487.1v1.4M581 482.3v5.5M581.2 498.6v1M581.1 481.8v0.8M581.5 477v2M581.4 478.6v1.4M581.3 487.8v5.5M581.5 501.1v1M581.4 490.3v3M581.5 491.6v1.4M581.5 500.5v0.8M581.8 483v4.2M581.7 499.4v3M581.9 479v0.8M582 487.9v1M582 494.2v1M582 490.9v5.5M581.7 501.4v3M582 500v1M582.1 486.7v3M582.3 496.8v3M582.2 469.4v1M582.3 495.9v5.5M582.2 498.3v1.4M582.2 499.8v5.5M582.6 485.8v2M582.4 496.2v4.2M582.3 486.7v2M582.5 483.3v4.2M582.6 495.4v3M582.5 496.9v4.2M582.5 489.4v2M583 492.2v4.2M582.7 497.8v5.5M583 486.1v5.5M582.8 492.3v2M582.7 490.4v0.8M583 491.2v1M583.4 491.1v1M583.4 474.9v4.2M583.4 478.8v5.5M583.2 486.4v3M583.4 485.5v2M583.6 498v3M583.6 491.9v5.5M583.6 483.8v4.2M583.8 484.8v0.8M583.5 500.5v4.2M583.5 491.6v0.8M583.5 486v5.5M583.8 491.6v0.8M584 494.2v0.8M584.1 491.7v4.2M584.1 497.5v0.8M583.9 493.2v0.8M583.8 498.2v0.8M583.8 506.7v1.4M584 490.3v1M583.9 488.2v3M584.4 481.2v5.5M584.3 487.4v2M584.2 484.9v0.8M584.4 491.2v4.2M584.1 487v1M584.1 485.7v1M584.3 487.3v2M584.4 492.2v0.8M584.2 492.6v0.8M584.5 483.7v4.2M584.7 490.5v1M584.6 477.8v3M584.6 470.1v4.2M584.6 479.8v3M584.8 499.6v3M584.9 488.9v3M585.1 493v3M585.3 488.2v2M585 486.1v1M585.3 491.7v1M585.1 495.9v1M585.7 483.1v0.8M585.6 478.5v2M585.5 480.1v0.8M585.6 491.8v5.5M585.4 494.7v1.4M585.9 504.3v0.8M585.9 496.5v2M585.9 490.6v1.4M585.9 493.1v2M585.8 482.5v5.5M585.8 495.6v1M586.1 502v1.4M585.9 497.1v2M586 481.6v5.5M586.1 484.5v2M586.1 488v1M586.4 483.3v1M586.3 488.1v1.4M586 488.2v5.5M586 493.1v5.5M586.6 489.7v4.2M586.4 494.1v2M586.5 484.5v0.8M586.5 480.5v2M586.5 487.5v1.4M586.7 485.2v1M586.7 504.5v1M587.1 486.6v4.2M587 494.6v0.8M586.9 483v1.4M587.1 477.7v4.2M587 489.5v3M587.1 490.4v1M587 493.7v3M587.1 490.3v3M587.2 480.1v3M587.1 493.4v0.8M587.1 485.5v1.4M587.3 485.1v1M587.2 487.8v5.5M587.1 501.1v1M587.2 503.7v0.8M587.5 487.1v5.5M587.8 505.2v4.2M587.8 497.9v1.4M587.5 493.6v4.2M587.5 499.8v1.4M587.8 490.9v4.2M588.1 487.3v0.8M588 484.6v5.5M587.9 493.9v4.2M588 484.9v4.2M588.1 488.5v3M588.2 489.9v5.5M588.3 483.8v1.4M588.1 480.4v5.5M588.1 498.9v1M588.3 493.6v3M588.3 491.3v4.2M588.3 487.3v2M588.3 485.6v3M588.4 494.1v2M588.9 502.3v2M588.8 494.6v2M588.7 483.7v4.2M588.7 496.9v1M588.5 497.2v3M588.8 488.2v2M589.2 499.4v4.2M589.2 492.3v5.5M589.2 488.3v1M589 494.6v1M589 482.6v1.4M588.9 494.7v5.5M589.1 487.2v5.5M589.3 495.6v4.2M589.3 483.4v1M589.3 485.6v5.5M589.4 501.6v2M589.3 475.3v1M589.6 489.4v0.8M589.5 493.8v5.5M589.3 491.8v4.2M589.6 491.7v4.2M589.9 485.6v4.2M589.8 487.2v0.8M589.9 484.9v4.2M589.8 493v4.2M589.8 481.2v1.4M589.9 478.8v3M589.9 498.2v4.2M590 488.8v1.4M590 501v3M590 485.7v4.2M590 486.8v0.8M590.2 493.8v1.4M590 474.7v4.2M590.5 484v4.2M590.7 494.2v0.8M590.7 483.7v2M590.5 483.8v4.2M590.7 485.8v4.2M590.6 492.4v3M590.8 495v5.5M590.6 483.8v4.2M590.6 488.7v0.8M591 484.9v5.5M591 477.9v4.2M590.8 487.1v2M590.8 478.6v1M590.9 474v5.5M591 494.6v4.2M591 490.2v0.8M591.2 488.4v4.2M591.3 498.6v0.8M591.2 488.8v5.5M591.2 492.1v1.4M591.2 493.3v1M591.2 497.6v1.4M591.1 493.9v1.4M591.5 496.9v3M591.2 496.7v1.4M591.9 494.5v1.4M591.6 495.1v4.2M591.9 487v5.5M591.7 498.2v1M591.6 480.8v4.2M591.8 493.2v1M591.9 483.4v3M592.1 483.2v2M592.3 472v3M592.2 485.6v2M592 493.7v2M592 484.8v1M592.1 498.1v1M592.2 491.1v3M592.3 505.7v4.2M592.4 499v1.4M592.6 479.6v5.5M592.6 481.2v1.4M592.6 482v3M592.4 503.9v5.5M592.6 475.8v5.5M592.9 486.4v0.8M592.7 496.5v1.4M592.7 490.1v3M593 491.4v5.5M592.7 487.6v5.5M593 490.8v3M593 488.8v1.4M593.3 499.3v1M593.5 480.6v2M593.4 481.8v0.8M593.3 499v1.4M593.3 492.4v1.4M593.6 499.1v3M593.5 495.6v4.2M593.5 488.7v5.5M593.7 506.5v1M593.7 486.9v4.2M593.4 485.3v2M594 495v2M594 495.4v5.5M593.9 515.6v1M593.9 507.2v1M594.1 494.5v1.4M594.1 493.4v1M594.2 482.1v1M594.3 488.5v2M594.2 490.8v3M594.3 492.5v1M594.1 483.6v0.8M594.1 484.5v3M594.3 483.1v1M594.6 486.1v1M594.6 504.5v5.5M594.6 491.6v3M594.5 499.4v1.4M594.6 498v5.5M594.4 496.3v0.8M594.6 494.5v1.4M595.1 495.5v5.5M595 492.9v4.2M595 499v0.8M594.8 504.7v1.4M594.7 501.4v2M595.1 479.4v1M594.8 501.8v3M595.4 488.6v0.8M595.2 489.6v4.2M595.2 493.8v1.4M595.2 500.8v5.5M595.3 495.1v5.5M595.2 505.8v1.4M595.1 499.5v3M595.6 498.2v1.4M595.5 486.6v1.4M595.8 492.7v2M595.4 491.4v1.4M595.7 493v1M596 488.8v5.5M596.1 493.1v5.5M596.1 507.8v5.5M596.1 493.3v0.8M596.2 500.3v0.8M596.2 499.3v1M596.4 487.2v2M596.4 492.7v2M596.3 477.7v3M596.5 501.5v0.8M596.3 502.1v4.2M596.6 480.3v0.8M596.3 501.5v4.2M596.2 481.2v4.2M596.9 494.4v0.8M596.8 499.4v0.8M596.8 488v2M596.8 506.7v1M596.7 492.1v1.4M596.8 493.4v3M596.6 487.2v1.4M596.7 504.3v0.8M597 495.9v2M597.1 498.5v0.8M597.1 488.6v4.2M596.9 484.5v2M596.9 484.8v1.4M596.9 485.7v2M597 476.6v3M597 482.4v4.2M597.1 491v2M597.4 495.3v5.5M597.4 493.4v5.5M597.3 487.9v2M597.3 488.2v1M597.6 490.5v0.8M597.4 480v4.2M597.4 494.7v1M597.5 491.6v5.5M597.7 465.4v2M597.8 495.1v0.8M597.8 477.6v3M597.6 508.8v2M597.6 490.6v0.8M597.6 492.7v1.4M597.7 493.6v1M597.6 502.2v0.8M598.1 488.4v5.5M598.2 490.1v1.4M598.3 509.1v1.4M598.3 493.5v3M598 488.5v5.5M598.5 490.7v1M598.7 488v0.8M598.5 489.9v3M598.4 489.1v5.5M598.4 485.4v4.2M598.8 510.5v0.8M599.1 499v2M599 504.5v2M599.1 495.5v0.8M598.8 494v4.2M599.4 489.3v4.2M599.4 505.7v3M599.4 486.1v2M599.5 492.1v1M599.2 491.3v1M599.5 490.1v3M599.2 495.7v1.4M599.7 499.4v2M599.7 486.3v2M599.8 477.2v5.5M599.5 495.5v1M599.7 490.2v4.2M599.5 496.8v3M599.5 495.6v1.4M600.1 489.6v0.8M600 494.5v0.8M599.9 482.4v5.5M599.9 500.8v0.8M599.9 497.6v2M600 493.4v0.8M600.3 472.2v2M600.5 504.3v4.2M600.2 497.1v0.8M600.5 487.4v1.4M600.5 502.9v2M600.5 493.1v0.8M600.2 512.6v1M600.3 497.5v0.8M600.8 483.7v5.5M601 496.3v2M601 501.5v2M600.8 494v1M600.8 486.2v2M601.3 496.2v2M601.4 494.1v4.2M601.3 502.4v2M601.5 501.2v3M601.4 498v1.4M601.3 501.9v4.2M601.8 491v5.5M601.8 498.9v3M601.7 497.7v2M601.7 495.1v4.2M601.8 498.3v2M601.6 486.6v4.2M602.2 491.5v1.4M602.1 488.2v2M602 482.4v5.5M602 494.6v1.4M601.9 490.4v1M602.1 480.8v5.5M602 470.1v2M602.5 500.3v3M602.3 482.2v1M602.4 500.8v4.2M602.5 492.8v1M602.3 489.6v5.5M602.2 498.8v4.2M602.2 492.8v1M602.3 502.3v3M602.8 495.8v2M602.8 505.3v2M602.8 491.9v1.4M602.7 492.3v4.2M602.8 488.5v1.4M602.6 494.4v1M602.9 491.1v1.4M603 502.1v1M602.8 498.8v1M603 488.1v3M603 488.7v2M603 501.6v1.4M603.2 497.6v1M603.1 476.5v1M603.1 488.1v1M603 490.3v1.4M603 484.6v0.8M603.2 485v2M603.4 493.1v3M603.6 486.7v1.4M603.3 492.7v2M603.4 487v0.8M603.4 486.9v1M603.5 482.6v4.2M603.7 497.5v3M603.7 486.2v1M604 482.6v3M603.7 476.9v4.2M604 493.7v5.5M604 489.8v1M603.7 484.7v5.5M603.8 488.5v2M604.1 484.4v3M604.1 485.6v2M604.1 477.8v5.5M604.2 483v0.8M604.2 490.9v2M604.4 489.9v5.5M604.5 493.8v0.8M604.4 499.2v0.8M604.7 476v5.5M604.6 488.3v0.8M604.6 493.4v2M604.6 479.9v5.5M604.8 506.9v2M604.8 500.3v1M604.7 500.1v1.4M605 488.3v4.2M604.8 494.2v1M604.7 489.8v1.4M605.1 472.6v4.2M605.1 492v3M605.1 481.1v3M605.3 467.2v4.2M605.3 491.8v5.5M605.1 479.9v0.8M605.4 503.1v3M605.1 492v1M605.1 491.9v4.2M605.6 490.1v5.5M605.9 499.4v4.2M605.6 488.2v1.4M605.8 489v4.2M605.5 496.1v2M605.9 497.6v1.4M605.8 496v1M605.7 500.8v1.4M606 498.1v5.5M606 501.2v3M606 506.6v2M606 493.1v5.5M606 494.3v4.2M606.2 491.5v1.4M606 503v0.8M606 475.9v0.8M606.5 478.6v5.5M606.6 489.2v0.8M606.6 493.3v4.2M606.3 496.5v1.4M606.4 493.5v1.4M606.3 488.9v2M606.3 494v2M607 498.7v1.4M607 500.2v1M606.8 498.3v3M606.7 500v2M607 493.4v1.4M607 492.4v3M606.7 493.5v1.4M607.3 478.7v4.2M607.4 487.9v0.8M607.2 483v2M607.3 481.7v0.8M607.2 488.7v4.2M607.3 496.7v2M607.9 494.9v1M607.7 484.9v5.5M607.7 501.6v1.4M607.9 489.9v1.4M607.5 491.3v3M607.7 495.7v3M607.7 502.8v4.2M608 495.4v1.4M608.2 492.2v1M608.1 492.1v0.8M607.9 483.1v4.2M607.9 495.1v2M608.1 500.4v3M608.2 491.5v5.5M608.3 500v2M608.3 512.5v1.4M608.4 483.6v2M608.4 493.4v1.4M608.4 497.7v1.4M608.6 482.5v5.5M608.8 501.6v0.8M608.5 497.8v1M608.8 500.5v1M608.6 479.3v3M608.6 501.3v1.4M608.6 493.1v3M608.6 479.5v2M608.6 491.7v5.5M608.9 489.8v5.5M609 498.3v1.4M609 488.3v1M609.1 482.8v0.8M609.1 484.9v1M609.1 483.9v0.8M609.1 497.9v3M609.4 505.8v1.4M609.3 503v4.2M609.2 502v1M609.2 502.4v1M609.2 500.8v2M609.4 493.9v3M609.2 507v1.4M609.7 488.9v1.4M609.9 504.9v5.5M609.9 504v3M609.6 500.5v1M609.7 492.9v1M609.7 501.2v0.8M609.9 507.3v4.2M609.8 494.8v1M609.6 494.5v5.5M610.1 507v0.8M610.1 496v1.4M610 505.5v1M610.1 505.2v5.5M610 481.4v5.5M610.5 482.2v5.5M610.6 506.3v4.2M610.6 492.3v1M610.6 491.8v0.8M610.7 491.8v1M610.5 491.4v3M610.8 501.4v1M611.1 498.6v1.4M611.1 496v3M611.2 506.4v1M610.9 498.5v1M611.4 487.9v3M611.4 491.1v3M611.2 499.2v3M611.4 482v3M611.2 502.6v3M611.3 484v5.5M611.2 491.3v4.2M612 498.8v3M611.9 494.9v4.2M611.8 494.6v0.8M611.9 499.5v0.8M611.6 499.1v2M612.3 485.1v4.2M612 484.5v5.5M612.1 500.6v1.4M612.2 494.9v1M612 490.9v2M612.6 505.3v1.4M612.4 482.7v0.8M612.7 489.2v3M612.6 487.9v5.5M612.5 494.1v1.4M612.4 494.3v5.5M613.2 490.6v3M613 490.1v5.5M613.2 493.6v1M613 497.3v2M612.9 492v1.4M613 493.7v0.8M612.8 486.3v1M613.6 499.2v1.4M613.4 502.3v1M613.4 499.3v2M613.5 493.2v5.5M613.4 500.8v1M613.5 500.4v1.4M613.3 489.6v1.4M613.5 493v1.4M613.3 493.1v5.5M613.9 497.6v2M613.7 486.7v1.4M613.7 496.2v3M613.8 485.4v4.2M613.7 486.1v2M613.6 484v0.8M614 493.8v0.8M613.9 500.7v1M614.2 487.5v1.4M614.2 496.2v3M614.1 488.4v5.5M614.2 491.9v3M614 487.7v1.4M614.7 495.1v3M614.4 504.9v1M614.5 490.3v2M614.5 503.7v3M614.6 492.4v2M614.5 495.9v3M614.8 494v2M614.9 493.7v1M614.9 488.7v4.2M614.9 490.6v2M614.9 492.4v1M614.7 488v0.8M615.2 490.1v1M615.5 510.7v4.2M615.2 495.2v0.8M615.2 494.7v4.2M615.2 479.7v4.2M615.3 488.4v3M615.3 499.9v1M615.2 488.4v2M615.5 485.7v0.8M615.7 491.2v4.2M615.6 492.2v4.2M615.6 501.1v1.4M615.5 484.2v2M615.7 492.1v2M615.6 493.2v1M615.5 484.8v5.5M615.5 491.1v1.4M616.2 484.5v3M615.9 498.7v5.5M616.1 482v3M616 500.6v1.4M615.9 510.5v4.2M615.9 500.2v2M616.4 510.5v0.8M616.4 495.5v0.8M616.5 480.8v3M616.4 492.4v3M616.3 496.2v4.2M616.3 494.5v1.4M616.6 499.8v4.2M616.8 501.6v1.4M616.8 496.7v0.8M617.1 483.6v1M616.7 502.6v4.2M617 503.6v3M616.7 499.5v5.5M617.3 488.8v4.2M617.2 497v3M617.2 494.3v1.4M617.4 494.1v1.4M617.2 495.2v1.4M617.2 496.8v5.5M617.3 496.5v1M617.4 490.1v5.5M617.4 503.6v0.8M617.7 497.8v2M617.4 498.6v3M617.6 489v3M617.6 508v5.5M617.4 498.6v2M617.6 499.3v1.4M618.1 494v0.8M617.9 484.3v5.5M618 498.4v3M617.9 500.5v2M617.8 500v5.5M618.4 487v2M618.6 496.5v5.5M618.2 494.4v5.5M618.6 498.1v2M618.4 499.7v1.4M618.3 503.8v0.8M618.4 495.9v1M618.5 499.5v5.5M618.3 500.1v2M618.6 483.6v1.4M618.7 501.6v2M618.8 485.2v0.8M618.7 492.2v1M618.6 479v5.5M619.1 483v0.8M619.3 484.1v5.5M619.1 495.7v1M619 513.6v5.5M619.1 487.2v5.5M619.2 499.6v1.4M619.3 503.2v3M619.1 482.6v5.5M619.2 485v5.5M619.7 477.9v5.5M619.7 487.5v0.8M619.7 513.1v1M619.6 475.3v1.4M619.6 489.6v1M619.6 486.1v1.4M619.5 469.8v0.8M619.6 492.6v2M619.6 502.1v2M620.2 491.7v2M620.1 492.6v1.4M620 499.7v2M619.9 491.6v4.2M619.9 502.2v4.2M620.2 496.6v3M620 489.5v2M620.3 498.4v4.2M620.6 497.2v2M620.6 493.5v3M620.4 492.8v3M620.5 489.7v1.4M620.5 505.3v4.2M620.5 492.9v4.2M620.7 507.7v3M621.1 506.3v3M621 481.4v0.8M620.8 503.6v2M620.8 487v3M620.9 485.5v4.2M620.9 490.4v3M621 496.5v4.2M621.3 497.4v0.8M621.1 492v1.4M621.2 489.6v5.5M621.2 490.2v0.8M621.1 505.9v1.4M621.2 500.2v1M621.4 496.8v0.8M621.1 503.7v1.4M621.6 500.6v4.2M621.6 479.4v3M621.5 496.3v1.4M621.6 496.5v5.5M621.4 505.5v1M621.4 492.9v1M621.7 487.2v5.5M621.7 502v3M621.7 508.6v1.4M621.9 489.3v3M621.7 497.5v2M622 501.2v4.2M622 498.2v3M622.1 504.7v2M621.8 494.3v4.2M621.8 503.2v4.2M622.4 508.6v1M622.4 503.8v1M622.3 489.9v4.2M622.1 504.7v1.4M622.2 494.1v4.2M622.2 494v2M622.3 481.5v5.5M622.4 506.3v3M622.2 503.3v2M622.4 484.8v4.2M622.7 500.3v3M622.6 495.8v3M622.7 510.6v4.2M622.7 500.7v1M622.4 488.2v1M622.6 504v1.4M622.4 492.4v3M623.1 505.8v3M623 522.6v2M623.1 491.1v5.5M623 506.6v2M622.8 511.1v0.8M622.8 479.2v1.4M623.1 488.9v1.4M623.1 500.7v5.5M623.5 494.1v5.5M623.4 496.1v4.2M623.1 497.2v3M623.3 497.8v0.8M623.7 499.8v5.5M623.8 491.5v1.4M623.8 495.3v3M623.7 503.3v2M623.5 499.8v5.5M623.8 499.5v3M623.6 497.1v0.8M623.9 501.2v0.8M624 496.4v0.8M623.9 504.1v1M624.2 495.9v1.4M624 497.8v3M624.1 493.3v4.2M624.1 502.4v2M624 495.7v0.8M624.1 502.8v4.2M624.5 505.2v3M624.6 500.4v1M624.3 496.1v1.4M624.5 508.8v0.8M624.4 499.6v5.5M624.5 494.6v5.5M624.8 497.4v5.5M624.7 494.2v3M624.9 503.1v2M624.7 499.5v0.8M624.7 496.7v2M624.7 496.9v5.5M624.8 492.4v5.5M624.7 498.6v1.4M625.1 507v4.2M625.2 506.4v4.2M625.1 500.6v0.8M625.2 510v3M625.4 501v5.5M625.5 496.3v1M625.7 496.5v1M625.6 490.8v5.5M625.5 500.5v0.8M625.5 497.9v0.8M625.5 506.7v0.8M625.6 497.2v1.4M625.5 493.7v4.2M626 503.3v2M626.1 503v0.8M626.1 506.9v0.8M626.1 499.7v1M626 502.6v5.5M626 504.5v1M625.8 513.3v1M626.5 512.1v0.8M626.5 505.4v3M626.3 507.3v4.2M626.4 504.8v1.4M626.5 507v2M626.8 509.4v1M626.8 488.8v1.4M626.7 494.8v2M626.9 488.2v1M626.8 486.7v2M626.7 501.8v0.8M627.3 505.8v0.8M627.4 505.5v1M627.2 495.8v5.5M627.2 497.1v5.5M627.2 497.3v1M627.4 501.6v2M627.1 497v2M627.6 498.6v4.2M627.8 513.6v1.4M627.8 493.7v0.8M627.7 508.1v1M627.6 497.2v3M627.8 500.5v4.2M628 484.8v3M628.3 511.4v2M628.2 486.6v0.8M628.1 499.4v1.4M628 493.6v4.2M628.2 499.2v4.2M627.9 510v1M628.1 499v0.8M628.2 491.5v0.8M628.6 500.3v0.8M628.6 507.4v5.5M628.6 499.4v3M628.5 512.8v1M628.6 488.8v5.5M628.2 490.1v1.4M628.7 500.4v1.4M629 509.5v1M628.8 525.6v4.2M628.7 506.8v2M628.8 491.6v0.8M628.7 494.7v5.5M628.7 490.7v1M629.2 482.1v3M629.2 498.6v1M629 499.9v5.5M629.2 499.7v0.8M629 526.7v5.5M629.3 496.8v1M629 506.6v3M629.4 506.3v2M629.7 487.5v4.2M629.6 507.2v2M629.7 500.1v5.5M629.4 504.5v4.2M629.5 501.7v1.4M629.4 511.4v1M629.9 508.6v0.8M630 500.9v3M629.7 487.5v1M630 508.4v5.5M630 500.1v2M629.9 498.1v1.4M630 511.2v0.8M630.3 498.4v0.8M630.1 514.7v2M630.4 496.6v5.5M630.4 507.5v1.4M630.2 508.7v1M630.8 507.2v1.4M630.8 503.7v3M630.7 500.7v1.4M630.6 501.2v3M630.5 492v1.4M630.9 499.8v0.8M630.7 502.1v0.8M631.1 509.6v2M631.1 509v2M630.9 496.4v3M631 511.2v5.5M631.1 507.7v2M631.1 506.2v0.8M631.6 502.6v2M631.7 504.6v1.4M631.4 518.5v2M631.7 503.1v3M631.6 503.8v4.2M631.4 505.7v1.4M631.4 505.1v3M631.6 500.3v5.5M632 514.3v4.2M632.1 510.7v1.4M632 497.4v3M632 512.5v3M631.9 499.3v5.5M632.3 496.2v1M632.1 499.9v1M632.3 503.6v1M632.3 499.1v4.2M632.4 499.7v1.4M632.1 508.9v1.4M632.4 493.4v4.2M632.9 516.8v4.2M632.6 507.5v5.5M632.7 502v3M632.9 506.5v2M632.6 499.9v3M632.7 509.8v2M632.9 491.2v5.5M633 504.7v3M633.2 521.2v1M633.2 500v4.2M633 514.5v4.2M632.9 501.2v1.4M633.2 513.1v1.4M633.1 499.3v1.4M633.2 494.9v2M633.1 527.4v1M633.5 520.4v3M633.5 527.4v1.4M633.6 508.9v4.2M633.6 520.9v4.2M633.4 499.6v5.5M633.5 495.2v1M633.6 530.5v1M633.8 513.9v1M633.7 497.8v3M633.8 503.1v1M633.9 505.9v2M633.9 503v1M634 516.3v1M633.9 508.4v3M633.8 516.1v4.2M634.4 513.8v1M634.2 492.9v1.4M634.1 515v3M634.2 492.2v5.5M634.3 498.8v1.4M634.4 503.2v3M634.6 507.3v1M634.5 512.7v2M634.6 497.6v1.4M634.7 517.2v4.2M634.5 502.1v0.8M634.6 501v4.2M634.9 513v1.4M635.1 506.6v2M634.8 508.5v1M635.1 507.6v0.8M635.1 493.1v5.5M634.9 506.4v4.2M634.8 507.6v1M635.4 513.6v5.5M635.3 513.6v3M635.2 501.9v1.4M635.4 503.1v4.2M635.4 507.1v1M635.4 518.8v5.5M635.1 518.1v2M635.7 509.2v0.8M635.7 504v1.4M635.9 515v5.5M635.9 510.7v0.8M635.8 506v3M635.7 507.5v1M635.9 506.8v1M636.2 497.2v4.2M636.1 508.4v0.8M636 507.3v4.2M636.1 518.9v0.8M636.1 516.9v3M636.5 502.8v2M636.4 509.3v5.5M636.6 502.6v2M636.5 507.1v3M636.3 515.9v5.5M636.6 512v2M636.7 506.4v5.5M636.7 496.6v3M637.1 510.4v2M637 514.5v5.5M637 512.5v3M637 507v3M636.8 495.1v0.8M637 509.7v4.2M636.8 506.7v2M637.1 502.1v1M636.7 506.4v1M637.4 506.2v4.2M637.2 504.2v3M637.3 505.1v1.4M637.3 502.5v4.2M637.3 518.1v3M637.9 517.3v1.4M637.7 485v4.2M638 516.3v0.8M638 512.6v5.5M638 507.7v3M638 506.9v1.4M638.1 510.5v0.8M638 502.2v4.2M638.2 508.6v0.8M638.3 494.2v5.5M637.9 522.3v2M638.2 505.3v1.4M638.2 521.7v0.8M638.6 502v1M638.5 510.1v1M638.7 511.1v1M638.4 492.7v5.5M638.6 507.6v0.8M638.4 505.6v3M638.6 495.5v2M638.7 509.6v5.5M638.3 494v4.2M638.8 509.8v4.2M638.8 510.8v1M638.8 503.5v5.5M638.8 509.2v2M639.1 512v5.5M638.9 514.2v1.4M639.2 504.1v1.4M639.2 509.2v1.4M639.3 511.3v3M639.3 499.8v3M639.1 497v1M639.8 497.8v1.4M639.9 493.8v1.4M639.7 494.9v0.8M639.6 495.3v3M639.7 501.6v3M639.7 504.3v0.8M640.1 513.4v4.2M640.1 509.9v2M640.1 505.7v3M640.2 510.9v4.2M640.2 504.4v5.5M640.1 500.8v3M640.5 501.6v0.8M640.7 497v2M640.5 508.7v1.4M640.6 510v5.5M640.7 498.4v4.2M640.4 506.5v0.8M641 496.5v3M640.8 507.7v1.4M640.9 507.3v0.8M640.9 505.6v2M641.1 515.3v1.4M640.9 505.2v5.5M640.9 497.7v0.8M641.2 508.1v0.8M641.2 520.7v5.5M641.2 502.6v1M641 513.8v0.8M641 494.9v5.5M641.5 504.7v1.4M641.5 511.6v4.2M641.6 523.3v2M641.5 499.5v1.4M641.5 486.6v1M641.5 506.6v2M641.4 504.4v0.8M642 511.9v3M642 508.7v0.8M642.1 493.5v5.5M641.9 508.8v1M641.9 494.9v4.2M641.7 500.7v1M642 486.9v5.5M641.9 506v5.5M641.9 504.4v4.2M642.4 505.6v2M642.4 503.2v2M642.2 521.9v4.2M642.3 494.6v1M642.4 476.4v5.5M642.9 509.9v5.5M642.8 495.6v3M643 503v4.2M642.7 515.4v2M642.9 502.7v5.5M643.1 498.7v3M643.2 498.5v1M643 514.6v2M643.1 511.1v1.4M643.3 503v3M643.3 500.2v1M643.2 503.6v5.5M643.4 508.6v0.8M643.7 515.1v1.4M643.6 500.5v4.2M643.4 509.4v3M643.7 498.6v4.2M643.5 505v2M644.1 501.1v0.8M643.8 508.2v1.4M644 498.4v4.2M644 493.6v5.5M644 509.4v0.8M644 493.2v4.2M644 516.5v1.4M644.1 498.9v5.5M643.8 504.2v2M644.4 500v5.5M644.3 503.3v3M644.3 502.8v5.5M644.4 498.9v5.5M644.3 507.2v4.2M644.3 505.2v1M644.1 500.9v3M644.9 495.9v1.4M644.7 500.1v3M644.6 503.1v3M644.5 516.9v1.4M644.8 505v1.4M644.6 494.4v2M644.9 488.5v1.4M645 499.2v4.2M645.1 510.1v4.2M644.9 487.9v1.4M645 498v1.4M645.2 511.6v5.5M645.2 516.7v5.5M645 512.4v1M645.1 507.5v1.4M645.6 506.5v5.5M645.5 510.7v5.5M645.4 515.4v1.4M645.4 499.5v0.8M645.3 515v4.2M645.5 489.8v2M645.8 498.9v1.4M645.7 505.8v4.2M645.6 486.5v5.5M645.8 504.8v1M645.9 499.7v5.5M645.8 500.3v5.5M645.7 485v1.4M645.9 512.4v4.2M645.9 501v0.8M646.1 505.3v1M646.2 501.9v3M645.9 501.6v3M646.2 509.6v1M646.1 506.1v2M646 491.7v4.2M646.3 516.8v3M646.4 499v1.4M646.3 503.9v2M646.2 508.9v0.8M646.4 506.1v1.4M646.5 498.4v4.2M646.5 504.9v0.8M646.7 495.9v1.4M646.8 507.2v4.2M646.7 503.9v4.2M646.8 516.3v3M647 504v4.2M646.9 506.8v5.5" fill="none" stroke="#0c0c0c" stroke-width="0.75"/>
<polyline points="364,501.7 374.2,503.8 387.3,504.4 396.5,502.5 403.1,502.5 412.3,508.8 418.8,505.7 426.7,505.7 434.1,499.6 441.2,500.4 450.4,503.8 458.2,503.8 465.6,502.3 472.7,507.8 479.3,503.8 489.8,495.7 497.6,497.3 504.6,497.6 512.1,495.2 518.6,493.9 531.3,498.3 541.8,497.3 549.7,503.1 557.5,495.7 565.4,495.7 573.8,491.2 582.5,490.4 594.3,492.5 603.5,493.3 610.1,495.7 619.3,496.5 628.5,503.1 635.1,507.8 641.6,506.2" fill="none" stroke="#e24c14" stroke-width="1.4" stroke-linejoin="round"/>
</g>
</svg>
</body>
</html>
